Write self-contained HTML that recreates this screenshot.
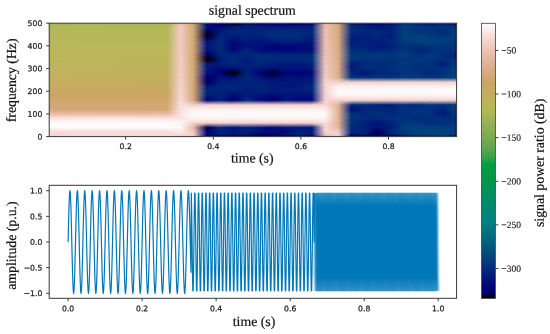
<!DOCTYPE html>
<html lang="en"><head><meta charset="utf-8"><title>signal spectrum</title>
<style>html,body{margin:0;padding:0;background:#fff}svg{display:block}.t{font-family:"DejaVu Sans","Liberation Sans",sans-serif;font-size:7.7px;fill:#1c1c1c;stroke:#1c1c1c;stroke-width:.25px}.s{font-family:"Liberation Serif","DejaVu Serif",serif;font-size:13.8px;fill:#111;stroke:#111;stroke-width:.2px}.c{font-family:"Liberation Serif","DejaVu Serif",serif;font-size:9.5px;fill:#1c1c1c;stroke:#1c1c1c;stroke-width:.15px}</style></head><body>
<svg width="550" height="334" viewBox="0 0 550 334">
<defs><linearGradient id="r23" gradientUnits="userSpaceOnUse" x1="49.5" x2="457.5" y1="0" y2="0"><stop offset="0" stop-color="#d3d7a4"/><stop offset="0.0025" stop-color="#bfc67c"/><stop offset="0.0049" stop-color="#c3ca84"/><stop offset="0.2868" stop-color="#c2c983"/><stop offset="0.2892" stop-color="#c4c984"/><stop offset="0.3211" stop-color="#f1d5ca"/><stop offset="0.3235" stop-color="#f2d3c8"/><stop offset="0.3529" stop-color="#dbbd91"/><stop offset="0.3627" stop-color="#ad9c94"/><stop offset="0.3799" stop-color="#66699a"/><stop offset="0.3848" stop-color="#4a569c"/><stop offset="0.3873" stop-color="#42509c"/><stop offset="0.4167" stop-color="#454298"/><stop offset="0.451" stop-color="#404369"/><stop offset="0.4828" stop-color="#44569d"/><stop offset="0.5417" stop-color="#45469c"/><stop offset="0.6422" stop-color="#434f9c"/><stop offset="0.6446" stop-color="#4b549d"/><stop offset="0.652" stop-color="#7875a6"/><stop offset="0.6691" stop-color="#c9b1b7"/><stop offset="0.6765" stop-color="#f0cdbe"/><stop offset="0.7059" stop-color="#e3c0a0"/><stop offset="0.7083" stop-color="#dfbd9d"/><stop offset="0.7157" stop-color="#b9a69d"/><stop offset="0.7353" stop-color="#62709d"/><stop offset="0.7402" stop-color="#455e9d"/><stop offset="0.7426" stop-color="#425d9d"/><stop offset="0.8064" stop-color="#44529d"/><stop offset="0.8382" stop-color="#445d9d"/><stop offset="0.8701" stop-color="#3f719e"/><stop offset="0.8995" stop-color="#41699e"/><stop offset="0.9314" stop-color="#445c9d"/><stop offset="0.9657" stop-color="#41649d"/><stop offset="0.9902" stop-color="#435e9d"/><stop offset="0.9926" stop-color="#47609e"/><stop offset="0.9951" stop-color="#374f95"/><stop offset="0.9975" stop-color="#a4b0ce"/><stop offset="1" stop-color="#ffffff"/></linearGradient>
<linearGradient id="r24" gradientUnits="userSpaceOnUse" x1="49.5" x2="457.5" y1="0" y2="0"><stop offset="0" stop-color="#c1c67c"/><stop offset="0.0025" stop-color="#a6af3f"/><stop offset="0.0049" stop-color="#abb34d"/><stop offset="0.2868" stop-color="#aab34a"/><stop offset="0.2892" stop-color="#abb34c"/><stop offset="0.2917" stop-color="#afb353"/><stop offset="0.3015" stop-color="#c4b977"/><stop offset="0.3211" stop-color="#eec4b6"/><stop offset="0.3235" stop-color="#edc2b3"/><stop offset="0.3529" stop-color="#cda062"/><stop offset="0.3603" stop-color="#a18164"/><stop offset="0.375" stop-color="#3f3c6d"/><stop offset="0.3824" stop-color="#071371"/><stop offset="0.3848" stop-color="#000671"/><stop offset="0.3873" stop-color="#000271"/><stop offset="0.4167" stop-color="#00006a"/><stop offset="0.4216" stop-color="#000066"/><stop offset="0.4436" stop-color="#00003c"/><stop offset="0.451" stop-color="#000036"/><stop offset="0.4608" stop-color="#000045"/><stop offset="0.4755" stop-color="#000667"/><stop offset="0.4828" stop-color="#000a72"/><stop offset="0.5441" stop-color="#000070"/><stop offset="0.6422" stop-color="#000371"/><stop offset="0.6446" stop-color="#000972"/><stop offset="0.6471" stop-color="#0b1877"/><stop offset="0.6569" stop-color="#5e5188"/><stop offset="0.6642" stop-color="#927992"/><stop offset="0.674" stop-color="#deb1a3"/><stop offset="0.6765" stop-color="#e9b9a4"/><stop offset="0.7059" stop-color="#d6a776"/><stop offset="0.7083" stop-color="#d1a273"/><stop offset="0.7279" stop-color="#4e4e74"/><stop offset="0.7328" stop-color="#273773"/><stop offset="0.7353" stop-color="#0e2c72"/><stop offset="0.7377" stop-color="#002073"/><stop offset="0.7402" stop-color="#001673"/><stop offset="0.7426" stop-color="#001473"/><stop offset="0.7819" stop-color="#000772"/><stop offset="0.8064" stop-color="#000572"/><stop offset="0.8358" stop-color="#001072"/><stop offset="0.8701" stop-color="#003274"/><stop offset="0.9314" stop-color="#001673"/><stop offset="0.9632" stop-color="#002073"/><stop offset="0.9877" stop-color="#001873"/><stop offset="0.9926" stop-color="#001b75"/><stop offset="0.9951" stop-color="#000467"/><stop offset="0.9975" stop-color="#7e8fba"/><stop offset="1" stop-color="#ffffff"/></linearGradient>
<linearGradient id="r25" gradientUnits="userSpaceOnUse" x1="49.5" x2="457.5" y1="0" y2="0"><stop offset="0" stop-color="#c5ca85"/><stop offset="0.0025" stop-color="#acb34e"/><stop offset="0.0049" stop-color="#b1b859"/><stop offset="0.2868" stop-color="#b0b757"/><stop offset="0.2892" stop-color="#b0b758"/><stop offset="0.2917" stop-color="#b4b85f"/><stop offset="0.3162" stop-color="#e6c6af"/><stop offset="0.3211" stop-color="#efc9bc"/><stop offset="0.3235" stop-color="#eec7b9"/><stop offset="0.3333" stop-color="#e5bda2"/><stop offset="0.3529" stop-color="#d0a86d"/><stop offset="0.3652" stop-color="#8d7772"/><stop offset="0.375" stop-color="#464477"/><stop offset="0.3848" stop-color="#05187a"/><stop offset="0.3873" stop-color="#00117a"/><stop offset="0.4167" stop-color="#030576"/><stop offset="0.451" stop-color="#000e56"/><stop offset="0.4828" stop-color="#001e7b"/><stop offset="0.5441" stop-color="#00117a"/><stop offset="0.6422" stop-color="#00177b"/><stop offset="0.6446" stop-color="#061f7c"/><stop offset="0.6495" stop-color="#2f3884"/><stop offset="0.6569" stop-color="#645d8f"/><stop offset="0.6642" stop-color="#a1889c"/><stop offset="0.674" stop-color="#e0b6ab"/><stop offset="0.6765" stop-color="#ecbeac"/><stop offset="0.7059" stop-color="#daad81"/><stop offset="0.7083" stop-color="#d5a97e"/><stop offset="0.7206" stop-color="#8c7b7e"/><stop offset="0.7279" stop-color="#53597d"/><stop offset="0.7353" stop-color="#203c7d"/><stop offset="0.7377" stop-color="#0a327c"/><stop offset="0.7402" stop-color="#00287c"/><stop offset="0.8064" stop-color="#00177b"/><stop offset="0.8358" stop-color="#00207b"/><stop offset="0.8701" stop-color="#00407e"/><stop offset="0.9314" stop-color="#002a7c"/><stop offset="0.9632" stop-color="#00327c"/><stop offset="0.9902" stop-color="#002c7c"/><stop offset="0.9926" stop-color="#00307e"/><stop offset="0.9951" stop-color="#001972"/><stop offset="0.9975" stop-color="#8698bf"/><stop offset="1" stop-color="#ffffff"/></linearGradient>
<linearGradient id="r26" gradientUnits="userSpaceOnUse" x1="49.5" x2="457.5" y1="0" y2="0"><stop offset="0" stop-color="#c5c984"/><stop offset="0.0025" stop-color="#adb34c"/><stop offset="0.0049" stop-color="#b2b758"/><stop offset="0.2868" stop-color="#b1b656"/><stop offset="0.2892" stop-color="#b0b757"/><stop offset="0.2917" stop-color="#b4b85e"/><stop offset="0.3186" stop-color="#ecc8b8"/><stop offset="0.3211" stop-color="#f0c9be"/><stop offset="0.3235" stop-color="#efc7bb"/><stop offset="0.3529" stop-color="#d0a76d"/><stop offset="0.3578" stop-color="#b7936f"/><stop offset="0.3725" stop-color="#595074"/><stop offset="0.3848" stop-color="#011478"/><stop offset="0.3873" stop-color="#000d78"/><stop offset="0.4167" stop-color="#000676"/><stop offset="0.4265" stop-color="#00096c"/><stop offset="0.4387" stop-color="#00106c"/><stop offset="0.451" stop-color="#001364"/><stop offset="0.4583" stop-color="#00176c"/><stop offset="0.473" stop-color="#00196f"/><stop offset="0.4828" stop-color="#001e79"/><stop offset="0.5417" stop-color="#001679"/><stop offset="0.6422" stop-color="#001879"/><stop offset="0.6446" stop-color="#00207a"/><stop offset="0.652" stop-color="#414787"/><stop offset="0.6569" stop-color="#686290"/><stop offset="0.674" stop-color="#e1b6ac"/><stop offset="0.6765" stop-color="#ecbead"/><stop offset="0.7059" stop-color="#daac81"/><stop offset="0.7083" stop-color="#d5a87e"/><stop offset="0.7279" stop-color="#565b7c"/><stop offset="0.7304" stop-color="#45517b"/><stop offset="0.7377" stop-color="#05317a"/><stop offset="0.7402" stop-color="#00277a"/><stop offset="0.8064" stop-color="#001679"/><stop offset="0.8358" stop-color="#001c79"/><stop offset="0.8701" stop-color="#003f7c"/><stop offset="0.9314" stop-color="#002a7b"/><stop offset="0.9632" stop-color="#00327b"/><stop offset="0.9902" stop-color="#002e7b"/><stop offset="0.9926" stop-color="#00327d"/><stop offset="0.9951" stop-color="#001b71"/><stop offset="0.9975" stop-color="#8499bf"/><stop offset="1" stop-color="#ffffff"/></linearGradient>
<linearGradient id="r27" gradientUnits="userSpaceOnUse" x1="49.5" x2="457.5" y1="0" y2="0"><stop offset="0" stop-color="#c6ca84"/><stop offset="0.0025" stop-color="#aeb34b"/><stop offset="0.0049" stop-color="#b3b858"/><stop offset="0.2868" stop-color="#b2b756"/><stop offset="0.2892" stop-color="#b2b757"/><stop offset="0.2941" stop-color="#bdba6b"/><stop offset="0.3211" stop-color="#f1cabf"/><stop offset="0.3235" stop-color="#f0c8bb"/><stop offset="0.3431" stop-color="#dcb38b"/><stop offset="0.3529" stop-color="#d1a770"/><stop offset="0.3603" stop-color="#a18371"/><stop offset="0.3799" stop-color="#2f3277"/><stop offset="0.3824" stop-color="#1c2678"/><stop offset="0.3848" stop-color="#031678"/><stop offset="0.3873" stop-color="#000e78"/><stop offset="0.4191" stop-color="#000c76"/><stop offset="0.451" stop-color="#001c75"/><stop offset="0.4583" stop-color="#001f78"/><stop offset="0.6422" stop-color="#001e7a"/><stop offset="0.6446" stop-color="#00267b"/><stop offset="0.6495" stop-color="#364486"/><stop offset="0.6544" stop-color="#595b8e"/><stop offset="0.6691" stop-color="#b89aa4"/><stop offset="0.674" stop-color="#deb4ac"/><stop offset="0.6765" stop-color="#edbeae"/><stop offset="0.7059" stop-color="#dbad83"/><stop offset="0.7083" stop-color="#d5a880"/><stop offset="0.7132" stop-color="#b0927f"/><stop offset="0.7304" stop-color="#4a547c"/><stop offset="0.7353" stop-color="#26417b"/><stop offset="0.7377" stop-color="#0a367a"/><stop offset="0.7402" stop-color="#002a7a"/><stop offset="0.7721" stop-color="#00237a"/><stop offset="0.8015" stop-color="#001879"/><stop offset="0.8358" stop-color="#001b7a"/><stop offset="0.8701" stop-color="#00407c"/><stop offset="0.9289" stop-color="#00307b"/><stop offset="0.9632" stop-color="#00347b"/><stop offset="0.9902" stop-color="#00337b"/><stop offset="0.9926" stop-color="#00367d"/><stop offset="0.9951" stop-color="#002270"/><stop offset="0.9975" stop-color="#849bbf"/><stop offset="1" stop-color="#ffffff"/></linearGradient>
<linearGradient id="r28" gradientUnits="userSpaceOnUse" x1="49.5" x2="457.5" y1="0" y2="0"><stop offset="0" stop-color="#c6ca84"/><stop offset="0.0025" stop-color="#aeb34b"/><stop offset="0.0049" stop-color="#b3b858"/><stop offset="0.2868" stop-color="#b2b756"/><stop offset="0.2892" stop-color="#b3b757"/><stop offset="0.3015" stop-color="#ccbf83"/><stop offset="0.3211" stop-color="#f1cbc0"/><stop offset="0.3235" stop-color="#f0c9bd"/><stop offset="0.3456" stop-color="#dab186"/><stop offset="0.3529" stop-color="#d1a770"/><stop offset="0.3603" stop-color="#a4846b"/><stop offset="0.375" stop-color="#4d4571"/><stop offset="0.3799" stop-color="#2c2d70"/><stop offset="0.3848" stop-color="#03116d"/><stop offset="0.3873" stop-color="#000b6f"/><stop offset="0.3971" stop-color="#000d73"/><stop offset="0.4118" stop-color="#000c73"/><stop offset="0.4191" stop-color="#001078"/><stop offset="0.451" stop-color="#00217b"/><stop offset="0.6422" stop-color="#00217a"/><stop offset="0.6446" stop-color="#00287b"/><stop offset="0.6495" stop-color="#304284"/><stop offset="0.6544" stop-color="#595c8d"/><stop offset="0.6765" stop-color="#edbfaf"/><stop offset="0.7059" stop-color="#dbad83"/><stop offset="0.7083" stop-color="#d6a980"/><stop offset="0.7181" stop-color="#95817f"/><stop offset="0.7304" stop-color="#49557c"/><stop offset="0.7353" stop-color="#22417b"/><stop offset="0.7377" stop-color="#06367a"/><stop offset="0.7402" stop-color="#002b7a"/><stop offset="0.7794" stop-color="#002379"/><stop offset="0.799" stop-color="#001b79"/><stop offset="0.8309" stop-color="#001c79"/><stop offset="0.8382" stop-color="#001f7a"/><stop offset="0.8701" stop-color="#00407c"/><stop offset="0.902" stop-color="#00357b"/><stop offset="0.9338" stop-color="#00317b"/><stop offset="0.9902" stop-color="#00347b"/><stop offset="0.9926" stop-color="#00377d"/><stop offset="0.9951" stop-color="#002470"/><stop offset="0.9975" stop-color="#839dbf"/><stop offset="1" stop-color="#ffffff"/></linearGradient>
<linearGradient id="r29" gradientUnits="userSpaceOnUse" x1="49.5" x2="457.5" y1="0" y2="0"><stop offset="0" stop-color="#c6ca84"/><stop offset="0.0025" stop-color="#afb34b"/><stop offset="0.0049" stop-color="#b4b858"/><stop offset="0.2868" stop-color="#b3b756"/><stop offset="0.2892" stop-color="#b3b757"/><stop offset="0.2917" stop-color="#b7b85e"/><stop offset="0.3186" stop-color="#edcaba"/><stop offset="0.3211" stop-color="#f1cbc0"/><stop offset="0.3235" stop-color="#f0c9bd"/><stop offset="0.3529" stop-color="#d1a770"/><stop offset="0.3627" stop-color="#9a7b68"/><stop offset="0.375" stop-color="#473e67"/><stop offset="0.3848" stop-color="#020b5f"/><stop offset="0.3873" stop-color="#000660"/><stop offset="0.4191" stop-color="#001378"/><stop offset="0.4485" stop-color="#002279"/><stop offset="0.5662" stop-color="#00267a"/><stop offset="0.6422" stop-color="#00237a"/><stop offset="0.6446" stop-color="#00297b"/><stop offset="0.652" stop-color="#3f4c88"/><stop offset="0.6642" stop-color="#9d8b9d"/><stop offset="0.6716" stop-color="#d2aea9"/><stop offset="0.6765" stop-color="#edbfaf"/><stop offset="0.7059" stop-color="#dbad83"/><stop offset="0.7083" stop-color="#d6a980"/><stop offset="0.7157" stop-color="#aa8e7f"/><stop offset="0.7255" stop-color="#68667e"/><stop offset="0.7328" stop-color="#30497b"/><stop offset="0.7353" stop-color="#1b3f7b"/><stop offset="0.7377" stop-color="#01357a"/><stop offset="0.7402" stop-color="#002b7a"/><stop offset="0.7451" stop-color="#00297a"/><stop offset="0.8162" stop-color="#001e79"/><stop offset="0.8382" stop-color="#00207a"/><stop offset="0.8701" stop-color="#003f7c"/><stop offset="0.902" stop-color="#00347b"/><stop offset="0.9412" stop-color="#00317b"/><stop offset="0.9877" stop-color="#00347b"/><stop offset="0.9926" stop-color="#00397d"/><stop offset="0.9951" stop-color="#002770"/><stop offset="0.9975" stop-color="#839ebf"/><stop offset="1" stop-color="#ffffff"/></linearGradient>
<linearGradient id="r30" gradientUnits="userSpaceOnUse" x1="49.5" x2="457.5" y1="0" y2="0"><stop offset="0" stop-color="#c6ca84"/><stop offset="0.0025" stop-color="#afb34b"/><stop offset="0.0049" stop-color="#b4b858"/><stop offset="0.2868" stop-color="#b3b756"/><stop offset="0.2892" stop-color="#b3b757"/><stop offset="0.2917" stop-color="#b7b85e"/><stop offset="0.3186" stop-color="#edcaba"/><stop offset="0.3211" stop-color="#f1cbc0"/><stop offset="0.3235" stop-color="#f0c9bd"/><stop offset="0.3529" stop-color="#d1a770"/><stop offset="0.3627" stop-color="#9a7c68"/><stop offset="0.3725" stop-color="#56445d"/><stop offset="0.3848" stop-color="#020653"/><stop offset="0.3873" stop-color="#000254"/><stop offset="0.3946" stop-color="#000459"/><stop offset="0.4044" stop-color="#000c69"/><stop offset="0.4191" stop-color="#001679"/><stop offset="0.451" stop-color="#00247a"/><stop offset="0.4951" stop-color="#00227a"/><stop offset="0.5956" stop-color="#00287a"/><stop offset="0.6422" stop-color="#00247a"/><stop offset="0.6446" stop-color="#002b7b"/><stop offset="0.6495" stop-color="#2b4284"/><stop offset="0.6642" stop-color="#a08c9e"/><stop offset="0.674" stop-color="#e1b7ae"/><stop offset="0.6765" stop-color="#edbfaf"/><stop offset="0.7059" stop-color="#dbad83"/><stop offset="0.7083" stop-color="#d6a980"/><stop offset="0.723" stop-color="#79727e"/><stop offset="0.7353" stop-color="#1e3f7c"/><stop offset="0.7377" stop-color="#05357b"/><stop offset="0.7402" stop-color="#002b7a"/><stop offset="0.7745" stop-color="#00237a"/><stop offset="0.8358" stop-color="#00207a"/><stop offset="0.8701" stop-color="#003f7c"/><stop offset="0.902" stop-color="#00347b"/><stop offset="0.9314" stop-color="#00347b"/><stop offset="0.9559" stop-color="#002d7a"/><stop offset="0.9755" stop-color="#00307a"/><stop offset="0.9902" stop-color="#00377b"/><stop offset="0.9926" stop-color="#003c7d"/><stop offset="0.9951" stop-color="#002970"/><stop offset="0.9975" stop-color="#849fbf"/><stop offset="1" stop-color="#ffffff"/></linearGradient>
<linearGradient id="r31" gradientUnits="userSpaceOnUse" x1="49.5" x2="457.5" y1="0" y2="0"><stop offset="0" stop-color="#c8ca84"/><stop offset="0.0025" stop-color="#b1b34b"/><stop offset="0.0049" stop-color="#b6b858"/><stop offset="0.2868" stop-color="#b5b756"/><stop offset="0.2892" stop-color="#b5b757"/><stop offset="0.299" stop-color="#c8bd7a"/><stop offset="0.3211" stop-color="#f1cbc0"/><stop offset="0.3235" stop-color="#f0c9bd"/><stop offset="0.3529" stop-color="#d1a770"/><stop offset="0.3603" stop-color="#a48368"/><stop offset="0.375" stop-color="#483851"/><stop offset="0.3848" stop-color="#020245"/><stop offset="0.3873" stop-color="#000046"/><stop offset="0.3971" stop-color="#000455"/><stop offset="0.4142" stop-color="#001474"/><stop offset="0.4191" stop-color="#001879"/><stop offset="0.451" stop-color="#00277a"/><stop offset="0.4902" stop-color="#00227a"/><stop offset="0.5637" stop-color="#002b7b"/><stop offset="0.6422" stop-color="#00277a"/><stop offset="0.6446" stop-color="#002c7b"/><stop offset="0.6495" stop-color="#304685"/><stop offset="0.6569" stop-color="#6a6a92"/><stop offset="0.6667" stop-color="#a993a0"/><stop offset="0.674" stop-color="#e1b7ae"/><stop offset="0.6765" stop-color="#edbfaf"/><stop offset="0.7059" stop-color="#dbad83"/><stop offset="0.7083" stop-color="#d6a980"/><stop offset="0.7181" stop-color="#95817f"/><stop offset="0.7304" stop-color="#49557c"/><stop offset="0.7353" stop-color="#21407c"/><stop offset="0.7377" stop-color="#03367b"/><stop offset="0.7402" stop-color="#002c7b"/><stop offset="0.7672" stop-color="#00247a"/><stop offset="0.8064" stop-color="#00277a"/><stop offset="0.8358" stop-color="#00217a"/><stop offset="0.8676" stop-color="#003d7c"/><stop offset="0.8725" stop-color="#003e7c"/><stop offset="0.8995" stop-color="#00347b"/><stop offset="0.9314" stop-color="#00357b"/><stop offset="0.9657" stop-color="#002a7a"/><stop offset="0.9902" stop-color="#00387b"/><stop offset="0.9926" stop-color="#003e7d"/><stop offset="0.9951" stop-color="#002b70"/><stop offset="0.9975" stop-color="#83a0bf"/><stop offset="1" stop-color="#ffffff"/></linearGradient>
<linearGradient id="r32" gradientUnits="userSpaceOnUse" x1="49.5" x2="457.5" y1="0" y2="0"><stop offset="0" stop-color="#c8ca84"/><stop offset="0.0025" stop-color="#b1b34b"/><stop offset="0.0049" stop-color="#b6b858"/><stop offset="0.2868" stop-color="#b5b756"/><stop offset="0.2892" stop-color="#b5b757"/><stop offset="0.2966" stop-color="#c5bc74"/><stop offset="0.3211" stop-color="#f1cbbf"/><stop offset="0.3235" stop-color="#f0c8bc"/><stop offset="0.348" stop-color="#d8ae81"/><stop offset="0.3529" stop-color="#d1a770"/><stop offset="0.3603" stop-color="#9f7e62"/><stop offset="0.3775" stop-color="#3a2b47"/><stop offset="0.3824" stop-color="#18103f"/><stop offset="0.3848" stop-color="#020138"/><stop offset="0.3873" stop-color="#00003a"/><stop offset="0.402" stop-color="#000758"/><stop offset="0.4191" stop-color="#001b79"/><stop offset="0.451" stop-color="#00277a"/><stop offset="0.4902" stop-color="#00227a"/><stop offset="0.5784" stop-color="#002e7b"/><stop offset="0.6422" stop-color="#00277a"/><stop offset="0.6446" stop-color="#002d7b"/><stop offset="0.6471" stop-color="#1d3d80"/><stop offset="0.652" stop-color="#48558a"/><stop offset="0.6716" stop-color="#c8a8a8"/><stop offset="0.6765" stop-color="#edbfaf"/><stop offset="0.701" stop-color="#dfb18d"/><stop offset="0.7059" stop-color="#dbad84"/><stop offset="0.7083" stop-color="#d5a880"/><stop offset="0.7132" stop-color="#b0927f"/><stop offset="0.7304" stop-color="#4a567c"/><stop offset="0.7353" stop-color="#28447c"/><stop offset="0.7377" stop-color="#0a387b"/><stop offset="0.7402" stop-color="#002c7b"/><stop offset="0.7696" stop-color="#00247a"/><stop offset="0.8064" stop-color="#00297a"/><stop offset="0.8358" stop-color="#00217a"/><stop offset="0.8676" stop-color="#003d7c"/><stop offset="0.8725" stop-color="#003e7b"/><stop offset="0.9069" stop-color="#00347b"/><stop offset="0.9338" stop-color="#00367b"/><stop offset="0.9657" stop-color="#00297a"/><stop offset="0.9902" stop-color="#00387b"/><stop offset="0.9926" stop-color="#003f7d"/><stop offset="0.9951" stop-color="#002c70"/><stop offset="0.9975" stop-color="#83a0bf"/><stop offset="1" stop-color="#ffffff"/></linearGradient>
<linearGradient id="r33" gradientUnits="userSpaceOnUse" x1="49.5" x2="457.5" y1="0" y2="0"><stop offset="0" stop-color="#c8ca84"/><stop offset="0.0025" stop-color="#b1b34b"/><stop offset="0.0049" stop-color="#b6b858"/><stop offset="0.2868" stop-color="#b5b756"/><stop offset="0.2892" stop-color="#b5b757"/><stop offset="0.3186" stop-color="#edcaba"/><stop offset="0.3211" stop-color="#f1cbc0"/><stop offset="0.3235" stop-color="#f0c9bd"/><stop offset="0.3529" stop-color="#d1a770"/><stop offset="0.3578" stop-color="#b69066"/><stop offset="0.375" stop-color="#483649"/><stop offset="0.3824" stop-color="#100a3b"/><stop offset="0.3848" stop-color="#010135"/><stop offset="0.3873" stop-color="#000036"/><stop offset="0.3971" stop-color="#00044c"/><stop offset="0.4191" stop-color="#001f79"/><stop offset="0.4314" stop-color="#001f79"/><stop offset="0.4461" stop-color="#00247a"/><stop offset="0.5" stop-color="#00237a"/><stop offset="0.5613" stop-color="#002d7b"/><stop offset="0.6103" stop-color="#002c7b"/><stop offset="0.6397" stop-color="#00267a"/><stop offset="0.6422" stop-color="#00267a"/><stop offset="0.6446" stop-color="#002b7b"/><stop offset="0.652" stop-color="#425088"/><stop offset="0.6569" stop-color="#686991"/><stop offset="0.674" stop-color="#e1b7ae"/><stop offset="0.6765" stop-color="#edbfaf"/><stop offset="0.7059" stop-color="#dbad83"/><stop offset="0.7083" stop-color="#d6a980"/><stop offset="0.7304" stop-color="#49537c"/><stop offset="0.7353" stop-color="#1e3e7c"/><stop offset="0.7377" stop-color="#05337b"/><stop offset="0.7402" stop-color="#00297a"/><stop offset="0.7672" stop-color="#00227a"/><stop offset="0.8064" stop-color="#00297a"/><stop offset="0.8358" stop-color="#00207a"/><stop offset="0.8701" stop-color="#003f7c"/><stop offset="0.8971" stop-color="#00377b"/><stop offset="0.9314" stop-color="#00387b"/><stop offset="0.9559" stop-color="#002e7b"/><stop offset="0.9681" stop-color="#002d7b"/><stop offset="0.9877" stop-color="#00397b"/><stop offset="0.9926" stop-color="#00407e"/><stop offset="0.9951" stop-color="#002e71"/><stop offset="0.9975" stop-color="#83a1bf"/><stop offset="1" stop-color="#ffffff"/></linearGradient>
<linearGradient id="r34" gradientUnits="userSpaceOnUse" x1="49.5" x2="457.5" y1="0" y2="0"><stop offset="0" stop-color="#c8ca84"/><stop offset="0.0025" stop-color="#b1b34b"/><stop offset="0.0049" stop-color="#b6b858"/><stop offset="0.2868" stop-color="#b5b756"/><stop offset="0.2892" stop-color="#b5b757"/><stop offset="0.3113" stop-color="#e0c6a4"/><stop offset="0.3186" stop-color="#edcaba"/><stop offset="0.3211" stop-color="#f1cbc0"/><stop offset="0.3235" stop-color="#f0c9bd"/><stop offset="0.3529" stop-color="#d1a770"/><stop offset="0.3652" stop-color="#8b6c5b"/><stop offset="0.375" stop-color="#413145"/><stop offset="0.3824" stop-color="#100a37"/><stop offset="0.3848" stop-color="#010132"/><stop offset="0.3873" stop-color="#000033"/><stop offset="0.3971" stop-color="#000448"/><stop offset="0.4044" stop-color="#000e5b"/><stop offset="0.4191" stop-color="#002179"/><stop offset="0.5172" stop-color="#00237a"/><stop offset="0.5466" stop-color="#002c7b"/><stop offset="0.5637" stop-color="#002d7b"/><stop offset="0.6103" stop-color="#002c7b"/><stop offset="0.6422" stop-color="#00237a"/><stop offset="0.6446" stop-color="#002a7b"/><stop offset="0.6495" stop-color="#2c4184"/><stop offset="0.6544" stop-color="#50578c"/><stop offset="0.6642" stop-color="#a18c9e"/><stop offset="0.674" stop-color="#e1b7ae"/><stop offset="0.6765" stop-color="#edbfaf"/><stop offset="0.7059" stop-color="#dbad83"/><stop offset="0.7083" stop-color="#d6a980"/><stop offset="0.7206" stop-color="#8c7a7f"/><stop offset="0.7279" stop-color="#53577d"/><stop offset="0.7353" stop-color="#1d3b7c"/><stop offset="0.7377" stop-color="#05317a"/><stop offset="0.7402" stop-color="#00277a"/><stop offset="0.7745" stop-color="#00207a"/><stop offset="0.8064" stop-color="#00297a"/><stop offset="0.8358" stop-color="#001c7a"/><stop offset="0.8701" stop-color="#00407c"/><stop offset="0.8971" stop-color="#00397c"/><stop offset="0.9314" stop-color="#00397c"/><stop offset="0.9559" stop-color="#00327b"/><stop offset="0.9681" stop-color="#00327b"/><stop offset="0.9902" stop-color="#003c7c"/><stop offset="0.9926" stop-color="#00407e"/><stop offset="0.9951" stop-color="#002e71"/><stop offset="0.9975" stop-color="#83a1bf"/><stop offset="1" stop-color="#ffffff"/></linearGradient>
<linearGradient id="r35" gradientUnits="userSpaceOnUse" x1="49.5" x2="457.5" y1="0" y2="0"><stop offset="0" stop-color="#c8ca84"/><stop offset="0.0025" stop-color="#b1b34b"/><stop offset="0.0049" stop-color="#b6b858"/><stop offset="0.2868" stop-color="#b5b756"/><stop offset="0.2892" stop-color="#b5b757"/><stop offset="0.3186" stop-color="#edcaba"/><stop offset="0.3211" stop-color="#f1cbc0"/><stop offset="0.3235" stop-color="#f0c9bd"/><stop offset="0.3529" stop-color="#d1a770"/><stop offset="0.3603" stop-color="#a78362"/><stop offset="0.3725" stop-color="#564249"/><stop offset="0.3799" stop-color="#221638"/><stop offset="0.3824" stop-color="#0f0934"/><stop offset="0.3848" stop-color="#01012e"/><stop offset="0.3873" stop-color="#00002f"/><stop offset="0.3971" stop-color="#000547"/><stop offset="0.4191" stop-color="#00237a"/><stop offset="0.4436" stop-color="#001e79"/><stop offset="0.4755" stop-color="#00237a"/><stop offset="0.5172" stop-color="#00227a"/><stop offset="0.5466" stop-color="#002c7b"/><stop offset="0.598" stop-color="#002d7b"/><stop offset="0.6422" stop-color="#00227a"/><stop offset="0.6446" stop-color="#00297b"/><stop offset="0.6495" stop-color="#2c4083"/><stop offset="0.6569" stop-color="#686691"/><stop offset="0.6691" stop-color="#c1a1a6"/><stop offset="0.674" stop-color="#e1b7ae"/><stop offset="0.6765" stop-color="#edbfaf"/><stop offset="0.7059" stop-color="#dbad83"/><stop offset="0.7083" stop-color="#d6a980"/><stop offset="0.7157" stop-color="#a98c7f"/><stop offset="0.7279" stop-color="#57597d"/><stop offset="0.7328" stop-color="#32427c"/><stop offset="0.7377" stop-color="#072d7a"/><stop offset="0.7402" stop-color="#00237a"/><stop offset="0.7745" stop-color="#001f7a"/><stop offset="0.8064" stop-color="#00297a"/><stop offset="0.8358" stop-color="#001b79"/><stop offset="0.8701" stop-color="#00417c"/><stop offset="0.9681" stop-color="#00357b"/><stop offset="0.9902" stop-color="#003c7c"/><stop offset="0.9926" stop-color="#00417e"/><stop offset="0.9951" stop-color="#002e71"/><stop offset="0.9975" stop-color="#83a1bf"/><stop offset="1" stop-color="#ffffff"/></linearGradient>
<linearGradient id="r36" gradientUnits="userSpaceOnUse" x1="49.5" x2="457.5" y1="0" y2="0"><stop offset="0" stop-color="#c8ca84"/><stop offset="0.0025" stop-color="#b1b34b"/><stop offset="0.0049" stop-color="#b6b858"/><stop offset="0.2868" stop-color="#b5b756"/><stop offset="0.2892" stop-color="#b5b757"/><stop offset="0.2941" stop-color="#c0ba6b"/><stop offset="0.3211" stop-color="#f1cbbf"/><stop offset="0.3235" stop-color="#f0c9bc"/><stop offset="0.3529" stop-color="#d1a770"/><stop offset="0.3603" stop-color="#a07e5e"/><stop offset="0.375" stop-color="#493643"/><stop offset="0.3799" stop-color="#291c37"/><stop offset="0.3848" stop-color="#02012b"/><stop offset="0.3873" stop-color="#00002c"/><stop offset="0.3971" stop-color="#000647"/><stop offset="0.4191" stop-color="#00267a"/><stop offset="0.4534" stop-color="#001b79"/><stop offset="0.4828" stop-color="#00247a"/><stop offset="0.5123" stop-color="#00207a"/><stop offset="0.5466" stop-color="#002c7b"/><stop offset="0.6103" stop-color="#002c7b"/><stop offset="0.6422" stop-color="#00207a"/><stop offset="0.6446" stop-color="#00287b"/><stop offset="0.6471" stop-color="#1d3781"/><stop offset="0.652" stop-color="#48508a"/><stop offset="0.6691" stop-color="#b99ca4"/><stop offset="0.674" stop-color="#deb5ad"/><stop offset="0.6765" stop-color="#edbfae"/><stop offset="0.7059" stop-color="#dcae84"/><stop offset="0.7083" stop-color="#d5a880"/><stop offset="0.7157" stop-color="#a18780"/><stop offset="0.7328" stop-color="#39457c"/><stop offset="0.7377" stop-color="#0d2d7b"/><stop offset="0.7402" stop-color="#00217a"/><stop offset="0.7745" stop-color="#001e7a"/><stop offset="0.8064" stop-color="#00297a"/><stop offset="0.8358" stop-color="#001979"/><stop offset="0.8701" stop-color="#00427c"/><stop offset="0.9657" stop-color="#00387c"/><stop offset="0.9902" stop-color="#003e7c"/><stop offset="0.9926" stop-color="#00427e"/><stop offset="0.9951" stop-color="#003071"/><stop offset="0.9975" stop-color="#84a2be"/><stop offset="1" stop-color="#ffffff"/></linearGradient>
<linearGradient id="r37" gradientUnits="userSpaceOnUse" x1="49.5" x2="457.5" y1="0" y2="0"><stop offset="0" stop-color="#c8ca84"/><stop offset="0.0025" stop-color="#b1b34b"/><stop offset="0.0049" stop-color="#b6b858"/><stop offset="0.2868" stop-color="#b5b756"/><stop offset="0.2892" stop-color="#b5b757"/><stop offset="0.3015" stop-color="#cdbf83"/><stop offset="0.3211" stop-color="#f1cbc0"/><stop offset="0.3235" stop-color="#f0c9bc"/><stop offset="0.3529" stop-color="#d1a770"/><stop offset="0.3652" stop-color="#83685b"/><stop offset="0.375" stop-color="#4a3847"/><stop offset="0.3848" stop-color="#030236"/><stop offset="0.3873" stop-color="#000137"/><stop offset="0.3922" stop-color="#000340"/><stop offset="0.4118" stop-color="#001f6e"/><stop offset="0.4191" stop-color="#00287a"/><stop offset="0.451" stop-color="#001779"/><stop offset="0.4804" stop-color="#002279"/><stop offset="0.5172" stop-color="#001e7a"/><stop offset="0.5588" stop-color="#002b7b"/><stop offset="0.6103" stop-color="#002a7b"/><stop offset="0.6422" stop-color="#001e7a"/><stop offset="0.6446" stop-color="#00267b"/><stop offset="0.6471" stop-color="#1b3380"/><stop offset="0.652" stop-color="#464e8a"/><stop offset="0.6691" stop-color="#b99ca5"/><stop offset="0.674" stop-color="#dfb5ad"/><stop offset="0.6765" stop-color="#edbfaf"/><stop offset="0.7034" stop-color="#ddaf88"/><stop offset="0.7083" stop-color="#d5a980"/><stop offset="0.7181" stop-color="#937d7f"/><stop offset="0.7304" stop-color="#494e7c"/><stop offset="0.7353" stop-color="#24387b"/><stop offset="0.7377" stop-color="#0d2b7a"/><stop offset="0.7402" stop-color="#00207a"/><stop offset="0.777" stop-color="#001e7a"/><stop offset="0.8039" stop-color="#00287a"/><stop offset="0.8358" stop-color="#001a79"/><stop offset="0.8701" stop-color="#00427c"/><stop offset="0.973" stop-color="#003b7c"/><stop offset="0.9902" stop-color="#003e7c"/><stop offset="0.9926" stop-color="#00427e"/><stop offset="0.9951" stop-color="#003071"/><stop offset="0.9975" stop-color="#84a1bf"/><stop offset="1" stop-color="#ffffff"/></linearGradient>
<linearGradient id="r38" gradientUnits="userSpaceOnUse" x1="49.5" x2="457.5" y1="0" y2="0"><stop offset="0" stop-color="#c8ca84"/><stop offset="0.0025" stop-color="#b1b34b"/><stop offset="0.0049" stop-color="#b6b858"/><stop offset="0.2868" stop-color="#b5b756"/><stop offset="0.2892" stop-color="#b5b757"/><stop offset="0.3186" stop-color="#edcaba"/><stop offset="0.3211" stop-color="#f1cbc0"/><stop offset="0.3235" stop-color="#f0c9bd"/><stop offset="0.3529" stop-color="#d1a770"/><stop offset="0.3627" stop-color="#9a7b67"/><stop offset="0.375" stop-color="#463852"/><stop offset="0.3848" stop-color="#020649"/><stop offset="0.3873" stop-color="#000349"/><stop offset="0.3971" stop-color="#000c55"/><stop offset="0.4069" stop-color="#001b6b"/><stop offset="0.4191" stop-color="#00297a"/><stop offset="0.4485" stop-color="#001479"/><stop offset="0.4804" stop-color="#002079"/><stop offset="0.5172" stop-color="#001a7a"/><stop offset="0.5466" stop-color="#00277a"/><stop offset="0.5588" stop-color="#00287a"/><stop offset="0.6103" stop-color="#00287a"/><stop offset="0.6422" stop-color="#001b7a"/><stop offset="0.6446" stop-color="#00227b"/><stop offset="0.6544" stop-color="#53548d"/><stop offset="0.6642" stop-color="#9d879e"/><stop offset="0.6716" stop-color="#d1adaa"/><stop offset="0.6765" stop-color="#ecc0b0"/><stop offset="0.7059" stop-color="#dbad83"/><stop offset="0.7083" stop-color="#d6a980"/><stop offset="0.7157" stop-color="#ab8b7f"/><stop offset="0.723" stop-color="#796a7e"/><stop offset="0.7377" stop-color="#0a297a"/><stop offset="0.7402" stop-color="#001f7a"/><stop offset="0.7598" stop-color="#001e7a"/><stop offset="0.8039" stop-color="#00247a"/><stop offset="0.8358" stop-color="#001e79"/><stop offset="0.8701" stop-color="#00407c"/><stop offset="0.9828" stop-color="#003c7c"/><stop offset="0.9926" stop-color="#00407e"/><stop offset="0.9951" stop-color="#002d71"/><stop offset="0.9975" stop-color="#83a0bf"/><stop offset="1" stop-color="#ffffff"/></linearGradient>
<linearGradient id="r39" gradientUnits="userSpaceOnUse" x1="49.5" x2="457.5" y1="0" y2="0"><stop offset="0" stop-color="#c9ca84"/><stop offset="0.0025" stop-color="#b2b34d"/><stop offset="0.0049" stop-color="#b7b859"/><stop offset="0.2868" stop-color="#b6b757"/><stop offset="0.2892" stop-color="#b6b758"/><stop offset="0.2917" stop-color="#bab85f"/><stop offset="0.3113" stop-color="#e0c5a4"/><stop offset="0.3186" stop-color="#edcaba"/><stop offset="0.3211" stop-color="#f1cbc0"/><stop offset="0.3235" stop-color="#f0c9bd"/><stop offset="0.3529" stop-color="#d1a770"/><stop offset="0.3652" stop-color="#8b7066"/><stop offset="0.3725" stop-color="#564964"/><stop offset="0.3848" stop-color="#030a59"/><stop offset="0.3873" stop-color="#000659"/><stop offset="0.4191" stop-color="#00297a"/><stop offset="0.451" stop-color="#001178"/><stop offset="0.4804" stop-color="#001f79"/><stop offset="0.5172" stop-color="#001879"/><stop offset="0.5466" stop-color="#00237a"/><stop offset="0.5662" stop-color="#00267a"/><stop offset="0.6103" stop-color="#00267a"/><stop offset="0.6422" stop-color="#001979"/><stop offset="0.6446" stop-color="#01217b"/><stop offset="0.6495" stop-color="#2d3983"/><stop offset="0.6544" stop-color="#51528d"/><stop offset="0.6642" stop-color="#a08a9f"/><stop offset="0.674" stop-color="#e2b8af"/><stop offset="0.6765" stop-color="#edc0b1"/><stop offset="0.7059" stop-color="#dbad83"/><stop offset="0.7083" stop-color="#d6a980"/><stop offset="0.7206" stop-color="#8a777e"/><stop offset="0.7279" stop-color="#53517c"/><stop offset="0.7353" stop-color="#1f327a"/><stop offset="0.7377" stop-color="#082879"/><stop offset="0.7402" stop-color="#001e79"/><stop offset="0.8358" stop-color="#00217a"/><stop offset="0.8701" stop-color="#003e7c"/><stop offset="0.902" stop-color="#00407c"/><stop offset="0.9265" stop-color="#00417c"/><stop offset="0.9828" stop-color="#003b7c"/><stop offset="0.9926" stop-color="#003e7d"/><stop offset="0.9951" stop-color="#002a70"/><stop offset="0.9975" stop-color="#849fbf"/><stop offset="1" stop-color="#ffffff"/></linearGradient>
<linearGradient id="r40" gradientUnits="userSpaceOnUse" x1="49.5" x2="457.5" y1="0" y2="0"><stop offset="0" stop-color="#c9ca84"/><stop offset="0.0025" stop-color="#b2b34d"/><stop offset="0.0049" stop-color="#b7b859"/><stop offset="0.2868" stop-color="#b6b757"/><stop offset="0.2892" stop-color="#b6b758"/><stop offset="0.3186" stop-color="#edcaba"/><stop offset="0.3211" stop-color="#f1cbc0"/><stop offset="0.3235" stop-color="#f0c9bd"/><stop offset="0.3529" stop-color="#d1a770"/><stop offset="0.3603" stop-color="#a5846a"/><stop offset="0.3652" stop-color="#856d6b"/><stop offset="0.3725" stop-color="#5c4f6f"/><stop offset="0.3799" stop-color="#282a6e"/><stop offset="0.3848" stop-color="#021069"/><stop offset="0.3873" stop-color="#000b6a"/><stop offset="0.3946" stop-color="#001472"/><stop offset="0.4118" stop-color="#002373"/><stop offset="0.4191" stop-color="#002a7b"/><stop offset="0.451" stop-color="#000d78"/><stop offset="0.4828" stop-color="#001e7a"/><stop offset="0.5123" stop-color="#001479"/><stop offset="0.5466" stop-color="#00207a"/><stop offset="0.5735" stop-color="#00247a"/><stop offset="0.6103" stop-color="#00227a"/><stop offset="0.6422" stop-color="#001879"/><stop offset="0.6446" stop-color="#011f7a"/><stop offset="0.6471" stop-color="#1b2c80"/><stop offset="0.652" stop-color="#464988"/><stop offset="0.6569" stop-color="#6a6393"/><stop offset="0.6642" stop-color="#9a859d"/><stop offset="0.674" stop-color="#e1b9b0"/><stop offset="0.6765" stop-color="#edc1b1"/><stop offset="0.7059" stop-color="#dbad83"/><stop offset="0.7083" stop-color="#d6a980"/><stop offset="0.7206" stop-color="#85737e"/><stop offset="0.7279" stop-color="#5a557c"/><stop offset="0.7328" stop-color="#353f7b"/><stop offset="0.7377" stop-color="#0a2779"/><stop offset="0.7402" stop-color="#001c79"/><stop offset="0.7475" stop-color="#001b79"/><stop offset="0.7745" stop-color="#00237a"/><stop offset="0.8137" stop-color="#001f7a"/><stop offset="0.8382" stop-color="#00267a"/><stop offset="0.8701" stop-color="#003d7c"/><stop offset="0.902" stop-color="#00417c"/><stop offset="0.9314" stop-color="#00427c"/><stop offset="0.9902" stop-color="#00387b"/><stop offset="0.9926" stop-color="#003c7d"/><stop offset="0.9951" stop-color="#002870"/><stop offset="0.9975" stop-color="#849ebf"/><stop offset="1" stop-color="#ffffff"/></linearGradient>
<linearGradient id="r41" gradientUnits="userSpaceOnUse" x1="49.5" x2="457.5" y1="0" y2="0"><stop offset="0" stop-color="#c9ca84"/><stop offset="0.0025" stop-color="#b2b34d"/><stop offset="0.0049" stop-color="#b7b859"/><stop offset="0.2868" stop-color="#b6b757"/><stop offset="0.2892" stop-color="#b6b758"/><stop offset="0.2966" stop-color="#c6bc75"/><stop offset="0.3211" stop-color="#f1cbbf"/><stop offset="0.3235" stop-color="#efc8bc"/><stop offset="0.3456" stop-color="#dab186"/><stop offset="0.3529" stop-color="#d1a770"/><stop offset="0.3603" stop-color="#a18371"/><stop offset="0.3799" stop-color="#2e3377"/><stop offset="0.3824" stop-color="#1d2777"/><stop offset="0.3848" stop-color="#031677"/><stop offset="0.3873" stop-color="#001078"/><stop offset="0.4167" stop-color="#002a7a"/><stop offset="0.451" stop-color="#000a78"/><stop offset="0.4828" stop-color="#001b7a"/><stop offset="0.5172" stop-color="#001279"/><stop offset="0.5662" stop-color="#001f7a"/><stop offset="0.5931" stop-color="#00207a"/><stop offset="0.6152" stop-color="#001e79"/><stop offset="0.6422" stop-color="#001479"/><stop offset="0.6446" stop-color="#041e7b"/><stop offset="0.6471" stop-color="#212e81"/><stop offset="0.652" stop-color="#4a4a8a"/><stop offset="0.6716" stop-color="#c8a7aa"/><stop offset="0.674" stop-color="#deb5af"/><stop offset="0.6765" stop-color="#edc1b2"/><stop offset="0.7059" stop-color="#dcae85"/><stop offset="0.7083" stop-color="#d5a880"/><stop offset="0.7132" stop-color="#b08f7f"/><stop offset="0.7328" stop-color="#3b417c"/><stop offset="0.7402" stop-color="#001c79"/><stop offset="0.7426" stop-color="#001a79"/><stop offset="0.7721" stop-color="#00237a"/><stop offset="0.8064" stop-color="#001c7a"/><stop offset="0.8407" stop-color="#00297a"/><stop offset="0.8701" stop-color="#003b7c"/><stop offset="0.9338" stop-color="#00427c"/><stop offset="0.9902" stop-color="#00377b"/><stop offset="0.9926" stop-color="#003b7d"/><stop offset="0.9951" stop-color="#002670"/><stop offset="0.9975" stop-color="#839dbf"/><stop offset="1" stop-color="#ffffff"/></linearGradient>
<linearGradient id="r42" gradientUnits="userSpaceOnUse" x1="49.5" x2="457.5" y1="0" y2="0"><stop offset="0" stop-color="#caca84"/><stop offset="0.0025" stop-color="#b3b34d"/><stop offset="0.0049" stop-color="#b8b859"/><stop offset="0.2868" stop-color="#b7b757"/><stop offset="0.2892" stop-color="#b6b758"/><stop offset="0.2917" stop-color="#bab85f"/><stop offset="0.3186" stop-color="#edcaba"/><stop offset="0.3211" stop-color="#f1cbc0"/><stop offset="0.3235" stop-color="#f0c9bd"/><stop offset="0.3529" stop-color="#d1a770"/><stop offset="0.3554" stop-color="#c69d6f"/><stop offset="0.375" stop-color="#4c4776"/><stop offset="0.3848" stop-color="#031778"/><stop offset="0.3873" stop-color="#001279"/><stop offset="0.4167" stop-color="#002b7a"/><stop offset="0.451" stop-color="#000778"/><stop offset="0.4853" stop-color="#001979"/><stop offset="0.5123" stop-color="#001179"/><stop offset="0.5784" stop-color="#001a79"/><stop offset="0.6103" stop-color="#001a79"/><stop offset="0.6422" stop-color="#001379"/><stop offset="0.6446" stop-color="#021b7b"/><stop offset="0.6544" stop-color="#56538d"/><stop offset="0.6667" stop-color="#aa90a2"/><stop offset="0.674" stop-color="#e2b8b0"/><stop offset="0.6765" stop-color="#edc1b2"/><stop offset="0.7059" stop-color="#dbad84"/><stop offset="0.7083" stop-color="#d5a981"/><stop offset="0.7304" stop-color="#484b7c"/><stop offset="0.7377" stop-color="#0a277a"/><stop offset="0.7402" stop-color="#001c79"/><stop offset="0.7745" stop-color="#00227a"/><stop offset="0.8064" stop-color="#001b7a"/><stop offset="0.8382" stop-color="#00247a"/><stop offset="0.8676" stop-color="#00387b"/><stop offset="0.9338" stop-color="#00407c"/><stop offset="0.9902" stop-color="#00367b"/><stop offset="0.9926" stop-color="#00397d"/><stop offset="0.9951" stop-color="#002470"/><stop offset="0.9975" stop-color="#849cbf"/><stop offset="1" stop-color="#ffffff"/></linearGradient>
<linearGradient id="r43" gradientUnits="userSpaceOnUse" x1="49.5" x2="457.5" y1="0" y2="0"><stop offset="0" stop-color="#caca84"/><stop offset="0.0025" stop-color="#b3b44d"/><stop offset="0.0049" stop-color="#b8b959"/><stop offset="0.2868" stop-color="#b7b857"/><stop offset="0.2892" stop-color="#b7b858"/><stop offset="0.2917" stop-color="#bbb95f"/><stop offset="0.3088" stop-color="#dbc49c"/><stop offset="0.3186" stop-color="#edcaba"/><stop offset="0.3211" stop-color="#f1cbc0"/><stop offset="0.3235" stop-color="#f0c9bd"/><stop offset="0.3529" stop-color="#d1a770"/><stop offset="0.3652" stop-color="#8d7674"/><stop offset="0.375" stop-color="#464476"/><stop offset="0.3848" stop-color="#021878"/><stop offset="0.3873" stop-color="#001379"/><stop offset="0.4167" stop-color="#002b7a"/><stop offset="0.451" stop-color="#000678"/><stop offset="0.4804" stop-color="#001779"/><stop offset="0.5343" stop-color="#000e79"/><stop offset="0.5809" stop-color="#001679"/><stop offset="0.6422" stop-color="#001179"/><stop offset="0.6446" stop-color="#031a7b"/><stop offset="0.6495" stop-color="#2d3583"/><stop offset="0.6569" stop-color="#625b90"/><stop offset="0.6667" stop-color="#b295a4"/><stop offset="0.674" stop-color="#e2b8b0"/><stop offset="0.6765" stop-color="#edc1b2"/><stop offset="0.7059" stop-color="#dcad85"/><stop offset="0.7083" stop-color="#d6a982"/><stop offset="0.7181" stop-color="#9c8380"/><stop offset="0.7304" stop-color="#41477d"/><stop offset="0.7377" stop-color="#0a297a"/><stop offset="0.7402" stop-color="#001e7a"/><stop offset="0.777" stop-color="#00217a"/><stop offset="0.8088" stop-color="#001b7a"/><stop offset="0.8358" stop-color="#00217a"/><stop offset="0.8701" stop-color="#00377b"/><stop offset="0.9044" stop-color="#00377c"/><stop offset="0.9265" stop-color="#003d7c"/><stop offset="0.973" stop-color="#00397b"/><stop offset="0.9902" stop-color="#00347b"/><stop offset="0.9926" stop-color="#00387d"/><stop offset="0.9951" stop-color="#002370"/><stop offset="0.9975" stop-color="#849cbf"/><stop offset="1" stop-color="#ffffff"/></linearGradient>
<linearGradient id="r44" gradientUnits="userSpaceOnUse" x1="49.5" x2="457.5" y1="0" y2="0"><stop offset="0" stop-color="#caca84"/><stop offset="0.0025" stop-color="#b3b44d"/><stop offset="0.0049" stop-color="#b8b959"/><stop offset="0.2868" stop-color="#b7b857"/><stop offset="0.2892" stop-color="#b7b858"/><stop offset="0.2917" stop-color="#bbb95f"/><stop offset="0.3186" stop-color="#edcaba"/><stop offset="0.3211" stop-color="#f1cbc0"/><stop offset="0.3235" stop-color="#f0c9bd"/><stop offset="0.3529" stop-color="#d1a770"/><stop offset="0.3578" stop-color="#b89370"/><stop offset="0.3701" stop-color="#695e74"/><stop offset="0.3848" stop-color="#001a78"/><stop offset="0.3873" stop-color="#001679"/><stop offset="0.4167" stop-color="#002b7a"/><stop offset="0.424" stop-color="#00267a"/><stop offset="0.451" stop-color="#010578"/><stop offset="0.4804" stop-color="#001479"/><stop offset="0.5221" stop-color="#001079"/><stop offset="0.5392" stop-color="#000979"/><stop offset="0.576" stop-color="#001079"/><stop offset="0.6422" stop-color="#001179"/><stop offset="0.6446" stop-color="#05187b"/><stop offset="0.6569" stop-color="#685e91"/><stop offset="0.674" stop-color="#e3b8b0"/><stop offset="0.6765" stop-color="#edc1b2"/><stop offset="0.7059" stop-color="#dcae85"/><stop offset="0.7083" stop-color="#d7aa82"/><stop offset="0.7132" stop-color="#ba9681"/><stop offset="0.7279" stop-color="#56567d"/><stop offset="0.7377" stop-color="#0a297a"/><stop offset="0.7402" stop-color="#00207a"/><stop offset="0.8211" stop-color="#001c7a"/><stop offset="0.8382" stop-color="#00207a"/><stop offset="0.8701" stop-color="#00367b"/><stop offset="0.9044" stop-color="#00337b"/><stop offset="0.9289" stop-color="#003b7c"/><stop offset="0.9632" stop-color="#00397b"/><stop offset="0.9853" stop-color="#00347b"/><stop offset="0.9926" stop-color="#00377d"/><stop offset="0.9951" stop-color="#002270"/><stop offset="0.9975" stop-color="#849cbf"/><stop offset="1" stop-color="#ffffff"/></linearGradient>
<linearGradient id="r45" gradientUnits="userSpaceOnUse" x1="49.5" x2="457.5" y1="0" y2="0"><stop offset="0" stop-color="#caca84"/><stop offset="0.0025" stop-color="#b4b44d"/><stop offset="0.0049" stop-color="#b9b959"/><stop offset="0.2868" stop-color="#b8b857"/><stop offset="0.2892" stop-color="#b8b858"/><stop offset="0.2941" stop-color="#c2bb6c"/><stop offset="0.3211" stop-color="#f1cbc0"/><stop offset="0.3235" stop-color="#f0c8bc"/><stop offset="0.3431" stop-color="#ddb38c"/><stop offset="0.3529" stop-color="#d1a771"/><stop offset="0.3603" stop-color="#a28572"/><stop offset="0.3775" stop-color="#3e4276"/><stop offset="0.3824" stop-color="#192a78"/><stop offset="0.3848" stop-color="#011c78"/><stop offset="0.3873" stop-color="#001779"/><stop offset="0.4191" stop-color="#002a7a"/><stop offset="0.451" stop-color="#010478"/><stop offset="0.4828" stop-color="#001279"/><stop offset="0.5098" stop-color="#001179"/><stop offset="0.5466" stop-color="#010378"/><stop offset="0.5784" stop-color="#000a78"/><stop offset="0.6176" stop-color="#000a78"/><stop offset="0.6422" stop-color="#001078"/><stop offset="0.6446" stop-color="#05187b"/><stop offset="0.6471" stop-color="#1f2981"/><stop offset="0.652" stop-color="#48468a"/><stop offset="0.6667" stop-color="#a88ea2"/><stop offset="0.674" stop-color="#dfb6af"/><stop offset="0.6765" stop-color="#edc1b2"/><stop offset="0.7059" stop-color="#dcae87"/><stop offset="0.7083" stop-color="#d6a983"/><stop offset="0.7132" stop-color="#b29181"/><stop offset="0.7304" stop-color="#494e7d"/><stop offset="0.7353" stop-color="#26397c"/><stop offset="0.7377" stop-color="#0b2c7a"/><stop offset="0.7402" stop-color="#00207a"/><stop offset="0.7721" stop-color="#00207a"/><stop offset="0.8015" stop-color="#001a79"/><stop offset="0.8309" stop-color="#001b79"/><stop offset="0.8701" stop-color="#00347b"/><stop offset="0.902" stop-color="#002e7b"/><stop offset="0.9338" stop-color="#00397c"/><stop offset="0.9902" stop-color="#00327b"/><stop offset="0.9926" stop-color="#00357d"/><stop offset="0.9951" stop-color="#002070"/><stop offset="0.9975" stop-color="#849bbf"/><stop offset="1" stop-color="#ffffff"/></linearGradient>
<linearGradient id="r46" gradientUnits="userSpaceOnUse" x1="49.5" x2="457.5" y1="0" y2="0"><stop offset="0" stop-color="#caca84"/><stop offset="0.0025" stop-color="#b4b44d"/><stop offset="0.0049" stop-color="#b9b959"/><stop offset="0.2868" stop-color="#b8b857"/><stop offset="0.2892" stop-color="#b8b858"/><stop offset="0.2966" stop-color="#c6bd74"/><stop offset="0.3211" stop-color="#f1cbbf"/><stop offset="0.3235" stop-color="#f0c9bc"/><stop offset="0.3456" stop-color="#dab186"/><stop offset="0.3529" stop-color="#d1a770"/><stop offset="0.3627" stop-color="#937c72"/><stop offset="0.3775" stop-color="#3e4276"/><stop offset="0.3824" stop-color="#192a78"/><stop offset="0.3848" stop-color="#011c78"/><stop offset="0.3873" stop-color="#001779"/><stop offset="0.4191" stop-color="#002a7a"/><stop offset="0.451" stop-color="#010478"/><stop offset="0.4828" stop-color="#001479"/><stop offset="0.5098" stop-color="#001179"/><stop offset="0.5441" stop-color="#010378"/><stop offset="0.6127" stop-color="#000778"/><stop offset="0.6422" stop-color="#000e79"/><stop offset="0.6446" stop-color="#06177b"/><stop offset="0.6495" stop-color="#333685"/><stop offset="0.6544" stop-color="#59528e"/><stop offset="0.6765" stop-color="#edc1b2"/><stop offset="0.701" stop-color="#dfb290"/><stop offset="0.7083" stop-color="#d7a983"/><stop offset="0.7206" stop-color="#857680"/><stop offset="0.7304" stop-color="#4a507d"/><stop offset="0.7353" stop-color="#253b7c"/><stop offset="0.7377" stop-color="#0b2e7b"/><stop offset="0.7402" stop-color="#00237a"/><stop offset="0.8015" stop-color="#001b79"/><stop offset="0.8333" stop-color="#001c79"/><stop offset="0.8701" stop-color="#00347b"/><stop offset="0.902" stop-color="#002a7b"/><stop offset="0.9363" stop-color="#00367c"/><stop offset="0.9902" stop-color="#00317b"/><stop offset="0.9926" stop-color="#00347d"/><stop offset="0.9951" stop-color="#002070"/><stop offset="0.9975" stop-color="#859abf"/><stop offset="1" stop-color="#ffffff"/></linearGradient>
<linearGradient id="r47" gradientUnits="userSpaceOnUse" x1="49.5" x2="457.5" y1="0" y2="0"><stop offset="0" stop-color="#caca84"/><stop offset="0.0025" stop-color="#b5b34d"/><stop offset="0.0049" stop-color="#bab859"/><stop offset="0.2868" stop-color="#b9b757"/><stop offset="0.2892" stop-color="#b8b858"/><stop offset="0.2917" stop-color="#bcb95f"/><stop offset="0.3186" stop-color="#edcaba"/><stop offset="0.3211" stop-color="#f1cbc0"/><stop offset="0.3235" stop-color="#f0c9bd"/><stop offset="0.3529" stop-color="#d1a770"/><stop offset="0.3578" stop-color="#b89370"/><stop offset="0.3725" stop-color="#5b5376"/><stop offset="0.3848" stop-color="#011978"/><stop offset="0.3897" stop-color="#001779"/><stop offset="0.4167" stop-color="#002b7a"/><stop offset="0.451" stop-color="#000578"/><stop offset="0.4828" stop-color="#001979"/><stop offset="0.5441" stop-color="#010478"/><stop offset="0.6422" stop-color="#000d78"/><stop offset="0.6446" stop-color="#05167b"/><stop offset="0.6593" stop-color="#796996"/><stop offset="0.6691" stop-color="#c19fa8"/><stop offset="0.674" stop-color="#e3b8b0"/><stop offset="0.6765" stop-color="#edc1b2"/><stop offset="0.7059" stop-color="#dcae86"/><stop offset="0.7083" stop-color="#d7aa83"/><stop offset="0.7157" stop-color="#ab8d82"/><stop offset="0.7255" stop-color="#68647f"/><stop offset="0.7353" stop-color="#1e397c"/><stop offset="0.7377" stop-color="#052e7a"/><stop offset="0.7402" stop-color="#00277a"/><stop offset="0.777" stop-color="#00237a"/><stop offset="0.8015" stop-color="#001c79"/><stop offset="0.8358" stop-color="#00217a"/><stop offset="0.8676" stop-color="#00357b"/><stop offset="0.8995" stop-color="#00297b"/><stop offset="0.9338" stop-color="#00337b"/><stop offset="0.9902" stop-color="#00317b"/><stop offset="0.9926" stop-color="#00347d"/><stop offset="0.9951" stop-color="#002070"/><stop offset="0.9975" stop-color="#849bbf"/><stop offset="1" stop-color="#ffffff"/></linearGradient>
<linearGradient id="r48" gradientUnits="userSpaceOnUse" x1="49.5" x2="457.5" y1="0" y2="0"><stop offset="0" stop-color="#caca84"/><stop offset="0.0025" stop-color="#b5b34d"/><stop offset="0.0049" stop-color="#bab859"/><stop offset="0.2868" stop-color="#b9b757"/><stop offset="0.2892" stop-color="#b9b758"/><stop offset="0.2917" stop-color="#bdb85f"/><stop offset="0.3186" stop-color="#edcaba"/><stop offset="0.3211" stop-color="#f1cbc0"/><stop offset="0.3235" stop-color="#f0c9bd"/><stop offset="0.3529" stop-color="#d1a770"/><stop offset="0.3652" stop-color="#8c7674"/><stop offset="0.3775" stop-color="#353876"/><stop offset="0.3848" stop-color="#021878"/><stop offset="0.3873" stop-color="#001379"/><stop offset="0.4167" stop-color="#002b7a"/><stop offset="0.451" stop-color="#010678"/><stop offset="0.4828" stop-color="#001c79"/><stop offset="0.5147" stop-color="#000d78"/><stop offset="0.5441" stop-color="#010678"/><stop offset="0.6152" stop-color="#000978"/><stop offset="0.6422" stop-color="#000d78"/><stop offset="0.6446" stop-color="#05167a"/><stop offset="0.6667" stop-color="#b294a4"/><stop offset="0.674" stop-color="#e2b8b0"/><stop offset="0.6765" stop-color="#edc1b2"/><stop offset="0.7059" stop-color="#dcae86"/><stop offset="0.7083" stop-color="#d7aa83"/><stop offset="0.723" stop-color="#7b7080"/><stop offset="0.7353" stop-color="#1d3d7c"/><stop offset="0.7377" stop-color="#03327b"/><stop offset="0.7402" stop-color="#00297a"/><stop offset="0.8113" stop-color="#001f7a"/><stop offset="0.8358" stop-color="#00247a"/><stop offset="0.8676" stop-color="#00357b"/><stop offset="0.8995" stop-color="#00277a"/><stop offset="0.9338" stop-color="#00317b"/><stop offset="0.9902" stop-color="#00317b"/><stop offset="0.9926" stop-color="#00347d"/><stop offset="0.9951" stop-color="#002070"/><stop offset="0.9975" stop-color="#849bbf"/><stop offset="1" stop-color="#ffffff"/></linearGradient>
<linearGradient id="r49" gradientUnits="userSpaceOnUse" x1="49.5" x2="457.5" y1="0" y2="0"><stop offset="0" stop-color="#caca84"/><stop offset="0.0025" stop-color="#b5b34d"/><stop offset="0.0049" stop-color="#bab859"/><stop offset="0.2868" stop-color="#b9b757"/><stop offset="0.2892" stop-color="#b9b758"/><stop offset="0.2917" stop-color="#bdb85f"/><stop offset="0.3015" stop-color="#d0bf83"/><stop offset="0.3186" stop-color="#edcaba"/><stop offset="0.3211" stop-color="#f1cbc0"/><stop offset="0.3235" stop-color="#f0c9bd"/><stop offset="0.3529" stop-color="#d1a770"/><stop offset="0.3725" stop-color="#5b5275"/><stop offset="0.3775" stop-color="#3a3c76"/><stop offset="0.3848" stop-color="#011778"/><stop offset="0.3873" stop-color="#001279"/><stop offset="0.4167" stop-color="#002b7b"/><stop offset="0.451" stop-color="#000678"/><stop offset="0.4828" stop-color="#002279"/><stop offset="0.5147" stop-color="#000c78"/><stop offset="0.5441" stop-color="#000778"/><stop offset="0.5784" stop-color="#000678"/><stop offset="0.6422" stop-color="#000c78"/><stop offset="0.6446" stop-color="#06147a"/><stop offset="0.6544" stop-color="#58518d"/><stop offset="0.6667" stop-color="#ab8fa2"/><stop offset="0.674" stop-color="#e2b8b0"/><stop offset="0.6765" stop-color="#edc1b2"/><stop offset="0.7059" stop-color="#dcae86"/><stop offset="0.7083" stop-color="#d7aa83"/><stop offset="0.7304" stop-color="#48557d"/><stop offset="0.7353" stop-color="#1f407c"/><stop offset="0.7377" stop-color="#01357b"/><stop offset="0.7402" stop-color="#002c7b"/><stop offset="0.7451" stop-color="#002a7b"/><stop offset="0.7696" stop-color="#002a7b"/><stop offset="0.8015" stop-color="#00207a"/><stop offset="0.8358" stop-color="#00287a"/><stop offset="0.8676" stop-color="#00367c"/><stop offset="0.8995" stop-color="#00247a"/><stop offset="0.9338" stop-color="#002d7a"/><stop offset="0.9657" stop-color="#00327b"/><stop offset="0.9902" stop-color="#00317b"/><stop offset="0.9926" stop-color="#00347d"/><stop offset="0.9951" stop-color="#002070"/><stop offset="0.9975" stop-color="#849bbf"/><stop offset="1" stop-color="#ffffff"/></linearGradient>
<linearGradient id="r50" gradientUnits="userSpaceOnUse" x1="49.5" x2="457.5" y1="0" y2="0"><stop offset="0" stop-color="#caca84"/><stop offset="0.0025" stop-color="#b5b34d"/><stop offset="0.0049" stop-color="#bab859"/><stop offset="0.2868" stop-color="#b9b757"/><stop offset="0.2892" stop-color="#b9b758"/><stop offset="0.2941" stop-color="#c3ba6c"/><stop offset="0.3211" stop-color="#f1cac0"/><stop offset="0.3456" stop-color="#dab186"/><stop offset="0.3529" stop-color="#d1a770"/><stop offset="0.3603" stop-color="#a08371"/><stop offset="0.3799" stop-color="#2f3277"/><stop offset="0.3824" stop-color="#1d2677"/><stop offset="0.3848" stop-color="#031677"/><stop offset="0.3873" stop-color="#000e78"/><stop offset="0.3946" stop-color="#001878"/><stop offset="0.4191" stop-color="#002a7b"/><stop offset="0.451" stop-color="#000978"/><stop offset="0.4828" stop-color="#00267a"/><stop offset="0.5196" stop-color="#000c78"/><stop offset="0.5931" stop-color="#000978"/><stop offset="0.6422" stop-color="#000d78"/><stop offset="0.6446" stop-color="#06177a"/><stop offset="0.6471" stop-color="#212880"/><stop offset="0.6495" stop-color="#373885"/><stop offset="0.6642" stop-color="#9a819f"/><stop offset="0.6691" stop-color="#b799a5"/><stop offset="0.674" stop-color="#deb5b0"/><stop offset="0.6765" stop-color="#ecc0b2"/><stop offset="0.701" stop-color="#e0b290"/><stop offset="0.7059" stop-color="#dcae87"/><stop offset="0.7083" stop-color="#d6a983"/><stop offset="0.7132" stop-color="#b19382"/><stop offset="0.7328" stop-color="#3a507d"/><stop offset="0.7353" stop-color="#26467d"/><stop offset="0.7377" stop-color="#0a3b7c"/><stop offset="0.7402" stop-color="#00307b"/><stop offset="0.8088" stop-color="#00237a"/><stop offset="0.8701" stop-color="#00377c"/><stop offset="0.8995" stop-color="#00237a"/><stop offset="0.9069" stop-color="#00237a"/><stop offset="0.9608" stop-color="#00307a"/><stop offset="0.9853" stop-color="#00307b"/><stop offset="0.9926" stop-color="#00347d"/><stop offset="0.9951" stop-color="#001f70"/><stop offset="0.9975" stop-color="#859abf"/><stop offset="1" stop-color="#ffffff"/></linearGradient>
<linearGradient id="r51" gradientUnits="userSpaceOnUse" x1="49.5" x2="457.5" y1="0" y2="0"><stop offset="0" stop-color="#caca84"/><stop offset="0.0025" stop-color="#b5b34d"/><stop offset="0.0049" stop-color="#bab859"/><stop offset="0.2868" stop-color="#b9b757"/><stop offset="0.2892" stop-color="#b9b758"/><stop offset="0.3211" stop-color="#f1cbc1"/><stop offset="0.3235" stop-color="#f0cabe"/><stop offset="0.3431" stop-color="#ddb38c"/><stop offset="0.3529" stop-color="#d1a770"/><stop offset="0.375" stop-color="#4c4372"/><stop offset="0.3848" stop-color="#030e72"/><stop offset="0.3873" stop-color="#000a71"/><stop offset="0.4191" stop-color="#002a7b"/><stop offset="0.4485" stop-color="#001079"/><stop offset="0.4583" stop-color="#001379"/><stop offset="0.4804" stop-color="#00267a"/><stop offset="0.4902" stop-color="#00237a"/><stop offset="0.5098" stop-color="#001679"/><stop offset="0.527" stop-color="#001279"/><stop offset="0.5931" stop-color="#000e79"/><stop offset="0.6422" stop-color="#001379"/><stop offset="0.6446" stop-color="#041b7b"/><stop offset="0.6569" stop-color="#6a6092"/><stop offset="0.6642" stop-color="#9a859d"/><stop offset="0.674" stop-color="#e1b9b1"/><stop offset="0.6765" stop-color="#edc1b3"/><stop offset="0.6961" stop-color="#e3b496"/><stop offset="0.7059" stop-color="#dcae87"/><stop offset="0.7083" stop-color="#d7aa84"/><stop offset="0.7304" stop-color="#495a7e"/><stop offset="0.7353" stop-color="#1f447d"/><stop offset="0.7377" stop-color="#003c7b"/><stop offset="0.7402" stop-color="#00327b"/><stop offset="0.7426" stop-color="#00317b"/><stop offset="0.777" stop-color="#002e7b"/><stop offset="0.799" stop-color="#00287b"/><stop offset="0.8162" stop-color="#00297b"/><stop offset="0.8652" stop-color="#00387b"/><stop offset="0.8725" stop-color="#00377b"/><stop offset="0.8995" stop-color="#00267a"/><stop offset="0.9608" stop-color="#00317b"/><stop offset="0.9902" stop-color="#002d7b"/><stop offset="0.9926" stop-color="#00317d"/><stop offset="0.9951" stop-color="#001a71"/><stop offset="0.9975" stop-color="#8498bf"/><stop offset="1" stop-color="#ffffff"/></linearGradient>
<linearGradient id="r52" gradientUnits="userSpaceOnUse" x1="49.5" x2="457.5" y1="0" y2="0"><stop offset="0" stop-color="#caca84"/><stop offset="0.0025" stop-color="#b5b34d"/><stop offset="0.0049" stop-color="#bab859"/><stop offset="0.2868" stop-color="#b9b757"/><stop offset="0.2892" stop-color="#b9b758"/><stop offset="0.3015" stop-color="#cebf80"/><stop offset="0.3113" stop-color="#e1c6a5"/><stop offset="0.3186" stop-color="#edcbbb"/><stop offset="0.3211" stop-color="#f0ccc1"/><stop offset="0.3235" stop-color="#f0cabe"/><stop offset="0.3333" stop-color="#e8bea6"/><stop offset="0.3529" stop-color="#d1a770"/><stop offset="0.3627" stop-color="#9b7c6e"/><stop offset="0.3848" stop-color="#03096a"/><stop offset="0.3873" stop-color="#00056a"/><stop offset="0.4191" stop-color="#00297a"/><stop offset="0.4485" stop-color="#001779"/><stop offset="0.4804" stop-color="#00267a"/><stop offset="0.5147" stop-color="#001979"/><stop offset="0.576" stop-color="#001479"/><stop offset="0.6422" stop-color="#001979"/><stop offset="0.6446" stop-color="#00227b"/><stop offset="0.6495" stop-color="#2e3b84"/><stop offset="0.6544" stop-color="#50538c"/><stop offset="0.6642" stop-color="#a08ba0"/><stop offset="0.674" stop-color="#e1bab1"/><stop offset="0.6765" stop-color="#edc2b3"/><stop offset="0.7059" stop-color="#dcae87"/><stop offset="0.7083" stop-color="#d7aa84"/><stop offset="0.7206" stop-color="#8c8181"/><stop offset="0.7255" stop-color="#676a80"/><stop offset="0.7353" stop-color="#1b467d"/><stop offset="0.7377" stop-color="#003e7b"/><stop offset="0.7402" stop-color="#00347b"/><stop offset="0.7426" stop-color="#00337b"/><stop offset="0.799" stop-color="#002c7b"/><stop offset="0.8358" stop-color="#00307b"/><stop offset="0.8676" stop-color="#00397b"/><stop offset="0.8995" stop-color="#00297a"/><stop offset="0.9387" stop-color="#00317b"/><stop offset="0.9632" stop-color="#00317b"/><stop offset="0.9902" stop-color="#00297b"/><stop offset="0.9926" stop-color="#002c7d"/><stop offset="0.9951" stop-color="#001471"/><stop offset="0.9975" stop-color="#8596bf"/><stop offset="1" stop-color="#ffffff"/></linearGradient>
<linearGradient id="r53" gradientUnits="userSpaceOnUse" x1="49.5" x2="457.5" y1="0" y2="0"><stop offset="0" stop-color="#ccc986"/><stop offset="0.0025" stop-color="#b7b34e"/><stop offset="0.0049" stop-color="#bcb75b"/><stop offset="0.2868" stop-color="#bbb658"/><stop offset="0.2892" stop-color="#bbb65a"/><stop offset="0.2917" stop-color="#beb761"/><stop offset="0.3186" stop-color="#eecbbc"/><stop offset="0.3211" stop-color="#f2ccc2"/><stop offset="0.3235" stop-color="#f1cabf"/><stop offset="0.3529" stop-color="#d1a770"/><stop offset="0.3603" stop-color="#a8866d"/><stop offset="0.3848" stop-color="#030564"/><stop offset="0.3873" stop-color="#000264"/><stop offset="0.3922" stop-color="#000567"/><stop offset="0.4118" stop-color="#002277"/><stop offset="0.4191" stop-color="#00287a"/><stop offset="0.4485" stop-color="#001e79"/><stop offset="0.4853" stop-color="#00247a"/><stop offset="0.5907" stop-color="#001b79"/><stop offset="0.6422" stop-color="#002079"/><stop offset="0.6446" stop-color="#00287b"/><stop offset="0.6544" stop-color="#555b8e"/><stop offset="0.6642" stop-color="#9f8aa0"/><stop offset="0.674" stop-color="#e2bab2"/><stop offset="0.6765" stop-color="#eec2b4"/><stop offset="0.7059" stop-color="#ddaf87"/><stop offset="0.7083" stop-color="#d8ab84"/><stop offset="0.7181" stop-color="#9a8882"/><stop offset="0.7279" stop-color="#57647f"/><stop offset="0.7328" stop-color="#30517d"/><stop offset="0.7377" stop-color="#00407c"/><stop offset="0.7402" stop-color="#00367b"/><stop offset="0.7426" stop-color="#00357b"/><stop offset="0.7745" stop-color="#00327b"/><stop offset="0.8358" stop-color="#00327b"/><stop offset="0.8701" stop-color="#003b7b"/><stop offset="0.8995" stop-color="#002c7b"/><stop offset="0.9289" stop-color="#00337b"/><stop offset="0.9632" stop-color="#00317b"/><stop offset="0.9902" stop-color="#00267a"/><stop offset="0.9926" stop-color="#00297c"/><stop offset="0.9951" stop-color="#001170"/><stop offset="0.9975" stop-color="#8494be"/><stop offset="1" stop-color="#ffffff"/></linearGradient>
<linearGradient id="r54" gradientUnits="userSpaceOnUse" x1="49.5" x2="457.5" y1="0" y2="0"><stop offset="0" stop-color="#ccc986"/><stop offset="0.0025" stop-color="#b7b34e"/><stop offset="0.0049" stop-color="#bcb75b"/><stop offset="0.2868" stop-color="#bbb658"/><stop offset="0.2892" stop-color="#bbb65a"/><stop offset="0.299" stop-color="#ccbd7e"/><stop offset="0.3137" stop-color="#e4c7a9"/><stop offset="0.3211" stop-color="#f2ccc3"/><stop offset="0.3235" stop-color="#f1cabf"/><stop offset="0.3284" stop-color="#ebc3b0"/><stop offset="0.348" stop-color="#d7ae80"/><stop offset="0.3529" stop-color="#d1a770"/><stop offset="0.3603" stop-color="#a1806d"/><stop offset="0.375" stop-color="#4b3863"/><stop offset="0.3848" stop-color="#04025f"/><stop offset="0.3873" stop-color="#00005f"/><stop offset="0.3971" stop-color="#000967"/><stop offset="0.4191" stop-color="#00287a"/><stop offset="0.451" stop-color="#00237a"/><stop offset="0.5123" stop-color="#00277a"/><stop offset="0.5858" stop-color="#00217a"/><stop offset="0.6422" stop-color="#00267a"/><stop offset="0.6446" stop-color="#002d7c"/><stop offset="0.6495" stop-color="#334a86"/><stop offset="0.6544" stop-color="#596190"/><stop offset="0.6667" stop-color="#aa95a4"/><stop offset="0.674" stop-color="#e0b9b2"/><stop offset="0.6765" stop-color="#eec2b4"/><stop offset="0.7034" stop-color="#dfb18e"/><stop offset="0.7083" stop-color="#d7ab85"/><stop offset="0.7157" stop-color="#a48e84"/><stop offset="0.7279" stop-color="#596880"/><stop offset="0.7328" stop-color="#38567e"/><stop offset="0.7353" stop-color="#224e7d"/><stop offset="0.7377" stop-color="#00437c"/><stop offset="0.7402" stop-color="#00397c"/><stop offset="0.7426" stop-color="#00387c"/><stop offset="0.7745" stop-color="#00347b"/><stop offset="0.8358" stop-color="#00347b"/><stop offset="0.8701" stop-color="#003b7c"/><stop offset="0.902" stop-color="#002e7b"/><stop offset="0.9387" stop-color="#00367b"/><stop offset="0.9632" stop-color="#00317b"/><stop offset="0.9902" stop-color="#00227a"/><stop offset="0.9926" stop-color="#00247c"/><stop offset="0.9951" stop-color="#000d70"/><stop offset="0.9975" stop-color="#8592be"/><stop offset="1" stop-color="#ffffff"/></linearGradient>
<linearGradient id="r55" gradientUnits="userSpaceOnUse" x1="49.5" x2="457.5" y1="0" y2="0"><stop offset="0" stop-color="#ccc986"/><stop offset="0.0025" stop-color="#b7b34e"/><stop offset="0.0049" stop-color="#bcb75b"/><stop offset="0.2868" stop-color="#bbb658"/><stop offset="0.2892" stop-color="#bbb65a"/><stop offset="0.299" stop-color="#ccbd7e"/><stop offset="0.3211" stop-color="#f2ccc3"/><stop offset="0.3235" stop-color="#f1cabf"/><stop offset="0.348" stop-color="#d8ae80"/><stop offset="0.3529" stop-color="#d1a770"/><stop offset="0.3603" stop-color="#a17f64"/><stop offset="0.375" stop-color="#4a375d"/><stop offset="0.3799" stop-color="#2a1c59"/><stop offset="0.3848" stop-color="#030150"/><stop offset="0.3873" stop-color="#000050"/><stop offset="0.3922" stop-color="#00025a"/><stop offset="0.3971" stop-color="#000660"/><stop offset="0.4118" stop-color="#001b6c"/><stop offset="0.4191" stop-color="#00267a"/><stop offset="0.451" stop-color="#00287a"/><stop offset="0.4853" stop-color="#00237a"/><stop offset="0.5147" stop-color="#002a7a"/><stop offset="0.5931" stop-color="#00267a"/><stop offset="0.6397" stop-color="#00297a"/><stop offset="0.6422" stop-color="#002a7a"/><stop offset="0.6446" stop-color="#00317c"/><stop offset="0.6495" stop-color="#324c87"/><stop offset="0.652" stop-color="#46578c"/><stop offset="0.6569" stop-color="#6b6d95"/><stop offset="0.6691" stop-color="#baa1a9"/><stop offset="0.6765" stop-color="#eec3b5"/><stop offset="0.7034" stop-color="#dfb18f"/><stop offset="0.7083" stop-color="#d7ab85"/><stop offset="0.7328" stop-color="#39577e"/><stop offset="0.7353" stop-color="#234f7d"/><stop offset="0.7377" stop-color="#00457d"/><stop offset="0.7402" stop-color="#003b7c"/><stop offset="0.7696" stop-color="#00357b"/><stop offset="0.8407" stop-color="#00357b"/><stop offset="0.8627" stop-color="#003b7b"/><stop offset="0.8725" stop-color="#003b7b"/><stop offset="0.8971" stop-color="#00327b"/><stop offset="0.9412" stop-color="#00367b"/><stop offset="0.9632" stop-color="#00317b"/><stop offset="0.9902" stop-color="#00227a"/><stop offset="0.9926" stop-color="#00267c"/><stop offset="0.9951" stop-color="#000c70"/><stop offset="0.9975" stop-color="#8492be"/><stop offset="1" stop-color="#ffffff"/></linearGradient>
<linearGradient id="r56" gradientUnits="userSpaceOnUse" x1="49.5" x2="457.5" y1="0" y2="0"><stop offset="0" stop-color="#ccc886"/><stop offset="0.0025" stop-color="#b7b24e"/><stop offset="0.0049" stop-color="#bcb65b"/><stop offset="0.2868" stop-color="#bbb559"/><stop offset="0.2892" stop-color="#bbb55a"/><stop offset="0.3186" stop-color="#eecbbd"/><stop offset="0.3211" stop-color="#f1cdc3"/><stop offset="0.3235" stop-color="#f1cbc0"/><stop offset="0.3529" stop-color="#d1a770"/><stop offset="0.3578" stop-color="#b89065"/><stop offset="0.3652" stop-color="#886959"/><stop offset="0.375" stop-color="#453450"/><stop offset="0.3824" stop-color="#10093f"/><stop offset="0.3848" stop-color="#02013a"/><stop offset="0.3873" stop-color="#00003b"/><stop offset="0.3971" stop-color="#000553"/><stop offset="0.4093" stop-color="#001764"/><stop offset="0.4191" stop-color="#00237a"/><stop offset="0.451" stop-color="#00297a"/><stop offset="0.4828" stop-color="#00207a"/><stop offset="0.5123" stop-color="#002b7a"/><stop offset="0.5931" stop-color="#00277a"/><stop offset="0.6422" stop-color="#002b7a"/><stop offset="0.6446" stop-color="#00317c"/><stop offset="0.6471" stop-color="#103d81"/><stop offset="0.652" stop-color="#40548a"/><stop offset="0.6593" stop-color="#797898"/><stop offset="0.6691" stop-color="#c2a7ab"/><stop offset="0.674" stop-color="#e2bcb4"/><stop offset="0.6765" stop-color="#eec4b6"/><stop offset="0.7059" stop-color="#ddaf88"/><stop offset="0.7083" stop-color="#d8ab85"/><stop offset="0.7181" stop-color="#9b8983"/><stop offset="0.7279" stop-color="#586780"/><stop offset="0.7328" stop-color="#32547e"/><stop offset="0.7377" stop-color="#00427c"/><stop offset="0.7402" stop-color="#00397b"/><stop offset="0.7672" stop-color="#00347b"/><stop offset="0.799" stop-color="#00377b"/><stop offset="0.8407" stop-color="#00347b"/><stop offset="0.8652" stop-color="#00397b"/><stop offset="0.8971" stop-color="#00337b"/><stop offset="0.9289" stop-color="#00377b"/><stop offset="0.9461" stop-color="#00357b"/><stop offset="0.9902" stop-color="#00247a"/><stop offset="0.9926" stop-color="#00297c"/><stop offset="0.9951" stop-color="#001270"/><stop offset="0.9975" stop-color="#8495be"/><stop offset="1" stop-color="#ffffff"/></linearGradient>
<linearGradient id="r57" gradientUnits="userSpaceOnUse" x1="49.5" x2="457.5" y1="0" y2="0"><stop offset="0" stop-color="#ccc886"/><stop offset="0.0025" stop-color="#b7b24e"/><stop offset="0.0049" stop-color="#bcb65b"/><stop offset="0.2868" stop-color="#bbb559"/><stop offset="0.2892" stop-color="#bcb55a"/><stop offset="0.3186" stop-color="#eecbbd"/><stop offset="0.3211" stop-color="#f1cdc3"/><stop offset="0.3235" stop-color="#f1cbc0"/><stop offset="0.3529" stop-color="#d1a770"/><stop offset="0.3627" stop-color="#9a795e"/><stop offset="0.3725" stop-color="#533f41"/><stop offset="0.3799" stop-color="#201630"/><stop offset="0.3848" stop-color="#010126"/><stop offset="0.3873" stop-color="#000028"/><stop offset="0.3971" stop-color="#00043f"/><stop offset="0.4069" stop-color="#001160"/><stop offset="0.4191" stop-color="#002079"/><stop offset="0.4485" stop-color="#002a7a"/><stop offset="0.4828" stop-color="#001e79"/><stop offset="0.5123" stop-color="#002b7a"/><stop offset="0.5931" stop-color="#00287a"/><stop offset="0.6422" stop-color="#002b7b"/><stop offset="0.6446" stop-color="#00327d"/><stop offset="0.6544" stop-color="#515f8e"/><stop offset="0.6642" stop-color="#a292a3"/><stop offset="0.674" stop-color="#e3bcb5"/><stop offset="0.6765" stop-color="#efc4b7"/><stop offset="0.7059" stop-color="#ddaf88"/><stop offset="0.7083" stop-color="#d8ab85"/><stop offset="0.7206" stop-color="#8d8282"/><stop offset="0.7304" stop-color="#415b7f"/><stop offset="0.7353" stop-color="#184b7d"/><stop offset="0.7377" stop-color="#00427d"/><stop offset="0.7402" stop-color="#00397b"/><stop offset="0.7672" stop-color="#00337b"/><stop offset="0.7966" stop-color="#00377b"/><stop offset="0.8407" stop-color="#00337b"/><stop offset="0.875" stop-color="#00387b"/><stop offset="0.8946" stop-color="#00357b"/><stop offset="0.9363" stop-color="#00367b"/><stop offset="0.9902" stop-color="#00297b"/><stop offset="0.9926" stop-color="#002d7d"/><stop offset="0.9951" stop-color="#001671"/><stop offset="0.9975" stop-color="#8497bf"/><stop offset="1" stop-color="#ffffff"/></linearGradient>
<linearGradient id="r58" gradientUnits="userSpaceOnUse" x1="49.5" x2="457.5" y1="0" y2="0"><stop offset="0" stop-color="#cec886"/><stop offset="0.0025" stop-color="#b8b24e"/><stop offset="0.0049" stop-color="#bdb65b"/><stop offset="0.2868" stop-color="#bcb559"/><stop offset="0.2892" stop-color="#bcb55a"/><stop offset="0.3186" stop-color="#eecbbd"/><stop offset="0.3211" stop-color="#f1cdc3"/><stop offset="0.3235" stop-color="#f1cbc0"/><stop offset="0.3529" stop-color="#d1a770"/><stop offset="0.3554" stop-color="#c59c6a"/><stop offset="0.3627" stop-color="#937557"/><stop offset="0.3725" stop-color="#574334"/><stop offset="0.3824" stop-color="#100a15"/><stop offset="0.3848" stop-color="#01010f"/><stop offset="0.3873" stop-color="#000010"/><stop offset="0.3971" stop-color="#000432"/><stop offset="0.4118" stop-color="#001468"/><stop offset="0.4191" stop-color="#001e79"/><stop offset="0.4485" stop-color="#002c7b"/><stop offset="0.4828" stop-color="#001a79"/><stop offset="0.5123" stop-color="#002c7b"/><stop offset="0.5882" stop-color="#00297a"/><stop offset="0.6373" stop-color="#002c7b"/><stop offset="0.6422" stop-color="#002d7b"/><stop offset="0.6446" stop-color="#00337d"/><stop offset="0.6544" stop-color="#586490"/><stop offset="0.6642" stop-color="#9b8ea2"/><stop offset="0.674" stop-color="#e3bdb5"/><stop offset="0.6765" stop-color="#efc4b7"/><stop offset="0.7059" stop-color="#ddaf88"/><stop offset="0.7083" stop-color="#d8ab85"/><stop offset="0.7304" stop-color="#485e7f"/><stop offset="0.7377" stop-color="#00417c"/><stop offset="0.7402" stop-color="#00397c"/><stop offset="0.7696" stop-color="#00327b"/><stop offset="0.799" stop-color="#00377b"/><stop offset="0.8358" stop-color="#00327b"/><stop offset="0.8946" stop-color="#00377b"/><stop offset="0.9363" stop-color="#00367b"/><stop offset="0.973" stop-color="#002c7b"/><stop offset="0.9902" stop-color="#002d7b"/><stop offset="0.9926" stop-color="#00317d"/><stop offset="0.9951" stop-color="#001a71"/><stop offset="0.9975" stop-color="#8498bf"/><stop offset="1" stop-color="#ffffff"/></linearGradient>
<linearGradient id="r59" gradientUnits="userSpaceOnUse" x1="49.5" x2="457.5" y1="0" y2="0"><stop offset="0" stop-color="#cec786"/><stop offset="0.0025" stop-color="#b9b14e"/><stop offset="0.0049" stop-color="#beb55b"/><stop offset="0.2868" stop-color="#bdb459"/><stop offset="0.2892" stop-color="#bdb45a"/><stop offset="0.2966" stop-color="#cabb76"/><stop offset="0.3211" stop-color="#f2ccc2"/><stop offset="0.3235" stop-color="#f1cabf"/><stop offset="0.348" stop-color="#d8af81"/><stop offset="0.3529" stop-color="#d1a770"/><stop offset="0.3603" stop-color="#9f7e55"/><stop offset="0.3799" stop-color="#2a1e13"/><stop offset="0.3848" stop-color="#020103"/><stop offset="0.3873" stop-color="#000003"/><stop offset="0.402" stop-color="#00073d"/><stop offset="0.4167" stop-color="#001874"/><stop offset="0.4191" stop-color="#001a79"/><stop offset="0.4485" stop-color="#002c7a"/><stop offset="0.4828" stop-color="#001979"/><stop offset="0.5147" stop-color="#002d7b"/><stop offset="0.5466" stop-color="#00297a"/><stop offset="0.5931" stop-color="#00297a"/><stop offset="0.6422" stop-color="#002c7b"/><stop offset="0.6446" stop-color="#00347d"/><stop offset="0.6495" stop-color="#345189"/><stop offset="0.652" stop-color="#485c8d"/><stop offset="0.6765" stop-color="#eec4b7"/><stop offset="0.7034" stop-color="#dfb18f"/><stop offset="0.7083" stop-color="#d7aa85"/><stop offset="0.7132" stop-color="#b29684"/><stop offset="0.7206" stop-color="#877f82"/><stop offset="0.7328" stop-color="#39567e"/><stop offset="0.7353" stop-color="#244e7d"/><stop offset="0.7377" stop-color="#04437d"/><stop offset="0.7402" stop-color="#00387c"/><stop offset="0.7672" stop-color="#00317b"/><stop offset="0.8015" stop-color="#00377b"/><stop offset="0.8358" stop-color="#00317b"/><stop offset="0.8701" stop-color="#00367b"/><stop offset="0.9167" stop-color="#00377b"/><stop offset="0.9657" stop-color="#002d7b"/><stop offset="0.9902" stop-color="#00307b"/><stop offset="0.9926" stop-color="#00337d"/><stop offset="0.9951" stop-color="#001e71"/><stop offset="0.9975" stop-color="#839abf"/><stop offset="1" stop-color="#ffffff"/></linearGradient>
<linearGradient id="r60" gradientUnits="userSpaceOnUse" x1="49.5" x2="457.5" y1="0" y2="0"><stop offset="0" stop-color="#cec786"/><stop offset="0.0025" stop-color="#b9b14e"/><stop offset="0.0049" stop-color="#beb55b"/><stop offset="0.2868" stop-color="#bdb459"/><stop offset="0.2892" stop-color="#bdb45a"/><stop offset="0.3015" stop-color="#d1be85"/><stop offset="0.3211" stop-color="#f1cdc3"/><stop offset="0.3235" stop-color="#f1cbc0"/><stop offset="0.3529" stop-color="#d1a771"/><stop offset="0.3603" stop-color="#a68562"/><stop offset="0.3676" stop-color="#745e4a"/><stop offset="0.375" stop-color="#483930"/><stop offset="0.3848" stop-color="#010417"/><stop offset="0.3873" stop-color="#000118"/><stop offset="0.3946" stop-color="#00042c"/><stop offset="0.4093" stop-color="#001363"/><stop offset="0.4191" stop-color="#001a79"/><stop offset="0.4485" stop-color="#002c7a"/><stop offset="0.4755" stop-color="#001c79"/><stop offset="0.4853" stop-color="#001a79"/><stop offset="0.5123" stop-color="#002b7a"/><stop offset="0.5441" stop-color="#00277a"/><stop offset="0.6152" stop-color="#00277a"/><stop offset="0.6422" stop-color="#002b7b"/><stop offset="0.6446" stop-color="#00337d"/><stop offset="0.6544" stop-color="#586491"/><stop offset="0.6667" stop-color="#ab99a7"/><stop offset="0.674" stop-color="#e3bdb6"/><stop offset="0.6765" stop-color="#efc5b8"/><stop offset="0.7059" stop-color="#ddaf8b"/><stop offset="0.7083" stop-color="#d8ab86"/><stop offset="0.7181" stop-color="#988483"/><stop offset="0.7279" stop-color="#5a6480"/><stop offset="0.7328" stop-color="#36517e"/><stop offset="0.7353" stop-color="#20467d"/><stop offset="0.7377" stop-color="#003c7c"/><stop offset="0.7402" stop-color="#00337b"/><stop offset="0.7647" stop-color="#002e7b"/><stop offset="0.8015" stop-color="#00357b"/><stop offset="0.8382" stop-color="#002e7b"/><stop offset="0.8676" stop-color="#00367b"/><stop offset="0.9093" stop-color="#00367b"/><stop offset="0.9314" stop-color="#00357b"/><stop offset="0.9657" stop-color="#002a7a"/><stop offset="0.9902" stop-color="#002e7b"/><stop offset="0.9926" stop-color="#00337d"/><stop offset="0.9951" stop-color="#002170"/><stop offset="0.9975" stop-color="#839bbf"/><stop offset="1" stop-color="#ffffff"/></linearGradient>
<linearGradient id="r61" gradientUnits="userSpaceOnUse" x1="49.5" x2="457.5" y1="0" y2="0"><stop offset="0" stop-color="#cec786"/><stop offset="0.0025" stop-color="#b9b14e"/><stop offset="0.0049" stop-color="#beb55b"/><stop offset="0.2868" stop-color="#bdb459"/><stop offset="0.2892" stop-color="#bdb45a"/><stop offset="0.3186" stop-color="#eecbbd"/><stop offset="0.3211" stop-color="#f1cdc3"/><stop offset="0.3235" stop-color="#f1cbc0"/><stop offset="0.3333" stop-color="#e7bfa8"/><stop offset="0.3529" stop-color="#d1a771"/><stop offset="0.3627" stop-color="#9b7d63"/><stop offset="0.3676" stop-color="#7b6358"/><stop offset="0.3725" stop-color="#55464a"/><stop offset="0.3848" stop-color="#020934"/><stop offset="0.3873" stop-color="#000535"/><stop offset="0.3995" stop-color="#000d4d"/><stop offset="0.4093" stop-color="#001669"/><stop offset="0.4191" stop-color="#001b79"/><stop offset="0.4485" stop-color="#002a7a"/><stop offset="0.4828" stop-color="#001b79"/><stop offset="0.5123" stop-color="#00297a"/><stop offset="0.549" stop-color="#00237a"/><stop offset="0.6103" stop-color="#00227a"/><stop offset="0.6422" stop-color="#00297a"/><stop offset="0.6446" stop-color="#00317d"/><stop offset="0.6495" stop-color="#2b4787"/><stop offset="0.6569" stop-color="#626b95"/><stop offset="0.6667" stop-color="#b39eaa"/><stop offset="0.674" stop-color="#e4beb7"/><stop offset="0.6765" stop-color="#f0c6b9"/><stop offset="0.7059" stop-color="#ddaf8b"/><stop offset="0.7083" stop-color="#d8ab86"/><stop offset="0.7181" stop-color="#9d8784"/><stop offset="0.723" stop-color="#7b7382"/><stop offset="0.7353" stop-color="#1e3f7d"/><stop offset="0.7377" stop-color="#01357c"/><stop offset="0.7402" stop-color="#002c7b"/><stop offset="0.7426" stop-color="#002b7b"/><stop offset="0.7966" stop-color="#00327b"/><stop offset="0.8382" stop-color="#002d7b"/><stop offset="0.8676" stop-color="#00377b"/><stop offset="0.9314" stop-color="#00347b"/><stop offset="0.9657" stop-color="#00247a"/><stop offset="0.9877" stop-color="#00307b"/><stop offset="0.9926" stop-color="#00377d"/><stop offset="0.9951" stop-color="#002470"/><stop offset="0.9975" stop-color="#839dbf"/><stop offset="1" stop-color="#ffffff"/></linearGradient>
<linearGradient id="r62" gradientUnits="userSpaceOnUse" x1="49.5" x2="457.5" y1="0" y2="0"><stop offset="0" stop-color="#cec786"/><stop offset="0.0025" stop-color="#b9b14e"/><stop offset="0.0049" stop-color="#beb55b"/><stop offset="0.2868" stop-color="#bdb459"/><stop offset="0.2892" stop-color="#bdb45a"/><stop offset="0.3186" stop-color="#eecbbd"/><stop offset="0.3211" stop-color="#f1cdc3"/><stop offset="0.3235" stop-color="#f1cbc0"/><stop offset="0.3529" stop-color="#d3a772"/><stop offset="0.3627" stop-color="#997b62"/><stop offset="0.3676" stop-color="#796461"/><stop offset="0.375" stop-color="#46415f"/><stop offset="0.3848" stop-color="#01104e"/><stop offset="0.3873" stop-color="#000a4f"/><stop offset="0.3995" stop-color="#001264"/><stop offset="0.4093" stop-color="#001668"/><stop offset="0.4191" stop-color="#001b7a"/><stop offset="0.4485" stop-color="#00297a"/><stop offset="0.4804" stop-color="#001c7a"/><stop offset="0.5123" stop-color="#00277a"/><stop offset="0.5613" stop-color="#001f7a"/><stop offset="0.6029" stop-color="#001e7a"/><stop offset="0.6422" stop-color="#00277a"/><stop offset="0.6446" stop-color="#002e7c"/><stop offset="0.6495" stop-color="#2d4586"/><stop offset="0.6667" stop-color="#b29daa"/><stop offset="0.674" stop-color="#e4beb8"/><stop offset="0.6765" stop-color="#f0c6ba"/><stop offset="0.7059" stop-color="#deb08a"/><stop offset="0.7083" stop-color="#d9ac87"/><stop offset="0.7157" stop-color="#ac9085"/><stop offset="0.7255" stop-color="#696381"/><stop offset="0.7353" stop-color="#1f387c"/><stop offset="0.7377" stop-color="#052e7b"/><stop offset="0.7402" stop-color="#00267a"/><stop offset="0.7868" stop-color="#00307b"/><stop offset="0.8382" stop-color="#002c7a"/><stop offset="0.8725" stop-color="#00387b"/><stop offset="0.8971" stop-color="#00327b"/><stop offset="0.9314" stop-color="#00337b"/><stop offset="0.9657" stop-color="#00207a"/><stop offset="0.9779" stop-color="#00287a"/><stop offset="0.9902" stop-color="#00347b"/><stop offset="0.9926" stop-color="#00397d"/><stop offset="0.9951" stop-color="#002770"/><stop offset="0.9975" stop-color="#839ebf"/><stop offset="1" stop-color="#ffffff"/></linearGradient>
<linearGradient id="r63" gradientUnits="userSpaceOnUse" x1="49.5" x2="457.5" y1="0" y2="0"><stop offset="0" stop-color="#cec787"/><stop offset="0.0025" stop-color="#b9b150"/><stop offset="0.0049" stop-color="#beb55c"/><stop offset="0.2868" stop-color="#bdb45a"/><stop offset="0.2892" stop-color="#bdb45b"/><stop offset="0.2966" stop-color="#cbba76"/><stop offset="0.3211" stop-color="#f1cdc3"/><stop offset="0.3235" stop-color="#f1cbbf"/><stop offset="0.3529" stop-color="#d3a773"/><stop offset="0.3603" stop-color="#a4846b"/><stop offset="0.3775" stop-color="#3e3e70"/><stop offset="0.3848" stop-color="#031769"/><stop offset="0.3873" stop-color="#00116a"/><stop offset="0.3946" stop-color="#001672"/><stop offset="0.4118" stop-color="#001971"/><stop offset="0.4191" stop-color="#001c7a"/><stop offset="0.4485" stop-color="#00287a"/><stop offset="0.4804" stop-color="#001f7a"/><stop offset="0.5196" stop-color="#00247a"/><stop offset="0.5735" stop-color="#001a79"/><stop offset="0.6127" stop-color="#001a79"/><stop offset="0.6422" stop-color="#00247a"/><stop offset="0.6446" stop-color="#002c7c"/><stop offset="0.6471" stop-color="#1d3b82"/><stop offset="0.652" stop-color="#48558d"/><stop offset="0.6667" stop-color="#ac98a9"/><stop offset="0.674" stop-color="#e3beb8"/><stop offset="0.6765" stop-color="#f1c6ba"/><stop offset="0.701" stop-color="#e2b395"/><stop offset="0.7059" stop-color="#deb08c"/><stop offset="0.7083" stop-color="#d8ac87"/><stop offset="0.7132" stop-color="#b59587"/><stop offset="0.7304" stop-color="#4b4d7f"/><stop offset="0.7353" stop-color="#26367c"/><stop offset="0.7377" stop-color="#0d2b7a"/><stop offset="0.7402" stop-color="#00207a"/><stop offset="0.7475" stop-color="#00207a"/><stop offset="0.777" stop-color="#002d7b"/><stop offset="0.8382" stop-color="#002b7a"/><stop offset="0.8701" stop-color="#00397c"/><stop offset="0.8995" stop-color="#00307b"/><stop offset="0.9338" stop-color="#00317b"/><stop offset="0.9657" stop-color="#001a79"/><stop offset="0.9877" stop-color="#00327b"/><stop offset="0.9926" stop-color="#003b7d"/><stop offset="0.9951" stop-color="#002a70"/><stop offset="0.9975" stop-color="#82a0bf"/><stop offset="1" stop-color="#ffffff"/></linearGradient>
<linearGradient id="r64" gradientUnits="userSpaceOnUse" x1="49.5" x2="457.5" y1="0" y2="0"><stop offset="0" stop-color="#cec787"/><stop offset="0.0025" stop-color="#b9b150"/><stop offset="0.0049" stop-color="#beb55c"/><stop offset="0.2868" stop-color="#bdb45a"/><stop offset="0.2892" stop-color="#bdb45b"/><stop offset="0.3015" stop-color="#d1be86"/><stop offset="0.3211" stop-color="#f1cdc3"/><stop offset="0.3235" stop-color="#f1cbbf"/><stop offset="0.3529" stop-color="#d3a774"/><stop offset="0.3627" stop-color="#957c74"/><stop offset="0.3799" stop-color="#303678"/><stop offset="0.3824" stop-color="#1d2a79"/><stop offset="0.3848" stop-color="#021b79"/><stop offset="0.3873" stop-color="#001679"/><stop offset="0.4191" stop-color="#001a7a"/><stop offset="0.4485" stop-color="#00247a"/><stop offset="0.4755" stop-color="#00207a"/><stop offset="0.5147" stop-color="#00227a"/><stop offset="0.5735" stop-color="#001779"/><stop offset="0.6127" stop-color="#001779"/><stop offset="0.6422" stop-color="#002179"/><stop offset="0.6446" stop-color="#002b7c"/><stop offset="0.6471" stop-color="#1e3982"/><stop offset="0.652" stop-color="#48558d"/><stop offset="0.6569" stop-color="#6b6b97"/><stop offset="0.6691" stop-color="#bba2ad"/><stop offset="0.674" stop-color="#e2bcb8"/><stop offset="0.6765" stop-color="#f0c7bb"/><stop offset="0.701" stop-color="#e2b496"/><stop offset="0.7059" stop-color="#deb18d"/><stop offset="0.7083" stop-color="#d8ab89"/><stop offset="0.7157" stop-color="#a58785"/><stop offset="0.7328" stop-color="#3b417e"/><stop offset="0.7402" stop-color="#001b79"/><stop offset="0.7745" stop-color="#002c7b"/><stop offset="0.8358" stop-color="#002a7a"/><stop offset="0.8676" stop-color="#00397c"/><stop offset="0.8995" stop-color="#002e7b"/><stop offset="0.9338" stop-color="#00307b"/><stop offset="0.9657" stop-color="#001a79"/><stop offset="0.9877" stop-color="#00337b"/><stop offset="0.9926" stop-color="#003c7d"/><stop offset="0.9951" stop-color="#002b70"/><stop offset="0.9975" stop-color="#83a0bf"/><stop offset="1" stop-color="#ffffff"/></linearGradient>
<linearGradient id="r65" gradientUnits="userSpaceOnUse" x1="49.5" x2="457.5" y1="0" y2="0"><stop offset="0" stop-color="#cec787"/><stop offset="0.0025" stop-color="#b9b050"/><stop offset="0.0049" stop-color="#beb45c"/><stop offset="0.2868" stop-color="#bdb35a"/><stop offset="0.2892" stop-color="#bdb35b"/><stop offset="0.3186" stop-color="#eeccbe"/><stop offset="0.3211" stop-color="#f1cec4"/><stop offset="0.3235" stop-color="#f0ccc1"/><stop offset="0.3529" stop-color="#d3a773"/><stop offset="0.3578" stop-color="#b99473"/><stop offset="0.375" stop-color="#4b4a77"/><stop offset="0.3848" stop-color="#011b78"/><stop offset="0.3873" stop-color="#001779"/><stop offset="0.402" stop-color="#001779"/><stop offset="0.424" stop-color="#001879"/><stop offset="0.451" stop-color="#00217a"/><stop offset="0.5123" stop-color="#00207a"/><stop offset="0.5441" stop-color="#001879"/><stop offset="0.6127" stop-color="#001679"/><stop offset="0.6422" stop-color="#001f79"/><stop offset="0.6446" stop-color="#00277c"/><stop offset="0.6544" stop-color="#565c91"/><stop offset="0.6593" stop-color="#7b769c"/><stop offset="0.6716" stop-color="#d4b3b5"/><stop offset="0.674" stop-color="#e4c0ba"/><stop offset="0.6765" stop-color="#f0c7bc"/><stop offset="0.7059" stop-color="#deb18e"/><stop offset="0.7083" stop-color="#d8ac8a"/><stop offset="0.7132" stop-color="#bb9688"/><stop offset="0.7279" stop-color="#595480"/><stop offset="0.7377" stop-color="#0c247a"/><stop offset="0.7402" stop-color="#001a79"/><stop offset="0.7721" stop-color="#002c7b"/><stop offset="0.8358" stop-color="#002b7a"/><stop offset="0.8676" stop-color="#00387b"/><stop offset="0.8995" stop-color="#002e7b"/><stop offset="0.9363" stop-color="#002e7a"/><stop offset="0.9632" stop-color="#00207a"/><stop offset="0.9779" stop-color="#002b7a"/><stop offset="0.9926" stop-color="#003f7d"/><stop offset="0.9951" stop-color="#002d70"/><stop offset="0.9975" stop-color="#83a1bf"/><stop offset="1" stop-color="#ffffff"/></linearGradient>
<linearGradient id="r66" gradientUnits="userSpaceOnUse" x1="49.5" x2="457.5" y1="0" y2="0"><stop offset="0" stop-color="#cec787"/><stop offset="0.0025" stop-color="#b9b050"/><stop offset="0.0049" stop-color="#beb45c"/><stop offset="0.2868" stop-color="#bdb35a"/><stop offset="0.2892" stop-color="#bfb35b"/><stop offset="0.3137" stop-color="#e7c8af"/><stop offset="0.3211" stop-color="#f2cec5"/><stop offset="0.3235" stop-color="#f2ccc2"/><stop offset="0.3529" stop-color="#d3a774"/><stop offset="0.3627" stop-color="#9d8174"/><stop offset="0.3676" stop-color="#7d6c75"/><stop offset="0.375" stop-color="#464777"/><stop offset="0.3824" stop-color="#162978"/><stop offset="0.3848" stop-color="#011c78"/><stop offset="0.3873" stop-color="#001779"/><stop offset="0.4069" stop-color="#001479"/><stop offset="0.4706" stop-color="#001f7a"/><stop offset="0.4951" stop-color="#001f7a"/><stop offset="0.5196" stop-color="#001c79"/><stop offset="0.5441" stop-color="#001479"/><stop offset="0.6127" stop-color="#001479"/><stop offset="0.6422" stop-color="#001c79"/><stop offset="0.6446" stop-color="#00247b"/><stop offset="0.6495" stop-color="#2d3f86"/><stop offset="0.6569" stop-color="#666495"/><stop offset="0.6642" stop-color="#a391a7"/><stop offset="0.674" stop-color="#e6c0bb"/><stop offset="0.6765" stop-color="#f2c7bd"/><stop offset="0.7059" stop-color="#dfb18e"/><stop offset="0.7083" stop-color="#d9ad8a"/><stop offset="0.7181" stop-color="#9f8386"/><stop offset="0.7279" stop-color="#54517f"/><stop offset="0.7353" stop-color="#20317c"/><stop offset="0.7377" stop-color="#09247a"/><stop offset="0.7402" stop-color="#001a79"/><stop offset="0.7721" stop-color="#002c7b"/><stop offset="0.8358" stop-color="#002c7b"/><stop offset="0.8676" stop-color="#00387b"/><stop offset="0.8995" stop-color="#002e7b"/><stop offset="0.9314" stop-color="#00307b"/><stop offset="0.9657" stop-color="#00267a"/><stop offset="0.9902" stop-color="#00397b"/><stop offset="0.9926" stop-color="#003f7d"/><stop offset="0.9951" stop-color="#002d70"/><stop offset="0.9975" stop-color="#84a1bf"/><stop offset="1" stop-color="#ffffff"/></linearGradient>
<linearGradient id="r67" gradientUnits="userSpaceOnUse" x1="49.5" x2="457.5" y1="0" y2="0"><stop offset="0" stop-color="#d0c687"/><stop offset="0.0025" stop-color="#bbaf50"/><stop offset="0.0049" stop-color="#c0b35c"/><stop offset="0.0147" stop-color="#bdb35a"/><stop offset="0.2868" stop-color="#bfb35a"/><stop offset="0.2892" stop-color="#bfb35b"/><stop offset="0.3186" stop-color="#efcdbf"/><stop offset="0.3211" stop-color="#f2cfc5"/><stop offset="0.3235" stop-color="#f1cdc2"/><stop offset="0.3529" stop-color="#d3a773"/><stop offset="0.3554" stop-color="#c79e72"/><stop offset="0.3652" stop-color="#877475"/><stop offset="0.3725" stop-color="#5c5677"/><stop offset="0.3848" stop-color="#001e79"/><stop offset="0.3873" stop-color="#001979"/><stop offset="0.4118" stop-color="#001179"/><stop offset="0.4534" stop-color="#001779"/><stop offset="0.4804" stop-color="#00207a"/><stop offset="0.5539" stop-color="#001179"/><stop offset="0.5711" stop-color="#001679"/><stop offset="0.6127" stop-color="#001379"/><stop offset="0.6422" stop-color="#001a79"/><stop offset="0.6446" stop-color="#00227b"/><stop offset="0.652" stop-color="#444c8c"/><stop offset="0.6569" stop-color="#6c6797"/><stop offset="0.6618" stop-color="#8b80a1"/><stop offset="0.674" stop-color="#e6c0bb"/><stop offset="0.6765" stop-color="#f1c8bd"/><stop offset="0.7059" stop-color="#dfb18e"/><stop offset="0.7083" stop-color="#daad8a"/><stop offset="0.7206" stop-color="#877484"/><stop offset="0.7279" stop-color="#5a5480"/><stop offset="0.7377" stop-color="#0b237a"/><stop offset="0.7402" stop-color="#001979"/><stop offset="0.7721" stop-color="#002c7b"/><stop offset="0.8162" stop-color="#002b7a"/><stop offset="0.8676" stop-color="#00387c"/><stop offset="0.8995" stop-color="#002e7b"/><stop offset="0.9314" stop-color="#00307b"/><stop offset="0.9657" stop-color="#002b7a"/><stop offset="0.9877" stop-color="#00387b"/><stop offset="0.9926" stop-color="#003f7d"/><stop offset="0.9951" stop-color="#002d71"/><stop offset="0.9975" stop-color="#84a1bf"/><stop offset="1" stop-color="#ffffff"/></linearGradient>
<linearGradient id="r68" gradientUnits="userSpaceOnUse" x1="49.5" x2="457.5" y1="0" y2="0"><stop offset="0" stop-color="#d0c687"/><stop offset="0.0025" stop-color="#bbaf50"/><stop offset="0.0049" stop-color="#c0b35c"/><stop offset="0.2868" stop-color="#bfb35a"/><stop offset="0.2892" stop-color="#bfb35b"/><stop offset="0.2966" stop-color="#cdb978"/><stop offset="0.3211" stop-color="#f2cfc5"/><stop offset="0.3235" stop-color="#f0ccc2"/><stop offset="0.326" stop-color="#eec8b9"/><stop offset="0.3456" stop-color="#dcb28a"/><stop offset="0.3529" stop-color="#d3a774"/><stop offset="0.3603" stop-color="#a28574"/><stop offset="0.3725" stop-color="#5c5677"/><stop offset="0.3799" stop-color="#2e3978"/><stop offset="0.3824" stop-color="#1c2e78"/><stop offset="0.3848" stop-color="#002079"/><stop offset="0.3873" stop-color="#001879"/><stop offset="0.4167" stop-color="#000d78"/><stop offset="0.4485" stop-color="#001177"/><stop offset="0.4779" stop-color="#001e77"/><stop offset="0.4828" stop-color="#00207a"/><stop offset="0.5441" stop-color="#000d77"/><stop offset="0.5784" stop-color="#001478"/><stop offset="0.6127" stop-color="#001179"/><stop offset="0.6422" stop-color="#001779"/><stop offset="0.6446" stop-color="#02207b"/><stop offset="0.6471" stop-color="#213282"/><stop offset="0.6495" stop-color="#384188"/><stop offset="0.6691" stop-color="#bba1af"/><stop offset="0.6765" stop-color="#f1c8bd"/><stop offset="0.7059" stop-color="#e0b290"/><stop offset="0.7083" stop-color="#d9ac8b"/><stop offset="0.7157" stop-color="#a48887"/><stop offset="0.7328" stop-color="#3b407e"/><stop offset="0.7402" stop-color="#001979"/><stop offset="0.7721" stop-color="#002b7b"/><stop offset="0.8088" stop-color="#002a7a"/><stop offset="0.8701" stop-color="#00377c"/><stop offset="0.8995" stop-color="#002e7b"/><stop offset="0.9632" stop-color="#002e7b"/><stop offset="0.9902" stop-color="#003c7b"/><stop offset="0.9926" stop-color="#00407d"/><stop offset="0.9951" stop-color="#002e70"/><stop offset="0.9975" stop-color="#83a1bf"/><stop offset="1" stop-color="#ffffff"/></linearGradient>
<linearGradient id="r69" gradientUnits="userSpaceOnUse" x1="49.5" x2="457.5" y1="0" y2="0"><stop offset="0" stop-color="#d0c687"/><stop offset="0.0025" stop-color="#bbaf50"/><stop offset="0.0049" stop-color="#c0b35c"/><stop offset="0.2868" stop-color="#bfb35a"/><stop offset="0.2892" stop-color="#bfb35b"/><stop offset="0.3015" stop-color="#d4bd87"/><stop offset="0.3211" stop-color="#f2cfc6"/><stop offset="0.3235" stop-color="#f1cdc3"/><stop offset="0.3529" stop-color="#d3a774"/><stop offset="0.375" stop-color="#4d4d77"/><stop offset="0.3824" stop-color="#172a78"/><stop offset="0.3848" stop-color="#001e78"/><stop offset="0.3873" stop-color="#001779"/><stop offset="0.4167" stop-color="#000a78"/><stop offset="0.424" stop-color="#000a6c"/><stop offset="0.4412" stop-color="#000b6b"/><stop offset="0.451" stop-color="#000b5d"/><stop offset="0.4534" stop-color="#000e64"/><stop offset="0.4608" stop-color="#00136c"/><stop offset="0.4755" stop-color="#001a6d"/><stop offset="0.4828" stop-color="#002079"/><stop offset="0.5123" stop-color="#001479"/><stop offset="0.5245" stop-color="#000e70"/><stop offset="0.5392" stop-color="#000b70"/><stop offset="0.5466" stop-color="#000766"/><stop offset="0.5539" stop-color="#000a6f"/><stop offset="0.5686" stop-color="#000d70"/><stop offset="0.5809" stop-color="#001179"/><stop offset="0.6152" stop-color="#000d78"/><stop offset="0.6422" stop-color="#001279"/><stop offset="0.6446" stop-color="#021b7b"/><stop offset="0.652" stop-color="#454a8c"/><stop offset="0.6569" stop-color="#6b6598"/><stop offset="0.6667" stop-color="#ad95ab"/><stop offset="0.674" stop-color="#e5bfbc"/><stop offset="0.6765" stop-color="#f1c9be"/><stop offset="0.7034" stop-color="#e1b393"/><stop offset="0.7083" stop-color="#d9ad8b"/><stop offset="0.7304" stop-color="#4a4c80"/><stop offset="0.7353" stop-color="#23347c"/><stop offset="0.7377" stop-color="#0b287a"/><stop offset="0.7402" stop-color="#001c79"/><stop offset="0.75" stop-color="#001c79"/><stop offset="0.7647" stop-color="#00267a"/><stop offset="0.8015" stop-color="#00287a"/><stop offset="0.8676" stop-color="#00367b"/><stop offset="0.902" stop-color="#002e7b"/><stop offset="0.9608" stop-color="#002e7b"/><stop offset="0.9902" stop-color="#003d7b"/><stop offset="0.9926" stop-color="#00417e"/><stop offset="0.9951" stop-color="#003071"/><stop offset="0.9975" stop-color="#82a2be"/><stop offset="1" stop-color="#ffffff"/></linearGradient>
<linearGradient id="r70" gradientUnits="userSpaceOnUse" x1="49.5" x2="457.5" y1="0" y2="0"><stop offset="0" stop-color="#d0c587"/><stop offset="0.0025" stop-color="#bbae50"/><stop offset="0.0049" stop-color="#c0b35c"/><stop offset="0.2868" stop-color="#bfb25a"/><stop offset="0.2892" stop-color="#bfb25b"/><stop offset="0.3015" stop-color="#d2bc83"/><stop offset="0.3137" stop-color="#e8c8b0"/><stop offset="0.3211" stop-color="#f2cfc6"/><stop offset="0.3235" stop-color="#f1cdc3"/><stop offset="0.3529" stop-color="#d3a774"/><stop offset="0.3652" stop-color="#8d7775"/><stop offset="0.3824" stop-color="#152778"/><stop offset="0.3848" stop-color="#011b78"/><stop offset="0.3873" stop-color="#001479"/><stop offset="0.4167" stop-color="#000978"/><stop offset="0.4289" stop-color="#000663"/><stop offset="0.4363" stop-color="#00065c"/><stop offset="0.4485" stop-color="#000645"/><stop offset="0.451" stop-color="#000643"/><stop offset="0.4828" stop-color="#002179"/><stop offset="0.5147" stop-color="#000e78"/><stop offset="0.5466" stop-color="#000456"/><stop offset="0.5809" stop-color="#000d78"/><stop offset="0.6054" stop-color="#000978"/><stop offset="0.6422" stop-color="#000e78"/><stop offset="0.6446" stop-color="#03187b"/><stop offset="0.6495" stop-color="#2e3486"/><stop offset="0.6569" stop-color="#655f96"/><stop offset="0.6642" stop-color="#a18ca9"/><stop offset="0.674" stop-color="#e5c1bd"/><stop offset="0.6765" stop-color="#f1c9bf"/><stop offset="0.7059" stop-color="#dfb28f"/><stop offset="0.7083" stop-color="#d9ad8b"/><stop offset="0.7157" stop-color="#af8f88"/><stop offset="0.7206" stop-color="#8e7b86"/><stop offset="0.7328" stop-color="#32407e"/><stop offset="0.7377" stop-color="#072b7a"/><stop offset="0.7402" stop-color="#002079"/><stop offset="0.7745" stop-color="#00207a"/><stop offset="0.8064" stop-color="#002a7a"/><stop offset="0.8358" stop-color="#002c7b"/><stop offset="0.8676" stop-color="#00357b"/><stop offset="0.9363" stop-color="#002a7b"/><stop offset="0.9657" stop-color="#00307b"/><stop offset="0.9902" stop-color="#003d7c"/><stop offset="0.9926" stop-color="#00417e"/><stop offset="0.9951" stop-color="#003071"/><stop offset="0.9975" stop-color="#82a2be"/><stop offset="1" stop-color="#ffffff"/></linearGradient>
<linearGradient id="r71" gradientUnits="userSpaceOnUse" x1="49.5" x2="457.5" y1="0" y2="0"><stop offset="0" stop-color="#d0c588"/><stop offset="0.0025" stop-color="#bbae51"/><stop offset="0.0049" stop-color="#c0b35e"/><stop offset="0.2868" stop-color="#bfb25b"/><stop offset="0.2892" stop-color="#c1b25d"/><stop offset="0.3137" stop-color="#e7c8b0"/><stop offset="0.3211" stop-color="#f2cfc6"/><stop offset="0.3235" stop-color="#f1cdc3"/><stop offset="0.3529" stop-color="#d3a774"/><stop offset="0.3578" stop-color="#b99473"/><stop offset="0.3676" stop-color="#7c6976"/><stop offset="0.3848" stop-color="#031978"/><stop offset="0.3873" stop-color="#001279"/><stop offset="0.4191" stop-color="#000676"/><stop offset="0.4289" stop-color="#000562"/><stop offset="0.4412" stop-color="#000238"/><stop offset="0.4485" stop-color="#00022a"/><stop offset="0.451" stop-color="#000229"/><stop offset="0.4608" stop-color="#00093d"/><stop offset="0.4755" stop-color="#001c6d"/><stop offset="0.4828" stop-color="#002279"/><stop offset="0.5147" stop-color="#000b77"/><stop offset="0.5245" stop-color="#00076c"/><stop offset="0.5368" stop-color="#000352"/><stop offset="0.5466" stop-color="#000246"/><stop offset="0.5564" stop-color="#000351"/><stop offset="0.5686" stop-color="#00076b"/><stop offset="0.5784" stop-color="#000a77"/><stop offset="0.6152" stop-color="#010678"/><stop offset="0.6422" stop-color="#000b78"/><stop offset="0.6446" stop-color="#04147a"/><stop offset="0.6642" stop-color="#a18ba9"/><stop offset="0.674" stop-color="#e7c1bd"/><stop offset="0.6765" stop-color="#f2c9c0"/><stop offset="0.7059" stop-color="#dfb28f"/><stop offset="0.7083" stop-color="#d9ad8b"/><stop offset="0.7132" stop-color="#bd9988"/><stop offset="0.723" stop-color="#7b6e84"/><stop offset="0.7353" stop-color="#1f387d"/><stop offset="0.7377" stop-color="#052e7b"/><stop offset="0.7402" stop-color="#00237a"/><stop offset="0.7475" stop-color="#00237a"/><stop offset="0.7598" stop-color="#001b7a"/><stop offset="0.7745" stop-color="#001a7a"/><stop offset="0.8015" stop-color="#00297a"/><stop offset="0.8358" stop-color="#002a7a"/><stop offset="0.8676" stop-color="#00357b"/><stop offset="0.8995" stop-color="#00347b"/><stop offset="0.9363" stop-color="#00287a"/><stop offset="0.9657" stop-color="#00307b"/><stop offset="0.9902" stop-color="#003d7c"/><stop offset="0.9926" stop-color="#00417e"/><stop offset="0.9951" stop-color="#003071"/><stop offset="0.9975" stop-color="#82a2be"/><stop offset="1" stop-color="#ffffff"/></linearGradient>
<linearGradient id="r72" gradientUnits="userSpaceOnUse" x1="49.5" x2="457.5" y1="0" y2="0"><stop offset="0" stop-color="#d0c588"/><stop offset="0.0025" stop-color="#bdad51"/><stop offset="0.0049" stop-color="#c2b25e"/><stop offset="0.2868" stop-color="#c1b15b"/><stop offset="0.2892" stop-color="#c1b15d"/><stop offset="0.299" stop-color="#d1ba80"/><stop offset="0.3211" stop-color="#f2cfc6"/><stop offset="0.3235" stop-color="#f2ccc2"/><stop offset="0.3431" stop-color="#deb491"/><stop offset="0.3529" stop-color="#d3a774"/><stop offset="0.375" stop-color="#4d4977"/><stop offset="0.3799" stop-color="#2b3278"/><stop offset="0.3848" stop-color="#031979"/><stop offset="0.3873" stop-color="#001179"/><stop offset="0.4167" stop-color="#010478"/><stop offset="0.4191" stop-color="#010475"/><stop offset="0.4485" stop-color="#00000d"/><stop offset="0.451" stop-color="#00000a"/><stop offset="0.4608" stop-color="#00062d"/><stop offset="0.4755" stop-color="#001a64"/><stop offset="0.4828" stop-color="#00227a"/><stop offset="0.5147" stop-color="#000677"/><stop offset="0.5417" stop-color="#00003c"/><stop offset="0.5466" stop-color="#000034"/><stop offset="0.5539" stop-color="#000140"/><stop offset="0.5784" stop-color="#000677"/><stop offset="0.6054" stop-color="#010277"/><stop offset="0.6373" stop-color="#000677"/><stop offset="0.6422" stop-color="#000678"/><stop offset="0.6446" stop-color="#07107a"/><stop offset="0.652" stop-color="#48428d"/><stop offset="0.6667" stop-color="#ac93ac"/><stop offset="0.674" stop-color="#e5c1bd"/><stop offset="0.6765" stop-color="#f2cac0"/><stop offset="0.7034" stop-color="#e1b393"/><stop offset="0.7083" stop-color="#d9ad8b"/><stop offset="0.7132" stop-color="#b79589"/><stop offset="0.7304" stop-color="#49557f"/><stop offset="0.7353" stop-color="#243f7c"/><stop offset="0.7377" stop-color="#08337b"/><stop offset="0.7402" stop-color="#00287a"/><stop offset="0.7721" stop-color="#001379"/><stop offset="0.8064" stop-color="#002a7a"/><stop offset="0.8382" stop-color="#00297a"/><stop offset="0.8676" stop-color="#00347b"/><stop offset="0.8995" stop-color="#00357b"/><stop offset="0.9363" stop-color="#00267a"/><stop offset="0.9657" stop-color="#00307b"/><stop offset="0.9877" stop-color="#003b7b"/><stop offset="0.9926" stop-color="#00417d"/><stop offset="0.9951" stop-color="#003071"/><stop offset="0.9975" stop-color="#82a2be"/><stop offset="1" stop-color="#ffffff"/></linearGradient>
<linearGradient id="r73" gradientUnits="userSpaceOnUse" x1="49.5" x2="457.5" y1="0" y2="0"><stop offset="0" stop-color="#d0c588"/><stop offset="0.0025" stop-color="#bdad51"/><stop offset="0.0049" stop-color="#c2b25e"/><stop offset="0.2868" stop-color="#c1b15b"/><stop offset="0.2892" stop-color="#c1b15d"/><stop offset="0.2966" stop-color="#ceb878"/><stop offset="0.3211" stop-color="#f2cfc5"/><stop offset="0.3235" stop-color="#f0ccc2"/><stop offset="0.3456" stop-color="#dcb28a"/><stop offset="0.3529" stop-color="#d3a774"/><stop offset="0.3554" stop-color="#c59b73"/><stop offset="0.3603" stop-color="#a28474"/><stop offset="0.3799" stop-color="#303378"/><stop offset="0.3824" stop-color="#1d2678"/><stop offset="0.3848" stop-color="#051678"/><stop offset="0.3873" stop-color="#000e78"/><stop offset="0.4167" stop-color="#010478"/><stop offset="0.4191" stop-color="#010474"/><stop offset="0.4387" stop-color="#00012e"/><stop offset="0.4485" stop-color="#000008"/><stop offset="0.451" stop-color="#000006"/><stop offset="0.4608" stop-color="#00062b"/><stop offset="0.4828" stop-color="#002379"/><stop offset="0.5147" stop-color="#010677"/><stop offset="0.5466" stop-color="#000031"/><stop offset="0.5784" stop-color="#010676"/><stop offset="0.5809" stop-color="#000678"/><stop offset="0.6103" stop-color="#010277"/><stop offset="0.6422" stop-color="#000677"/><stop offset="0.6446" stop-color="#07107b"/><stop offset="0.6471" stop-color="#212282"/><stop offset="0.652" stop-color="#49438e"/><stop offset="0.6691" stop-color="#bca0b1"/><stop offset="0.6765" stop-color="#f2cbc1"/><stop offset="0.7059" stop-color="#e0b290"/><stop offset="0.7083" stop-color="#d9ac8b"/><stop offset="0.7132" stop-color="#b69689"/><stop offset="0.7328" stop-color="#3b4e7e"/><stop offset="0.7353" stop-color="#29437e"/><stop offset="0.7377" stop-color="#0c377b"/><stop offset="0.7402" stop-color="#002b7a"/><stop offset="0.7721" stop-color="#001379"/><stop offset="0.8064" stop-color="#002b7a"/><stop offset="0.8382" stop-color="#00297a"/><stop offset="0.8701" stop-color="#00357b"/><stop offset="0.902" stop-color="#00367b"/><stop offset="0.9338" stop-color="#00267a"/><stop offset="0.9681" stop-color="#00327b"/><stop offset="0.9902" stop-color="#003d7b"/><stop offset="0.9926" stop-color="#00417d"/><stop offset="0.9951" stop-color="#003070"/><stop offset="0.9975" stop-color="#84a1bf"/><stop offset="1" stop-color="#ffffff"/></linearGradient>
<linearGradient id="r74" gradientUnits="userSpaceOnUse" x1="49.5" x2="457.5" y1="0" y2="0"><stop offset="0" stop-color="#d1c488"/><stop offset="0.0025" stop-color="#bdac51"/><stop offset="0.0049" stop-color="#c2b15e"/><stop offset="0.2868" stop-color="#c1b05c"/><stop offset="0.2892" stop-color="#c1b05d"/><stop offset="0.3186" stop-color="#f0cdc0"/><stop offset="0.3211" stop-color="#f2cfc6"/><stop offset="0.3235" stop-color="#f1cdc3"/><stop offset="0.3529" stop-color="#d3a773"/><stop offset="0.3578" stop-color="#b89272"/><stop offset="0.3701" stop-color="#6b5975"/><stop offset="0.375" stop-color="#4b4375"/><stop offset="0.3848" stop-color="#040e76"/><stop offset="0.3873" stop-color="#000976"/><stop offset="0.4191" stop-color="#000776"/><stop offset="0.4265" stop-color="#000667"/><stop offset="0.4412" stop-color="#000235"/><stop offset="0.4485" stop-color="#000124"/><stop offset="0.451" stop-color="#000123"/><stop offset="0.4608" stop-color="#000939"/><stop offset="0.4755" stop-color="#001c6c"/><stop offset="0.4828" stop-color="#002479"/><stop offset="0.5147" stop-color="#000a77"/><stop offset="0.5221" stop-color="#000670"/><stop offset="0.5368" stop-color="#000250"/><stop offset="0.5466" stop-color="#000142"/><stop offset="0.5564" stop-color="#00024e"/><stop offset="0.5686" stop-color="#000569"/><stop offset="0.5784" stop-color="#000977"/><stop offset="0.6152" stop-color="#010478"/><stop offset="0.6422" stop-color="#000a78"/><stop offset="0.6446" stop-color="#06127b"/><stop offset="0.6569" stop-color="#6a5f98"/><stop offset="0.674" stop-color="#e7c4c0"/><stop offset="0.6765" stop-color="#f3ccc2"/><stop offset="0.7059" stop-color="#e0b290"/><stop offset="0.7083" stop-color="#dbad8c"/><stop offset="0.7132" stop-color="#bd9b89"/><stop offset="0.7304" stop-color="#495580"/><stop offset="0.7353" stop-color="#1e417d"/><stop offset="0.7377" stop-color="#00377b"/><stop offset="0.7402" stop-color="#002d7a"/><stop offset="0.7426" stop-color="#002b7a"/><stop offset="0.7696" stop-color="#001b7a"/><stop offset="0.7843" stop-color="#00207a"/><stop offset="0.8064" stop-color="#002d7a"/><stop offset="0.8407" stop-color="#002c7a"/><stop offset="0.8701" stop-color="#00367b"/><stop offset="0.8995" stop-color="#00377b"/><stop offset="0.9363" stop-color="#00297a"/><stop offset="0.9902" stop-color="#003e7c"/><stop offset="0.9926" stop-color="#00427e"/><stop offset="0.9951" stop-color="#003171"/><stop offset="0.9975" stop-color="#84a2be"/><stop offset="1" stop-color="#ffffff"/></linearGradient>
<linearGradient id="r75" gradientUnits="userSpaceOnUse" x1="49.5" x2="457.5" y1="0" y2="0"><stop offset="0" stop-color="#d1c488"/><stop offset="0.0025" stop-color="#bdac51"/><stop offset="0.0049" stop-color="#c2b15e"/><stop offset="0.2868" stop-color="#c1b05c"/><stop offset="0.2892" stop-color="#c3b05d"/><stop offset="0.299" stop-color="#d1b87c"/><stop offset="0.3113" stop-color="#e5c6a9"/><stop offset="0.3211" stop-color="#f2cfc6"/><stop offset="0.3235" stop-color="#f1cdc3"/><stop offset="0.3529" stop-color="#d3a773"/><stop offset="0.3627" stop-color="#9d7d73"/><stop offset="0.375" stop-color="#453974"/><stop offset="0.3848" stop-color="#040975"/><stop offset="0.3873" stop-color="#000375"/><stop offset="0.4191" stop-color="#000b76"/><stop offset="0.4485" stop-color="#00033f"/><stop offset="0.451" stop-color="#00043e"/><stop offset="0.4828" stop-color="#002679"/><stop offset="0.5147" stop-color="#000c78"/><stop offset="0.5466" stop-color="#000353"/><stop offset="0.5809" stop-color="#000b78"/><stop offset="0.6152" stop-color="#000678"/><stop offset="0.6422" stop-color="#000c78"/><stop offset="0.6446" stop-color="#05167b"/><stop offset="0.6495" stop-color="#2e3387"/><stop offset="0.6544" stop-color="#504f91"/><stop offset="0.6642" stop-color="#a48fac"/><stop offset="0.674" stop-color="#e7c4c1"/><stop offset="0.6765" stop-color="#f3ccc3"/><stop offset="0.7059" stop-color="#e0b391"/><stop offset="0.7083" stop-color="#daae8d"/><stop offset="0.7206" stop-color="#8f8086"/><stop offset="0.7304" stop-color="#425480"/><stop offset="0.7353" stop-color="#1e437e"/><stop offset="0.7377" stop-color="#00397c"/><stop offset="0.7402" stop-color="#00307a"/><stop offset="0.7426" stop-color="#002d7a"/><stop offset="0.7696" stop-color="#00237a"/><stop offset="0.8039" stop-color="#002e7a"/><stop offset="0.8407" stop-color="#002e7b"/><stop offset="0.8701" stop-color="#00377b"/><stop offset="0.902" stop-color="#00377b"/><stop offset="0.9387" stop-color="#002d7b"/><stop offset="0.9902" stop-color="#003e7c"/><stop offset="0.9926" stop-color="#00427e"/><stop offset="0.9951" stop-color="#003171"/><stop offset="0.9975" stop-color="#84a2be"/><stop offset="1" stop-color="#ffffff"/></linearGradient>
<linearGradient id="r76" gradientUnits="userSpaceOnUse" x1="49.5" x2="457.5" y1="0" y2="0"><stop offset="0" stop-color="#d2c388"/><stop offset="0.0025" stop-color="#bfab53"/><stop offset="0.0049" stop-color="#c4b05f"/><stop offset="0.0466" stop-color="#c1b05c"/><stop offset="0.2868" stop-color="#c3af5d"/><stop offset="0.2892" stop-color="#c3b05e"/><stop offset="0.2917" stop-color="#c6b265"/><stop offset="0.3211" stop-color="#f2cfc6"/><stop offset="0.3235" stop-color="#f1cdc3"/><stop offset="0.3529" stop-color="#d3a773"/><stop offset="0.3578" stop-color="#b99172"/><stop offset="0.375" stop-color="#4b3973"/><stop offset="0.3848" stop-color="#050373"/><stop offset="0.3873" stop-color="#010173"/><stop offset="0.3995" stop-color="#010475"/><stop offset="0.4167" stop-color="#001078"/><stop offset="0.4265" stop-color="#000d69"/><stop offset="0.4387" stop-color="#000a68"/><stop offset="0.451" stop-color="#000758"/><stop offset="0.4608" stop-color="#001168"/><stop offset="0.473" stop-color="#001b69"/><stop offset="0.4828" stop-color="#00267a"/><stop offset="0.5123" stop-color="#001279"/><stop offset="0.5221" stop-color="#000d70"/><stop offset="0.5368" stop-color="#00096d"/><stop offset="0.5441" stop-color="#000566"/><stop offset="0.5466" stop-color="#000563"/><stop offset="0.5564" stop-color="#00076d"/><stop offset="0.5711" stop-color="#000b70"/><stop offset="0.5809" stop-color="#000d79"/><stop offset="0.6176" stop-color="#000b78"/><stop offset="0.6422" stop-color="#001079"/><stop offset="0.6446" stop-color="#04197b"/><stop offset="0.6569" stop-color="#6c659a"/><stop offset="0.6642" stop-color="#9e8cab"/><stop offset="0.674" stop-color="#e8c5c3"/><stop offset="0.6765" stop-color="#f2cdc5"/><stop offset="0.7034" stop-color="#e2b396"/><stop offset="0.7083" stop-color="#dbae8d"/><stop offset="0.7279" stop-color="#5a6382"/><stop offset="0.7353" stop-color="#1d447d"/><stop offset="0.7377" stop-color="#003b7c"/><stop offset="0.7402" stop-color="#00317a"/><stop offset="0.7426" stop-color="#002e7a"/><stop offset="0.7745" stop-color="#002a7a"/><stop offset="0.8064" stop-color="#00317b"/><stop offset="0.8407" stop-color="#00317b"/><stop offset="0.8701" stop-color="#00387b"/><stop offset="0.8995" stop-color="#00387b"/><stop offset="0.9363" stop-color="#00307b"/><stop offset="0.9877" stop-color="#003d7c"/><stop offset="0.9926" stop-color="#00427e"/><stop offset="0.9951" stop-color="#003171"/><stop offset="0.9975" stop-color="#82a2be"/><stop offset="1" stop-color="#ffffff"/></linearGradient>
<linearGradient id="r77" gradientUnits="userSpaceOnUse" x1="49.5" x2="457.5" y1="0" y2="0"><stop offset="0" stop-color="#d2c388"/><stop offset="0.0025" stop-color="#bfab54"/><stop offset="0.0049" stop-color="#c4b05f"/><stop offset="0.2868" stop-color="#c3af5d"/><stop offset="0.2892" stop-color="#c3af5e"/><stop offset="0.2966" stop-color="#cfb77a"/><stop offset="0.3211" stop-color="#f2cec5"/><stop offset="0.3431" stop-color="#deb491"/><stop offset="0.3529" stop-color="#d3a774"/><stop offset="0.3603" stop-color="#a17e73"/><stop offset="0.3775" stop-color="#3e2c72"/><stop offset="0.3824" stop-color="#1c1072"/><stop offset="0.3848" stop-color="#060271"/><stop offset="0.3873" stop-color="#010071"/><stop offset="0.4044" stop-color="#000676"/><stop offset="0.4191" stop-color="#001377"/><stop offset="0.4436" stop-color="#000d76"/><stop offset="0.451" stop-color="#000c72"/><stop offset="0.4559" stop-color="#001176"/><stop offset="0.4779" stop-color="#002276"/><stop offset="0.4828" stop-color="#00267a"/><stop offset="0.5123" stop-color="#001679"/><stop offset="0.5172" stop-color="#001276"/><stop offset="0.5417" stop-color="#000b76"/><stop offset="0.5466" stop-color="#000973"/><stop offset="0.5809" stop-color="#001179"/><stop offset="0.6152" stop-color="#000e79"/><stop offset="0.6422" stop-color="#001379"/><stop offset="0.6446" stop-color="#041e7c"/><stop offset="0.6471" stop-color="#223083"/><stop offset="0.652" stop-color="#4b4e90"/><stop offset="0.6691" stop-color="#bda6b6"/><stop offset="0.674" stop-color="#e4c2c2"/><stop offset="0.6765" stop-color="#f2cec6"/><stop offset="0.701" stop-color="#e5b79d"/><stop offset="0.7083" stop-color="#dcae8f"/><stop offset="0.7157" stop-color="#a88f8a"/><stop offset="0.7304" stop-color="#4f5e82"/><stop offset="0.7353" stop-color="#294b7f"/><stop offset="0.7377" stop-color="#0b407d"/><stop offset="0.7402" stop-color="#00367c"/><stop offset="0.8358" stop-color="#00357c"/><stop offset="0.8701" stop-color="#003d7d"/><stop offset="0.8922" stop-color="#003d7d"/><stop offset="0.9338" stop-color="#00357c"/><stop offset="0.9902" stop-color="#00407d"/><stop offset="0.9926" stop-color="#00447f"/><stop offset="0.9951" stop-color="#003372"/><stop offset="0.9975" stop-color="#85a3bf"/><stop offset="1" stop-color="#ffffff"/></linearGradient>
<linearGradient id="r78" gradientUnits="userSpaceOnUse" x1="49.5" x2="457.5" y1="0" y2="0"><stop offset="0" stop-color="#d2c388"/><stop offset="0.0025" stop-color="#bfab54"/><stop offset="0.0049" stop-color="#c4b05f"/><stop offset="0.2868" stop-color="#c3af5d"/><stop offset="0.2892" stop-color="#c3af5e"/><stop offset="0.3015" stop-color="#d6bb8a"/><stop offset="0.3211" stop-color="#f2cfc6"/><stop offset="0.3235" stop-color="#f1cdc3"/><stop offset="0.3529" stop-color="#d3a773"/><stop offset="0.3725" stop-color="#5b4471"/><stop offset="0.3824" stop-color="#190b70"/><stop offset="0.3848" stop-color="#05016f"/><stop offset="0.3873" stop-color="#00006f"/><stop offset="0.3995" stop-color="#010473"/><stop offset="0.4191" stop-color="#001779"/><stop offset="0.4485" stop-color="#001179"/><stop offset="0.4804" stop-color="#00267a"/><stop offset="0.5466" stop-color="#000c78"/><stop offset="0.5809" stop-color="#001379"/><stop offset="0.6152" stop-color="#001179"/><stop offset="0.6422" stop-color="#001779"/><stop offset="0.6446" stop-color="#011f7c"/><stop offset="0.6495" stop-color="#323d89"/><stop offset="0.6544" stop-color="#5a5c96"/><stop offset="0.6642" stop-color="#9c8eac"/><stop offset="0.674" stop-color="#e6c6c5"/><stop offset="0.6765" stop-color="#f3d0c8"/><stop offset="0.6789" stop-color="#f3cec6"/><stop offset="0.7083" stop-color="#e2b69a"/><stop offset="0.7132" stop-color="#d0ac99"/><stop offset="0.7157" stop-color="#c3a397"/><stop offset="0.7304" stop-color="#646e8e"/><stop offset="0.7353" stop-color="#48618e"/><stop offset="0.7402" stop-color="#35578c"/><stop offset="0.7426" stop-color="#32568c"/><stop offset="0.7525" stop-color="#2c538a"/><stop offset="0.7623" stop-color="#2c538a"/><stop offset="0.7745" stop-color="#34568c"/><stop offset="0.7843" stop-color="#2c538a"/><stop offset="0.7941" stop-color="#2c538a"/><stop offset="0.8064" stop-color="#34568c"/><stop offset="0.8162" stop-color="#2c538b"/><stop offset="0.826" stop-color="#2c538a"/><stop offset="0.8382" stop-color="#34568c"/><stop offset="0.8505" stop-color="#2b548a"/><stop offset="0.8725" stop-color="#335b8d"/><stop offset="0.8824" stop-color="#2b578b"/><stop offset="0.8897" stop-color="#2b578b"/><stop offset="0.902" stop-color="#345c8d"/><stop offset="0.9093" stop-color="#2e598c"/><stop offset="0.9191" stop-color="#2d558b"/><stop offset="0.9338" stop-color="#34568c"/><stop offset="0.9485" stop-color="#2b548a"/><stop offset="0.9559" stop-color="#2c568b"/><stop offset="0.9632" stop-color="#335b8d"/><stop offset="0.9853" stop-color="#295c8b"/><stop offset="0.9902" stop-color="#2d5d8c"/><stop offset="0.9926" stop-color="#33628e"/><stop offset="0.9951" stop-color="#1c5384"/><stop offset="0.9975" stop-color="#9db2c7"/><stop offset="1" stop-color="#ffffff"/></linearGradient>
<linearGradient id="r79" gradientUnits="userSpaceOnUse" x1="49.5" x2="457.5" y1="0" y2="0"><stop offset="0" stop-color="#d3c288"/><stop offset="0.0025" stop-color="#bfaa54"/><stop offset="0.0049" stop-color="#c4af5f"/><stop offset="0.2868" stop-color="#c3ae5d"/><stop offset="0.2892" stop-color="#c3af5e"/><stop offset="0.3186" stop-color="#efcdc1"/><stop offset="0.3211" stop-color="#f2d0c7"/><stop offset="0.3235" stop-color="#f1cec4"/><stop offset="0.3529" stop-color="#d3a773"/><stop offset="0.3627" stop-color="#9b7970"/><stop offset="0.3824" stop-color="#150a6d"/><stop offset="0.3848" stop-color="#04016c"/><stop offset="0.3873" stop-color="#00006c"/><stop offset="0.402" stop-color="#000673"/><stop offset="0.4191" stop-color="#001979"/><stop offset="0.451" stop-color="#001679"/><stop offset="0.4804" stop-color="#00247a"/><stop offset="0.5441" stop-color="#001078"/><stop offset="0.5809" stop-color="#001479"/><stop offset="0.6152" stop-color="#001379"/><stop offset="0.6422" stop-color="#001979"/><stop offset="0.6446" stop-color="#01217c"/><stop offset="0.6495" stop-color="#2e3d88"/><stop offset="0.6618" stop-color="#9085a9"/><stop offset="0.674" stop-color="#e8c8c7"/><stop offset="0.6765" stop-color="#f4d1c9"/><stop offset="0.6863" stop-color="#f2ccc2"/><stop offset="0.6961" stop-color="#edc3b3"/><stop offset="0.7083" stop-color="#e7bda8"/><stop offset="0.7181" stop-color="#c9ada5"/><stop offset="0.7255" stop-color="#a094a0"/><stop offset="0.7304" stop-color="#8b899f"/><stop offset="0.7402" stop-color="#6e789e"/><stop offset="0.7426" stop-color="#6c789e"/><stop offset="0.7574" stop-color="#66759c"/><stop offset="0.7647" stop-color="#6c789e"/><stop offset="0.7819" stop-color="#6c789e"/><stop offset="0.7892" stop-color="#66759b"/><stop offset="0.7966" stop-color="#6c789e"/><stop offset="0.8137" stop-color="#6c789e"/><stop offset="0.8211" stop-color="#66759b"/><stop offset="0.8382" stop-color="#6c789e"/><stop offset="0.848" stop-color="#6a789d"/><stop offset="0.8529" stop-color="#65769c"/><stop offset="0.8627" stop-color="#6c7b9e"/><stop offset="0.8775" stop-color="#6c7c9e"/><stop offset="0.8848" stop-color="#65799d"/><stop offset="0.8946" stop-color="#6c7c9e"/><stop offset="0.9093" stop-color="#6c7b9e"/><stop offset="0.9191" stop-color="#65769c"/><stop offset="0.9265" stop-color="#6c799e"/><stop offset="0.9412" stop-color="#6c799e"/><stop offset="0.951" stop-color="#65769c"/><stop offset="0.9559" stop-color="#6b7a9e"/><stop offset="0.9632" stop-color="#6c7b9e"/><stop offset="0.973" stop-color="#6b7d9e"/><stop offset="0.9828" stop-color="#657a9d"/><stop offset="0.9926" stop-color="#6f81a0"/><stop offset="0.9951" stop-color="#617597"/><stop offset="0.9975" stop-color="#b7c0cf"/><stop offset="1" stop-color="#ffffff"/></linearGradient>
<linearGradient id="r80" gradientUnits="userSpaceOnUse" x1="49.5" x2="457.5" y1="0" y2="0"><stop offset="0" stop-color="#d3c288"/><stop offset="0.0025" stop-color="#bfaa54"/><stop offset="0.0049" stop-color="#c4af5f"/><stop offset="0.2868" stop-color="#c3ae5d"/><stop offset="0.2892" stop-color="#c3ae5e"/><stop offset="0.3137" stop-color="#e8c8b3"/><stop offset="0.3211" stop-color="#f3d0c8"/><stop offset="0.3235" stop-color="#f2cec5"/><stop offset="0.3529" stop-color="#d3a773"/><stop offset="0.3578" stop-color="#b99071"/><stop offset="0.3652" stop-color="#8a6a70"/><stop offset="0.3824" stop-color="#130a6a"/><stop offset="0.3848" stop-color="#03016a"/><stop offset="0.3873" stop-color="#00006a"/><stop offset="0.3971" stop-color="#01036f"/><stop offset="0.4191" stop-color="#001a79"/><stop offset="0.4534" stop-color="#001b79"/><stop offset="0.4804" stop-color="#00237a"/><stop offset="0.5098" stop-color="#001f7a"/><stop offset="0.5515" stop-color="#001279"/><stop offset="0.6176" stop-color="#001479"/><stop offset="0.6422" stop-color="#001a79"/><stop offset="0.6446" stop-color="#00237d"/><stop offset="0.6495" stop-color="#2d3f89"/><stop offset="0.6618" stop-color="#9187aa"/><stop offset="0.674" stop-color="#e8c9c8"/><stop offset="0.6765" stop-color="#f3d2cb"/><stop offset="0.6887" stop-color="#f2ccc1"/><stop offset="0.6961" stop-color="#f1cbc0"/><stop offset="0.7083" stop-color="#ebc4b5"/><stop offset="0.7181" stop-color="#ccb3b1"/><stop offset="0.7279" stop-color="#c1aeb2"/><stop offset="0.7402" stop-color="#9d97ad"/><stop offset="0.7426" stop-color="#9c97ad"/><stop offset="0.7549" stop-color="#a09aaf"/><stop offset="0.7647" stop-color="#9c97ad"/><stop offset="0.7794" stop-color="#9c97ad"/><stop offset="0.7892" stop-color="#a19aae"/><stop offset="0.7966" stop-color="#9c97ad"/><stop offset="0.8113" stop-color="#9c97ad"/><stop offset="0.8211" stop-color="#a19aae"/><stop offset="0.8284" stop-color="#9c97ad"/><stop offset="0.8456" stop-color="#9b98ae"/><stop offset="0.8529" stop-color="#a19baf"/><stop offset="0.8652" stop-color="#9b99ae"/><stop offset="0.875" stop-color="#9b99ae"/><stop offset="0.8848" stop-color="#a19caf"/><stop offset="0.8946" stop-color="#9b99ae"/><stop offset="0.9093" stop-color="#9b98ae"/><stop offset="0.9167" stop-color="#a19baf"/><stop offset="0.9265" stop-color="#9b98ae"/><stop offset="0.9412" stop-color="#9b98ae"/><stop offset="0.9485" stop-color="#a19baf"/><stop offset="0.9583" stop-color="#9b98ae"/><stop offset="0.973" stop-color="#9a9aae"/><stop offset="0.9828" stop-color="#a09daf"/><stop offset="0.9902" stop-color="#9c9aae"/><stop offset="0.9926" stop-color="#9e9caf"/><stop offset="0.9951" stop-color="#9494a8"/><stop offset="0.9975" stop-color="#ceced7"/><stop offset="1" stop-color="#ffffff"/></linearGradient>
<linearGradient id="r81" gradientUnits="userSpaceOnUse" x1="49.5" x2="457.5" y1="0" y2="0"><stop offset="0" stop-color="#d3c288"/><stop offset="0.0025" stop-color="#bfaa54"/><stop offset="0.0049" stop-color="#c4af5f"/><stop offset="0.2868" stop-color="#c3ae5d"/><stop offset="0.2892" stop-color="#c3ae5e"/><stop offset="0.3015" stop-color="#d6bb8a"/><stop offset="0.3211" stop-color="#f3d0c8"/><stop offset="0.3235" stop-color="#f2cec5"/><stop offset="0.3529" stop-color="#d3a773"/><stop offset="0.3725" stop-color="#5b436d"/><stop offset="0.3824" stop-color="#170b68"/><stop offset="0.3848" stop-color="#030167"/><stop offset="0.3873" stop-color="#000067"/><stop offset="0.3971" stop-color="#00046d"/><stop offset="0.4191" stop-color="#001e7a"/><stop offset="0.4853" stop-color="#00227a"/><stop offset="0.5098" stop-color="#00217a"/><stop offset="0.5441" stop-color="#001679"/><stop offset="0.6152" stop-color="#001779"/><stop offset="0.6422" stop-color="#001c7a"/><stop offset="0.6446" stop-color="#00267d"/><stop offset="0.6471" stop-color="#1c3684"/><stop offset="0.652" stop-color="#495391"/><stop offset="0.6667" stop-color="#af9eb5"/><stop offset="0.674" stop-color="#e8c8c9"/><stop offset="0.6765" stop-color="#f5d2cc"/><stop offset="0.701" stop-color="#f3cfc7"/><stop offset="0.7059" stop-color="#f1cdc3"/><stop offset="0.7157" stop-color="#e1c3c0"/><stop offset="0.7328" stop-color="#e0c2c0"/><stop offset="0.7353" stop-color="#ddc0bf"/><stop offset="0.7402" stop-color="#cfb7be"/><stop offset="0.7426" stop-color="#cdb7be"/><stop offset="0.75" stop-color="#d3bac0"/><stop offset="0.7721" stop-color="#cdb7be"/><stop offset="0.7843" stop-color="#d2bbc0"/><stop offset="0.7941" stop-color="#d3bac0"/><stop offset="0.8064" stop-color="#cdb7be"/><stop offset="0.826" stop-color="#d3bac0"/><stop offset="0.8382" stop-color="#cdb8bf"/><stop offset="0.848" stop-color="#d2bbc0"/><stop offset="0.8578" stop-color="#d2bbc0"/><stop offset="0.8676" stop-color="#cdb8bf"/><stop offset="0.8799" stop-color="#d2bbc0"/><stop offset="0.9044" stop-color="#cdb8bf"/><stop offset="0.9118" stop-color="#d2bbc0"/><stop offset="0.9216" stop-color="#d2bbc0"/><stop offset="0.9314" stop-color="#cdb8bf"/><stop offset="0.9534" stop-color="#d2bbc0"/><stop offset="0.9632" stop-color="#cdb8bf"/><stop offset="0.9877" stop-color="#d2bbc0"/><stop offset="0.9926" stop-color="#d0bbc0"/><stop offset="0.9951" stop-color="#cab4ba"/><stop offset="0.9975" stop-color="#e6dddf"/><stop offset="1" stop-color="#ffffff"/></linearGradient>
<linearGradient id="r82" gradientUnits="userSpaceOnUse" x1="49.5" x2="457.5" y1="0" y2="0"><stop offset="0" stop-color="#d3c288"/><stop offset="0.0025" stop-color="#c0a954"/><stop offset="0.0049" stop-color="#c4af5f"/><stop offset="0.2868" stop-color="#c3ae5d"/><stop offset="0.2892" stop-color="#c3ae5e"/><stop offset="0.299" stop-color="#d3b982"/><stop offset="0.3137" stop-color="#e7c8ae"/><stop offset="0.3211" stop-color="#f3d0c9"/><stop offset="0.3431" stop-color="#deb592"/><stop offset="0.3529" stop-color="#d3a774"/><stop offset="0.3603" stop-color="#a28070"/><stop offset="0.3775" stop-color="#3e2c6b"/><stop offset="0.3824" stop-color="#1c1168"/><stop offset="0.3848" stop-color="#060267"/><stop offset="0.3873" stop-color="#000068"/><stop offset="0.3971" stop-color="#00066d"/><stop offset="0.4191" stop-color="#00207a"/><stop offset="0.4265" stop-color="#00217a"/><stop offset="0.5123" stop-color="#00227a"/><stop offset="0.5466" stop-color="#001879"/><stop offset="0.6127" stop-color="#001879"/><stop offset="0.6422" stop-color="#001f79"/><stop offset="0.6446" stop-color="#00287d"/><stop offset="0.6471" stop-color="#1e3985"/><stop offset="0.652" stop-color="#495693"/><stop offset="0.6691" stop-color="#beabbb"/><stop offset="0.674" stop-color="#e5c7c8"/><stop offset="0.6765" stop-color="#f4d3ce"/><stop offset="0.9926" stop-color="#f5d5cf"/><stop offset="0.9951" stop-color="#f3d1cb"/><stop offset="1" stop-color="#ffffff"/></linearGradient>
<linearGradient id="r83" gradientUnits="userSpaceOnUse" x1="49.5" x2="457.5" y1="0" y2="0"><stop offset="0" stop-color="#d4c288"/><stop offset="0.0025" stop-color="#c1a854"/><stop offset="0.0049" stop-color="#c6ae5f"/><stop offset="0.2868" stop-color="#c5ad5d"/><stop offset="0.2892" stop-color="#c5ad5e"/><stop offset="0.3211" stop-color="#f3d1ca"/><stop offset="0.3235" stop-color="#f2d0c7"/><stop offset="0.3529" stop-color="#d3a773"/><stop offset="0.3578" stop-color="#b89372"/><stop offset="0.3725" stop-color="#5c476f"/><stop offset="0.3848" stop-color="#04066c"/><stop offset="0.3873" stop-color="#00036b"/><stop offset="0.3971" stop-color="#000a70"/><stop offset="0.4069" stop-color="#001775"/><stop offset="0.4191" stop-color="#00217a"/><stop offset="0.5172" stop-color="#00227a"/><stop offset="0.5441" stop-color="#001979"/><stop offset="0.5907" stop-color="#001879"/><stop offset="0.6422" stop-color="#00207a"/><stop offset="0.6446" stop-color="#00287d"/><stop offset="0.652" stop-color="#435290"/><stop offset="0.6569" stop-color="#6a709e"/><stop offset="0.674" stop-color="#e9cbcb"/><stop offset="0.6765" stop-color="#f5d5d0"/><stop offset="0.6985" stop-color="#f7d8d3"/><stop offset="0.7083" stop-color="#f8dcd8"/><stop offset="0.9926" stop-color="#f6ddd9"/><stop offset="0.9951" stop-color="#f7dad5"/><stop offset="1" stop-color="#ffffff"/></linearGradient>
<linearGradient id="r84" gradientUnits="userSpaceOnUse" x1="49.5" x2="457.5" y1="0" y2="0"><stop offset="0" stop-color="#d4c189"/><stop offset="0.0025" stop-color="#c2a755"/><stop offset="0.0049" stop-color="#c6ad60"/><stop offset="0.0098" stop-color="#c5ac5d"/><stop offset="0.2868" stop-color="#c5ac5e"/><stop offset="0.2892" stop-color="#c5ad5f"/><stop offset="0.299" stop-color="#d3b77e"/><stop offset="0.3113" stop-color="#e6c6ac"/><stop offset="0.3211" stop-color="#f3d1ca"/><stop offset="0.3235" stop-color="#f2d0c7"/><stop offset="0.3333" stop-color="#e9c3ae"/><stop offset="0.3407" stop-color="#e0b795"/><stop offset="0.3529" stop-color="#d3a773"/><stop offset="0.3652" stop-color="#8d7372"/><stop offset="0.375" stop-color="#453e71"/><stop offset="0.3848" stop-color="#050d70"/><stop offset="0.3873" stop-color="#000971"/><stop offset="0.4167" stop-color="#002079"/><stop offset="0.4436" stop-color="#00247a"/><stop offset="0.5172" stop-color="#00227a"/><stop offset="0.549" stop-color="#001979"/><stop offset="0.5931" stop-color="#001879"/><stop offset="0.6422" stop-color="#00217a"/><stop offset="0.6446" stop-color="#00297d"/><stop offset="0.6495" stop-color="#2d458a"/><stop offset="0.6544" stop-color="#525e96"/><stop offset="0.6642" stop-color="#a69ab3"/><stop offset="0.674" stop-color="#e9cbcb"/><stop offset="0.6765" stop-color="#f5d5d0"/><stop offset="0.7059" stop-color="#f9e2df"/><stop offset="0.723" stop-color="#f8e3e0"/><stop offset="0.9926" stop-color="#f8e3e0"/><stop offset="0.9951" stop-color="#f8e1dd"/><stop offset="1" stop-color="#ffffff"/></linearGradient>
<linearGradient id="r85" gradientUnits="userSpaceOnUse" x1="49.5" x2="457.5" y1="0" y2="0"><stop offset="0" stop-color="#d4c189"/><stop offset="0.0025" stop-color="#c2a755"/><stop offset="0.0049" stop-color="#c6ad60"/><stop offset="0.2868" stop-color="#c5ac5e"/><stop offset="0.2892" stop-color="#c5ac5f"/><stop offset="0.2941" stop-color="#cdb16f"/><stop offset="0.3211" stop-color="#f4d1cb"/><stop offset="0.3235" stop-color="#f3d0c8"/><stop offset="0.3529" stop-color="#d3a773"/><stop offset="0.3578" stop-color="#b89271"/><stop offset="0.3701" stop-color="#6b5d73"/><stop offset="0.375" stop-color="#4a4974"/><stop offset="0.3848" stop-color="#031675"/><stop offset="0.3873" stop-color="#001274"/><stop offset="0.4191" stop-color="#00217a"/><stop offset="0.4436" stop-color="#00267a"/><stop offset="0.473" stop-color="#00217a"/><stop offset="0.5123" stop-color="#00237a"/><stop offset="0.549" stop-color="#001a79"/><stop offset="0.5907" stop-color="#001879"/><stop offset="0.6422" stop-color="#00227a"/><stop offset="0.6446" stop-color="#002a7d"/><stop offset="0.6495" stop-color="#2e468a"/><stop offset="0.6569" stop-color="#6c729f"/><stop offset="0.6618" stop-color="#8d8aac"/><stop offset="0.674" stop-color="#ebcccc"/><stop offset="0.6765" stop-color="#f6d5d1"/><stop offset="0.7059" stop-color="#fae9e7"/><stop offset="0.7206" stop-color="#fbeae8"/><stop offset="0.9853" stop-color="#fbeae8"/><stop offset="0.9951" stop-color="#f9e8e5"/><stop offset="1" stop-color="#ffffff"/></linearGradient>
<linearGradient id="r86" gradientUnits="userSpaceOnUse" x1="49.5" x2="457.5" y1="0" y2="0"><stop offset="0" stop-color="#d6c089"/><stop offset="0.0025" stop-color="#c3a655"/><stop offset="0.0049" stop-color="#c8ac61"/><stop offset="0.2868" stop-color="#c7ab5e"/><stop offset="0.2892" stop-color="#c7ab60"/><stop offset="0.2966" stop-color="#d2b47c"/><stop offset="0.3162" stop-color="#ebcbb9"/><stop offset="0.3211" stop-color="#f3d2cb"/><stop offset="0.348" stop-color="#d9b085"/><stop offset="0.3529" stop-color="#d3a774"/><stop offset="0.3603" stop-color="#a28573"/><stop offset="0.3775" stop-color="#404477"/><stop offset="0.3824" stop-color="#1c2e78"/><stop offset="0.3848" stop-color="#002078"/><stop offset="0.3873" stop-color="#001979"/><stop offset="0.4191" stop-color="#00227a"/><stop offset="0.4534" stop-color="#00277a"/><stop offset="0.4779" stop-color="#00207a"/><stop offset="0.5172" stop-color="#00237a"/><stop offset="0.5466" stop-color="#001b7a"/><stop offset="0.5882" stop-color="#001879"/><stop offset="0.6397" stop-color="#00227a"/><stop offset="0.6422" stop-color="#00237a"/><stop offset="0.6446" stop-color="#002c7d"/><stop offset="0.6471" stop-color="#213e86"/><stop offset="0.652" stop-color="#4c5a94"/><stop offset="0.6667" stop-color="#aea1b7"/><stop offset="0.6765" stop-color="#f6d6d2"/><stop offset="0.7083" stop-color="#fcefef"/><stop offset="0.9951" stop-color="#fcefee"/><stop offset="1" stop-color="#ffffff"/></linearGradient>
<linearGradient id="r87" gradientUnits="userSpaceOnUse" x1="49.5" x2="457.5" y1="0" y2="0"><stop offset="0" stop-color="#d6bf89"/><stop offset="0.0025" stop-color="#c4a556"/><stop offset="0.0049" stop-color="#c8ac61"/><stop offset="0.2868" stop-color="#c7aa5e"/><stop offset="0.2892" stop-color="#c7aa60"/><stop offset="0.2917" stop-color="#caad67"/><stop offset="0.3015" stop-color="#d9ba8c"/><stop offset="0.3211" stop-color="#f3d2cc"/><stop offset="0.3235" stop-color="#f3d1c9"/><stop offset="0.3333" stop-color="#e8c2ab"/><stop offset="0.3456" stop-color="#dcb38c"/><stop offset="0.3529" stop-color="#d3a774"/><stop offset="0.3775" stop-color="#3e4577"/><stop offset="0.3799" stop-color="#2c3b79"/><stop offset="0.3848" stop-color="#002379"/><stop offset="0.3873" stop-color="#001f7a"/><stop offset="0.4436" stop-color="#00267a"/><stop offset="0.4804" stop-color="#001f7a"/><stop offset="0.5196" stop-color="#00237a"/><stop offset="0.5441" stop-color="#001c7a"/><stop offset="0.5858" stop-color="#001979"/><stop offset="0.6422" stop-color="#00237a"/><stop offset="0.6446" stop-color="#002b7d"/><stop offset="0.6495" stop-color="#32498b"/><stop offset="0.6544" stop-color="#5c659a"/><stop offset="0.6667" stop-color="#afa2b7"/><stop offset="0.674" stop-color="#e7cbcc"/><stop offset="0.6765" stop-color="#f6d6d2"/><stop offset="0.7083" stop-color="#fcf4f4"/><stop offset="0.9951" stop-color="#fdf3f3"/><stop offset="1" stop-color="#ffffff"/></linearGradient>
<linearGradient id="r88" gradientUnits="userSpaceOnUse" x1="49.5" x2="457.5" y1="0" y2="0"><stop offset="0" stop-color="#d6bf89"/><stop offset="0.0025" stop-color="#c4a556"/><stop offset="0.0049" stop-color="#c8ab61"/><stop offset="0.2868" stop-color="#c7aa5e"/><stop offset="0.2892" stop-color="#c7aa60"/><stop offset="0.2917" stop-color="#caad67"/><stop offset="0.3186" stop-color="#f1d1c6"/><stop offset="0.3211" stop-color="#f3d3cd"/><stop offset="0.3235" stop-color="#f3d1ca"/><stop offset="0.3529" stop-color="#d3a774"/><stop offset="0.3652" stop-color="#8c7975"/><stop offset="0.3799" stop-color="#263879"/><stop offset="0.3848" stop-color="#002479"/><stop offset="0.3873" stop-color="#00207a"/><stop offset="0.4534" stop-color="#00247a"/><stop offset="0.4804" stop-color="#001e7a"/><stop offset="0.5196" stop-color="#00237a"/><stop offset="0.5441" stop-color="#001c7a"/><stop offset="0.598" stop-color="#001b79"/><stop offset="0.6422" stop-color="#00237a"/><stop offset="0.6446" stop-color="#002b7d"/><stop offset="0.6495" stop-color="#2e468a"/><stop offset="0.6618" stop-color="#918bad"/><stop offset="0.674" stop-color="#eacccd"/><stop offset="0.6765" stop-color="#f6d6d2"/><stop offset="0.7083" stop-color="#fdf5f5"/><stop offset="0.9951" stop-color="#fef4f4"/><stop offset="1" stop-color="#ffffff"/></linearGradient>
<linearGradient id="r89" gradientUnits="userSpaceOnUse" x1="49.5" x2="457.5" y1="0" y2="0"><stop offset="0" stop-color="#d6bf8b"/><stop offset="0.0025" stop-color="#c4a357"/><stop offset="0.0049" stop-color="#c9aa62"/><stop offset="0.2868" stop-color="#c8a960"/><stop offset="0.2892" stop-color="#c9a961"/><stop offset="0.2941" stop-color="#cfaf70"/><stop offset="0.3113" stop-color="#e9c7af"/><stop offset="0.3211" stop-color="#f4d3ce"/><stop offset="0.3284" stop-color="#eecbbd"/><stop offset="0.3529" stop-color="#d3a774"/><stop offset="0.3627" stop-color="#9c8374"/><stop offset="0.3848" stop-color="#002679"/><stop offset="0.3873" stop-color="#00217a"/><stop offset="0.4534" stop-color="#00237a"/><stop offset="0.4779" stop-color="#001c79"/><stop offset="0.5123" stop-color="#00237a"/><stop offset="0.5441" stop-color="#001c7a"/><stop offset="0.6127" stop-color="#001c7a"/><stop offset="0.6422" stop-color="#00237a"/><stop offset="0.6446" stop-color="#002b7d"/><stop offset="0.6495" stop-color="#2c468a"/><stop offset="0.6642" stop-color="#a49ab4"/><stop offset="0.674" stop-color="#eacccd"/><stop offset="0.6765" stop-color="#f6d6d3"/><stop offset="0.7083" stop-color="#fdf7f7"/><stop offset="0.9951" stop-color="#fdf7f6"/><stop offset="1" stop-color="#ffffff"/></linearGradient>
<linearGradient id="r90" gradientUnits="userSpaceOnUse" x1="49.5" x2="457.5" y1="0" y2="0"><stop offset="0" stop-color="#d7be8b"/><stop offset="0.0025" stop-color="#c6a257"/><stop offset="0.0049" stop-color="#caaa62"/><stop offset="0.2868" stop-color="#c9a860"/><stop offset="0.2892" stop-color="#c9a861"/><stop offset="0.2917" stop-color="#ccac69"/><stop offset="0.3211" stop-color="#f4d4cf"/><stop offset="0.3235" stop-color="#f3d2ca"/><stop offset="0.3529" stop-color="#d3a774"/><stop offset="0.3652" stop-color="#877675"/><stop offset="0.375" stop-color="#4d5377"/><stop offset="0.3848" stop-color="#002879"/><stop offset="0.3873" stop-color="#00237a"/><stop offset="0.3922" stop-color="#00227a"/><stop offset="0.4534" stop-color="#00227a"/><stop offset="0.4804" stop-color="#001b79"/><stop offset="0.5098" stop-color="#00237a"/><stop offset="0.5441" stop-color="#001c7a"/><stop offset="0.6152" stop-color="#001c7a"/><stop offset="0.6422" stop-color="#00237a"/><stop offset="0.6446" stop-color="#002b7d"/><stop offset="0.6495" stop-color="#334a8c"/><stop offset="0.6544" stop-color="#5c659a"/><stop offset="0.6667" stop-color="#b0a2b8"/><stop offset="0.674" stop-color="#e8cccc"/><stop offset="0.6765" stop-color="#f6d6d3"/><stop offset="0.7083" stop-color="#fdf9f9"/><stop offset="0.9951" stop-color="#fdf9f9"/><stop offset="1" stop-color="#ffffff"/></linearGradient>
<linearGradient id="r91" gradientUnits="userSpaceOnUse" x1="49.5" x2="457.5" y1="0" y2="0"><stop offset="0" stop-color="#d7be8b"/><stop offset="0.0025" stop-color="#c7a257"/><stop offset="0.0049" stop-color="#caa962"/><stop offset="0.2868" stop-color="#c9a860"/><stop offset="0.2892" stop-color="#c9a861"/><stop offset="0.2966" stop-color="#d4b37e"/><stop offset="0.3137" stop-color="#e9c9b4"/><stop offset="0.3211" stop-color="#f4d4cf"/><stop offset="0.3456" stop-color="#dcb38d"/><stop offset="0.3529" stop-color="#d3a774"/><stop offset="0.3603" stop-color="#a28874"/><stop offset="0.3676" stop-color="#7a6d76"/><stop offset="0.3799" stop-color="#2f4178"/><stop offset="0.3824" stop-color="#1c3679"/><stop offset="0.3848" stop-color="#00297a"/><stop offset="0.3873" stop-color="#00237a"/><stop offset="0.3922" stop-color="#00227a"/><stop offset="0.4461" stop-color="#00217a"/><stop offset="0.4853" stop-color="#001a79"/><stop offset="0.5123" stop-color="#002279"/><stop offset="0.5441" stop-color="#001b7a"/><stop offset="0.6152" stop-color="#001b7a"/><stop offset="0.6422" stop-color="#00227a"/><stop offset="0.6446" stop-color="#002b7d"/><stop offset="0.6471" stop-color="#1f3d85"/><stop offset="0.652" stop-color="#4a5a93"/><stop offset="0.6716" stop-color="#cfb9c3"/><stop offset="0.674" stop-color="#e5c9ca"/><stop offset="0.6765" stop-color="#f6d6d2"/><stop offset="0.7083" stop-color="#fefafa"/><stop offset="0.9926" stop-color="#fefbfa"/><stop offset="1" stop-color="#ffffff"/></linearGradient>
<linearGradient id="r92" gradientUnits="userSpaceOnUse" x1="49.5" x2="457.5" y1="0" y2="0"><stop offset="0" stop-color="#d7bd8b"/><stop offset="0.0025" stop-color="#c7a157"/><stop offset="0.0049" stop-color="#cba862"/><stop offset="0.2868" stop-color="#caa760"/><stop offset="0.2892" stop-color="#caa761"/><stop offset="0.2917" stop-color="#cdaa69"/><stop offset="0.3211" stop-color="#f5d5d0"/><stop offset="0.3284" stop-color="#eecbbe"/><stop offset="0.3529" stop-color="#d3a774"/><stop offset="0.3578" stop-color="#b99573"/><stop offset="0.3676" stop-color="#796d75"/><stop offset="0.3725" stop-color="#5d5c77"/><stop offset="0.3799" stop-color="#283c79"/><stop offset="0.3824" stop-color="#113179"/><stop offset="0.3848" stop-color="#002679"/><stop offset="0.3922" stop-color="#00217a"/><stop offset="0.4363" stop-color="#001f79"/><stop offset="0.4485" stop-color="#001a79"/><stop offset="0.4779" stop-color="#001979"/><stop offset="0.5123" stop-color="#001f79"/><stop offset="0.549" stop-color="#001679"/><stop offset="0.5809" stop-color="#001b79"/><stop offset="0.6201" stop-color="#001979"/><stop offset="0.6422" stop-color="#001c79"/><stop offset="0.6446" stop-color="#00267d"/><stop offset="0.652" stop-color="#435191"/><stop offset="0.6569" stop-color="#6b709f"/><stop offset="0.6642" stop-color="#9e94b2"/><stop offset="0.674" stop-color="#eacbcc"/><stop offset="0.6765" stop-color="#f6d6d2"/><stop offset="0.7083" stop-color="#fdf9f8"/><stop offset="0.9951" stop-color="#fef8f7"/><stop offset="1" stop-color="#ffffff"/></linearGradient>
<linearGradient id="r93" gradientUnits="userSpaceOnUse" x1="49.5" x2="457.5" y1="0" y2="0"><stop offset="0" stop-color="#d8bd8b"/><stop offset="0.0025" stop-color="#c8a158"/><stop offset="0.0049" stop-color="#cca863"/><stop offset="0.2868" stop-color="#cba761"/><stop offset="0.2892" stop-color="#cba762"/><stop offset="0.299" stop-color="#d7b481"/><stop offset="0.3113" stop-color="#eac8b1"/><stop offset="0.3211" stop-color="#f5d6d0"/><stop offset="0.3309" stop-color="#ecc9b9"/><stop offset="0.3431" stop-color="#deb590"/><stop offset="0.3529" stop-color="#d3a774"/><stop offset="0.3627" stop-color="#9d8374"/><stop offset="0.3676" stop-color="#7e7075"/><stop offset="0.3725" stop-color="#585677"/><stop offset="0.3848" stop-color="#002378"/><stop offset="0.3873" stop-color="#001f7a"/><stop offset="0.4191" stop-color="#002079"/><stop offset="0.451" stop-color="#001479"/><stop offset="0.4828" stop-color="#001b79"/><stop offset="0.5123" stop-color="#001b79"/><stop offset="0.5441" stop-color="#001279"/><stop offset="0.576" stop-color="#001879"/><stop offset="0.6176" stop-color="#001679"/><stop offset="0.6422" stop-color="#001979"/><stop offset="0.6446" stop-color="#00227d"/><stop offset="0.6495" stop-color="#2e3e89"/><stop offset="0.6544" stop-color="#515996"/><stop offset="0.6642" stop-color="#a597b4"/><stop offset="0.674" stop-color="#e9cbcb"/><stop offset="0.6765" stop-color="#f5d5d1"/><stop offset="0.7083" stop-color="#fdf6f6"/><stop offset="0.9951" stop-color="#fdf5f5"/><stop offset="1" stop-color="#ffffff"/></linearGradient>
<linearGradient id="r94" gradientUnits="userSpaceOnUse" x1="49.5" x2="457.5" y1="0" y2="0"><stop offset="0" stop-color="#d8bd8b"/><stop offset="0.0025" stop-color="#c8a158"/><stop offset="0.0049" stop-color="#cca863"/><stop offset="0.2868" stop-color="#cba761"/><stop offset="0.2892" stop-color="#cba762"/><stop offset="0.2917" stop-color="#ceaa6a"/><stop offset="0.3186" stop-color="#f3d3ca"/><stop offset="0.3211" stop-color="#f5d6d1"/><stop offset="0.3235" stop-color="#f4d4cd"/><stop offset="0.3529" stop-color="#d3a774"/><stop offset="0.3578" stop-color="#b99573"/><stop offset="0.3701" stop-color="#6b6276"/><stop offset="0.3775" stop-color="#394177"/><stop offset="0.3848" stop-color="#002178"/><stop offset="0.3873" stop-color="#001e79"/><stop offset="0.4191" stop-color="#002079"/><stop offset="0.4485" stop-color="#001079"/><stop offset="0.4608" stop-color="#001179"/><stop offset="0.4828" stop-color="#001b79"/><stop offset="0.5123" stop-color="#001879"/><stop offset="0.5515" stop-color="#000d79"/><stop offset="0.576" stop-color="#001679"/><stop offset="0.6422" stop-color="#001679"/><stop offset="0.6446" stop-color="#021e7c"/><stop offset="0.6569" stop-color="#6b689e"/><stop offset="0.674" stop-color="#eacbcb"/><stop offset="0.6765" stop-color="#f5d5d0"/><stop offset="0.7083" stop-color="#fdf5f4"/><stop offset="0.9951" stop-color="#fef4f3"/><stop offset="1" stop-color="#ffffff"/></linearGradient>
<linearGradient id="r95" gradientUnits="userSpaceOnUse" x1="49.5" x2="457.5" y1="0" y2="0"><stop offset="0" stop-color="#d9bc8b"/><stop offset="0.0025" stop-color="#c9a058"/><stop offset="0.0049" stop-color="#cca763"/><stop offset="0.2868" stop-color="#cba661"/><stop offset="0.2892" stop-color="#cba662"/><stop offset="0.299" stop-color="#d8b588"/><stop offset="0.3211" stop-color="#f5d6d1"/><stop offset="0.3456" stop-color="#ddb38d"/><stop offset="0.3529" stop-color="#d3a774"/><stop offset="0.3554" stop-color="#c59c73"/><stop offset="0.3603" stop-color="#a28674"/><stop offset="0.3775" stop-color="#3e4477"/><stop offset="0.3824" stop-color="#1a2e78"/><stop offset="0.3848" stop-color="#002179"/><stop offset="0.3873" stop-color="#001b79"/><stop offset="0.4191" stop-color="#001f7a"/><stop offset="0.4485" stop-color="#000a78"/><stop offset="0.4828" stop-color="#001c7a"/><stop offset="0.5466" stop-color="#000978"/><stop offset="0.576" stop-color="#001278"/><stop offset="0.6422" stop-color="#001179"/><stop offset="0.6446" stop-color="#051a7c"/><stop offset="0.6495" stop-color="#383e8c"/><stop offset="0.6691" stop-color="#bea9bb"/><stop offset="0.674" stop-color="#e6c7c9"/><stop offset="0.6765" stop-color="#f5d4d0"/><stop offset="0.7083" stop-color="#fdf2f2"/><stop offset="0.9951" stop-color="#fdf2f1"/><stop offset="1" stop-color="#ffffff"/></linearGradient>
<linearGradient id="r96" gradientUnits="userSpaceOnUse" x1="49.5" x2="457.5" y1="0" y2="0"><stop offset="0" stop-color="#d9bc8c"/><stop offset="0.0025" stop-color="#c9a059"/><stop offset="0.0049" stop-color="#cca764"/><stop offset="0.2868" stop-color="#cba662"/><stop offset="0.2892" stop-color="#cba663"/><stop offset="0.299" stop-color="#dab588"/><stop offset="0.3211" stop-color="#f6d7d2"/><stop offset="0.3235" stop-color="#f4d5ce"/><stop offset="0.3431" stop-color="#e0b795"/><stop offset="0.3529" stop-color="#d3a774"/><stop offset="0.3627" stop-color="#967b74"/><stop offset="0.3775" stop-color="#3e4177"/><stop offset="0.3824" stop-color="#1a2978"/><stop offset="0.3848" stop-color="#031a79"/><stop offset="0.3873" stop-color="#001479"/><stop offset="0.3971" stop-color="#001a79"/><stop offset="0.4191" stop-color="#001f79"/><stop offset="0.451" stop-color="#000577"/><stop offset="0.4828" stop-color="#001e7a"/><stop offset="0.5466" stop-color="#000575"/><stop offset="0.5784" stop-color="#001278"/><stop offset="0.6422" stop-color="#000d79"/><stop offset="0.6446" stop-color="#06177c"/><stop offset="0.6495" stop-color="#34388a"/><stop offset="0.6544" stop-color="#5a5998"/><stop offset="0.6642" stop-color="#9d8caf"/><stop offset="0.6765" stop-color="#f5d4ce"/><stop offset="0.7083" stop-color="#fbedeb"/><stop offset="0.9902" stop-color="#fbeeec"/><stop offset="0.9951" stop-color="#fbebea"/><stop offset="1" stop-color="#ffffff"/></linearGradient>
<linearGradient id="r97" gradientUnits="userSpaceOnUse" x1="49.5" x2="457.5" y1="0" y2="0"><stop offset="0" stop-color="#dabc8e"/><stop offset="0.0025" stop-color="#caa05c"/><stop offset="0.0049" stop-color="#cda767"/><stop offset="0.2868" stop-color="#cca665"/><stop offset="0.2892" stop-color="#cca666"/><stop offset="0.2917" stop-color="#cfa96d"/><stop offset="0.3186" stop-color="#f3d5cc"/><stop offset="0.3211" stop-color="#f5d8d3"/><stop offset="0.3235" stop-color="#f5d6cf"/><stop offset="0.3529" stop-color="#d3a775"/><stop offset="0.3603" stop-color="#aa8875"/><stop offset="0.3676" stop-color="#7c6776"/><stop offset="0.3848" stop-color="#031378"/><stop offset="0.3873" stop-color="#000e78"/><stop offset="0.4167" stop-color="#002079"/><stop offset="0.451" stop-color="#010375"/><stop offset="0.4828" stop-color="#002179"/><stop offset="0.5123" stop-color="#001079"/><stop offset="0.5441" stop-color="#010371"/><stop offset="0.5784" stop-color="#001378"/><stop offset="0.6103" stop-color="#000c79"/><stop offset="0.6422" stop-color="#000c78"/><stop offset="0.6446" stop-color="#05167c"/><stop offset="0.6471" stop-color="#1c2682"/><stop offset="0.6691" stop-color="#c7aebd"/><stop offset="0.674" stop-color="#eac8c9"/><stop offset="0.6765" stop-color="#f6d3ce"/><stop offset="0.7034" stop-color="#fae3e1"/><stop offset="0.723" stop-color="#f9e7e4"/><stop offset="0.9853" stop-color="#f9e7e4"/><stop offset="0.9951" stop-color="#f9e4e1"/><stop offset="1" stop-color="#ffffff"/></linearGradient>
<linearGradient id="r98" gradientUnits="userSpaceOnUse" x1="49.5" x2="457.5" y1="0" y2="0"><stop offset="0" stop-color="#dbbc8e"/><stop offset="0.0025" stop-color="#cba05d"/><stop offset="0.0049" stop-color="#cfa768"/><stop offset="0.2868" stop-color="#cea666"/><stop offset="0.2892" stop-color="#cea667"/><stop offset="0.2917" stop-color="#d1a96e"/><stop offset="0.3186" stop-color="#f3d5cd"/><stop offset="0.3211" stop-color="#f5d8d4"/><stop offset="0.3235" stop-color="#f5d6d0"/><stop offset="0.3529" stop-color="#d4a875"/><stop offset="0.3578" stop-color="#ba9474"/><stop offset="0.3652" stop-color="#8d7476"/><stop offset="0.375" stop-color="#473e77"/><stop offset="0.3848" stop-color="#040e78"/><stop offset="0.3873" stop-color="#000a78"/><stop offset="0.4093" stop-color="#001c79"/><stop offset="0.4191" stop-color="#002079"/><stop offset="0.4412" stop-color="#010675"/><stop offset="0.451" stop-color="#010174"/><stop offset="0.4583" stop-color="#010675"/><stop offset="0.4828" stop-color="#002479"/><stop offset="0.5147" stop-color="#000c77"/><stop offset="0.5466" stop-color="#01016e"/><stop offset="0.5564" stop-color="#010470"/><stop offset="0.5784" stop-color="#001478"/><stop offset="0.6103" stop-color="#000b78"/><stop offset="0.6422" stop-color="#000b78"/><stop offset="0.6446" stop-color="#06147b"/><stop offset="0.6544" stop-color="#545094"/><stop offset="0.6642" stop-color="#a591b1"/><stop offset="0.674" stop-color="#e8c8c8"/><stop offset="0.6765" stop-color="#f4d3cd"/><stop offset="0.7083" stop-color="#f8dfdc"/><stop offset="0.9828" stop-color="#f7dfda"/><stop offset="0.9926" stop-color="#f7e0dd"/><stop offset="0.9951" stop-color="#f6ddd9"/><stop offset="1" stop-color="#ffffff"/></linearGradient>
<linearGradient id="r99" gradientUnits="userSpaceOnUse" x1="49.5" x2="457.5" y1="0" y2="0"><stop offset="0" stop-color="#dbbc8f"/><stop offset="0.0025" stop-color="#cba05f"/><stop offset="0.0049" stop-color="#cfa76a"/><stop offset="0.0294" stop-color="#cea667"/><stop offset="0.2868" stop-color="#cea667"/><stop offset="0.2892" stop-color="#cea668"/><stop offset="0.3015" stop-color="#dfb995"/><stop offset="0.3211" stop-color="#f6d9d4"/><stop offset="0.3235" stop-color="#f6d6d0"/><stop offset="0.3529" stop-color="#d4a875"/><stop offset="0.3627" stop-color="#957875"/><stop offset="0.375" stop-color="#4c3e76"/><stop offset="0.3848" stop-color="#040676"/><stop offset="0.3873" stop-color="#000376"/><stop offset="0.4167" stop-color="#001f79"/><stop offset="0.4412" stop-color="#000373"/><stop offset="0.4559" stop-color="#010172"/><stop offset="0.4828" stop-color="#002479"/><stop offset="0.5147" stop-color="#000976"/><stop offset="0.5343" stop-color="#00016e"/><stop offset="0.5441" stop-color="#000069"/><stop offset="0.5564" stop-color="#00026b"/><stop offset="0.5784" stop-color="#001377"/><stop offset="0.6078" stop-color="#000777"/><stop offset="0.6422" stop-color="#000777"/><stop offset="0.6446" stop-color="#04127a"/><stop offset="0.6495" stop-color="#323488"/><stop offset="0.6544" stop-color="#5a5496"/><stop offset="0.6642" stop-color="#9c8aae"/><stop offset="0.674" stop-color="#e7c7c7"/><stop offset="0.6765" stop-color="#f5d2cd"/><stop offset="0.6863" stop-color="#f5d6d0"/><stop offset="0.6985" stop-color="#f5d5cf"/><stop offset="0.7083" stop-color="#f6d9d4"/><stop offset="0.7402" stop-color="#f9dad5"/><stop offset="0.9926" stop-color="#f7dbd5"/><stop offset="0.9951" stop-color="#f8d7d1"/><stop offset="1" stop-color="#ffffff"/></linearGradient>
<linearGradient id="r100" gradientUnits="userSpaceOnUse" x1="49.5" x2="457.5" y1="0" y2="0"><stop offset="0" stop-color="#dbbc91"/><stop offset="0.0025" stop-color="#cda062"/><stop offset="0.0049" stop-color="#d0a76b"/><stop offset="0.2868" stop-color="#cfa669"/><stop offset="0.2892" stop-color="#cfa66b"/><stop offset="0.299" stop-color="#dcb78e"/><stop offset="0.3162" stop-color="#efd0c2"/><stop offset="0.3211" stop-color="#f6d9d5"/><stop offset="0.3235" stop-color="#f6d7d2"/><stop offset="0.3529" stop-color="#d6aa7c"/><stop offset="0.3554" stop-color="#caa079"/><stop offset="0.3799" stop-color="#372b7b"/><stop offset="0.3848" stop-color="#14117c"/><stop offset="0.3873" stop-color="#0c0c7c"/><stop offset="0.4044" stop-color="#091e7d"/><stop offset="0.4093" stop-color="#04227d"/><stop offset="0.4191" stop-color="#052c7f"/><stop offset="0.4265" stop-color="#04207c"/><stop offset="0.4314" stop-color="#0a1a7a"/><stop offset="0.4436" stop-color="#0b0a77"/><stop offset="0.451" stop-color="#0d0677"/><stop offset="0.4657" stop-color="#0a1979"/><stop offset="0.4779" stop-color="#002c7d"/><stop offset="0.4828" stop-color="#00347f"/><stop offset="0.5123" stop-color="#0b187d"/><stop offset="0.5417" stop-color="#0a056d"/><stop offset="0.5539" stop-color="#090770"/><stop offset="0.5809" stop-color="#08237d"/><stop offset="0.5907" stop-color="#051c7c"/><stop offset="0.6078" stop-color="#0c147c"/><stop offset="0.6127" stop-color="#0d147d"/><stop offset="0.6176" stop-color="#08137c"/><stop offset="0.6422" stop-color="#0b167c"/><stop offset="0.6446" stop-color="#161f80"/><stop offset="0.6544" stop-color="#625b99"/><stop offset="0.674" stop-color="#e7c7c7"/><stop offset="0.6765" stop-color="#f4d1cc"/><stop offset="0.7034" stop-color="#f5d1cb"/><stop offset="0.7157" stop-color="#edcdc8"/><stop offset="0.7328" stop-color="#f0cec9"/><stop offset="0.7426" stop-color="#e6c8c7"/><stop offset="0.8725" stop-color="#e6c8c7"/><stop offset="0.8775" stop-color="#e9cac8"/><stop offset="0.9044" stop-color="#e6c8c7"/><stop offset="0.9118" stop-color="#e9cac8"/><stop offset="0.9363" stop-color="#e6c8c7"/><stop offset="0.9583" stop-color="#e9cac8"/><stop offset="0.9657" stop-color="#e6c8c7"/><stop offset="0.9926" stop-color="#e9cbc9"/><stop offset="0.9951" stop-color="#e5c5c3"/><stop offset="0.9975" stop-color="#f2e5e4"/><stop offset="1" stop-color="#ffffff"/></linearGradient>
<linearGradient id="r101" gradientUnits="userSpaceOnUse" x1="49.5" x2="457.5" y1="0" y2="0"><stop offset="0" stop-color="#ddbc92"/><stop offset="0.0025" stop-color="#cea063"/><stop offset="0.0049" stop-color="#d1a76d"/><stop offset="0.2868" stop-color="#d0a66b"/><stop offset="0.2892" stop-color="#d0a76c"/><stop offset="0.2917" stop-color="#d3aa74"/><stop offset="0.3211" stop-color="#f9dad7"/><stop offset="0.3235" stop-color="#f7dad6"/><stop offset="0.3284" stop-color="#f3d4cc"/><stop offset="0.3456" stop-color="#e2bb9c"/><stop offset="0.3529" stop-color="#ddb38f"/><stop offset="0.3554" stop-color="#d8b08e"/><stop offset="0.3603" stop-color="#c7a28d"/><stop offset="0.3627" stop-color="#ba988d"/><stop offset="0.3725" stop-color="#7f688e"/><stop offset="0.3775" stop-color="#65548e"/><stop offset="0.3824" stop-color="#52468f"/><stop offset="0.3873" stop-color="#483e90"/><stop offset="0.402" stop-color="#41448e"/><stop offset="0.4118" stop-color="#465190"/><stop offset="0.4191" stop-color="#485591"/><stop offset="0.424" stop-color="#485191"/><stop offset="0.4338" stop-color="#41428b"/><stop offset="0.4387" stop-color="#443d8b"/><stop offset="0.451" stop-color="#48388b"/><stop offset="0.4583" stop-color="#473d8b"/><stop offset="0.4632" stop-color="#41418b"/><stop offset="0.4755" stop-color="#465490"/><stop offset="0.4828" stop-color="#485b92"/><stop offset="0.4902" stop-color="#475691"/><stop offset="0.4975" stop-color="#404d8f"/><stop offset="0.5098" stop-color="#494790"/><stop offset="0.5196" stop-color="#49448e"/><stop offset="0.5294" stop-color="#403b88"/><stop offset="0.5343" stop-color="#423786"/><stop offset="0.5515" stop-color="#483985"/><stop offset="0.5613" stop-color="#413d87"/><stop offset="0.5735" stop-color="#474c8e"/><stop offset="0.5809" stop-color="#494f91"/><stop offset="0.5956" stop-color="#41448e"/><stop offset="0.6103" stop-color="#494490"/><stop offset="0.6299" stop-color="#41408e"/><stop offset="0.6422" stop-color="#484690"/><stop offset="0.6471" stop-color="#565195"/><stop offset="0.6495" stop-color="#605998"/><stop offset="0.6544" stop-color="#7970a2"/><stop offset="0.6642" stop-color="#bea7ba"/><stop offset="0.6691" stop-color="#dcbec5"/><stop offset="0.6716" stop-color="#e7c8c8"/><stop offset="0.6765" stop-color="#f4d3ce"/><stop offset="0.6863" stop-color="#f3cfc6"/><stop offset="0.6961" stop-color="#f3cfc7"/><stop offset="0.7059" stop-color="#f0cabe"/><stop offset="0.7083" stop-color="#edc7bb"/><stop offset="0.7157" stop-color="#d7bab9"/><stop offset="0.7181" stop-color="#d3b8ba"/><stop offset="0.7279" stop-color="#d6b9bb"/><stop offset="0.7304" stop-color="#d3b7ba"/><stop offset="0.7402" stop-color="#b4a3b5"/><stop offset="0.7426" stop-color="#b3a3b5"/><stop offset="0.7475" stop-color="#b2a5b5"/><stop offset="0.7549" stop-color="#b9a8b7"/><stop offset="0.7745" stop-color="#b3a3b5"/><stop offset="0.7892" stop-color="#baa7b7"/><stop offset="0.8039" stop-color="#b2a2b5"/><stop offset="0.8088" stop-color="#b2a0b5"/><stop offset="0.8186" stop-color="#b9a5b7"/><stop offset="0.8358" stop-color="#b2a0b5"/><stop offset="0.8529" stop-color="#b9a8b7"/><stop offset="0.8652" stop-color="#b2a5b5"/><stop offset="0.8873" stop-color="#b9a8b7"/><stop offset="0.8995" stop-color="#b3a3b5"/><stop offset="0.9069" stop-color="#b3a3b5"/><stop offset="0.9167" stop-color="#b9a9b7"/><stop offset="0.9289" stop-color="#b3a6b5"/><stop offset="0.9412" stop-color="#b3a7b5"/><stop offset="0.951" stop-color="#b9aab7"/><stop offset="0.9632" stop-color="#b2a6b5"/><stop offset="0.9828" stop-color="#b9acb8"/><stop offset="0.9926" stop-color="#b5aab7"/><stop offset="0.9951" stop-color="#aea2b0"/><stop offset="0.9975" stop-color="#d9d5da"/><stop offset="1" stop-color="#ffffff"/></linearGradient>
<linearGradient id="r102" gradientUnits="userSpaceOnUse" x1="49.5" x2="457.5" y1="0" y2="0"><stop offset="0" stop-color="#debd94"/><stop offset="0.0025" stop-color="#cfa165"/><stop offset="0.0049" stop-color="#d2a870"/><stop offset="0.2868" stop-color="#d1a76d"/><stop offset="0.2892" stop-color="#d1a76f"/><stop offset="0.2917" stop-color="#d4aa76"/><stop offset="0.3015" stop-color="#dfb996"/><stop offset="0.3113" stop-color="#eecbbb"/><stop offset="0.3211" stop-color="#f8dbd8"/><stop offset="0.3309" stop-color="#f3d3cb"/><stop offset="0.3407" stop-color="#ebc8b5"/><stop offset="0.3529" stop-color="#e3bca0"/><stop offset="0.3652" stop-color="#c1a0a0"/><stop offset="0.3725" stop-color="#a2889f"/><stop offset="0.3799" stop-color="#8b78a1"/><stop offset="0.3848" stop-color="#7e6ba1"/><stop offset="0.3873" stop-color="#7a69a1"/><stop offset="0.4044" stop-color="#7871a0"/><stop offset="0.4191" stop-color="#7a79a1"/><stop offset="0.4363" stop-color="#796a9e"/><stop offset="0.451" stop-color="#7a659e"/><stop offset="0.4828" stop-color="#7a7da2"/><stop offset="0.5123" stop-color="#7b70a2"/><stop offset="0.5319" stop-color="#77669b"/><stop offset="0.5466" stop-color="#7a6599"/><stop offset="0.5637" stop-color="#776b9c"/><stop offset="0.5784" stop-color="#7a75a1"/><stop offset="0.598" stop-color="#776ea1"/><stop offset="0.6029" stop-color="#7b6ea1"/><stop offset="0.6201" stop-color="#7a6da1"/><stop offset="0.6299" stop-color="#776ba0"/><stop offset="0.6422" stop-color="#7b6ea1"/><stop offset="0.6446" stop-color="#7f73a3"/><stop offset="0.6569" stop-color="#ab97b4"/><stop offset="0.6667" stop-color="#d7bcc5"/><stop offset="0.6765" stop-color="#f6d6d1"/><stop offset="0.7083" stop-color="#ebc1b0"/><stop offset="0.7402" stop-color="#8382a5"/><stop offset="0.7426" stop-color="#8282a5"/><stop offset="0.7917" stop-color="#8581a6"/><stop offset="0.799" stop-color="#827fa5"/><stop offset="0.8358" stop-color="#837da5"/><stop offset="0.8652" stop-color="#8384a5"/><stop offset="0.8873" stop-color="#8683a6"/><stop offset="0.8946" stop-color="#8281a5"/><stop offset="0.9069" stop-color="#8481a5"/><stop offset="0.9314" stop-color="#8387a5"/><stop offset="0.9681" stop-color="#8384a6"/><stop offset="0.9828" stop-color="#868aa7"/><stop offset="0.9926" stop-color="#858da7"/><stop offset="0.9951" stop-color="#7a839e"/><stop offset="0.9975" stop-color="#c2c6d3"/><stop offset="1" stop-color="#ffffff"/></linearGradient>
<linearGradient id="r103" gradientUnits="userSpaceOnUse" x1="49.5" x2="457.5" y1="0" y2="0"><stop offset="0" stop-color="#debd94"/><stop offset="0.0025" stop-color="#cfa166"/><stop offset="0.0049" stop-color="#d2a871"/><stop offset="0.2868" stop-color="#d1a76f"/><stop offset="0.2892" stop-color="#d1a770"/><stop offset="0.2917" stop-color="#d4aa77"/><stop offset="0.3211" stop-color="#f8dcd9"/><stop offset="0.3333" stop-color="#f2d3c9"/><stop offset="0.3431" stop-color="#f1cec2"/><stop offset="0.3529" stop-color="#ebc4b2"/><stop offset="0.3627" stop-color="#d0b0b2"/><stop offset="0.3652" stop-color="#cdaeb3"/><stop offset="0.3725" stop-color="#ceafb4"/><stop offset="0.3775" stop-color="#c4a7b2"/><stop offset="0.3848" stop-color="#ae95b3"/><stop offset="0.3873" stop-color="#ab93b3"/><stop offset="0.3922" stop-color="#aa95b3"/><stop offset="0.402" stop-color="#b19cb4"/><stop offset="0.4118" stop-color="#aa98b2"/><stop offset="0.4191" stop-color="#aa9cb2"/><stop offset="0.4265" stop-color="#ab97b1"/><stop offset="0.4338" stop-color="#b19bb3"/><stop offset="0.4412" stop-color="#ab96b2"/><stop offset="0.4485" stop-color="#ac90b1"/><stop offset="0.4608" stop-color="#ac98b1"/><stop offset="0.4657" stop-color="#b19cb3"/><stop offset="0.4755" stop-color="#aa99b1"/><stop offset="0.4828" stop-color="#ab9eb2"/><stop offset="0.4877" stop-color="#aa9cb2"/><stop offset="0.4975" stop-color="#b19fb5"/><stop offset="0.5049" stop-color="#ac9bb3"/><stop offset="0.5196" stop-color="#ab93b1"/><stop offset="0.5319" stop-color="#b198b2"/><stop offset="0.5441" stop-color="#aa90ae"/><stop offset="0.5515" stop-color="#aa92af"/><stop offset="0.5637" stop-color="#b199b2"/><stop offset="0.5711" stop-color="#ab95b1"/><stop offset="0.5809" stop-color="#aa99b2"/><stop offset="0.5858" stop-color="#ab97b3"/><stop offset="0.5956" stop-color="#b19cb4"/><stop offset="0.6054" stop-color="#aa96b3"/><stop offset="0.6176" stop-color="#aa95b3"/><stop offset="0.6275" stop-color="#b09ab4"/><stop offset="0.6348" stop-color="#ab95b3"/><stop offset="0.6422" stop-color="#aa95b3"/><stop offset="0.6544" stop-color="#cfb5c1"/><stop offset="0.6569" stop-color="#d3b8c3"/><stop offset="0.6618" stop-color="#d3b9c5"/><stop offset="0.6667" stop-color="#d8bec8"/><stop offset="0.6765" stop-color="#f7d7d3"/><stop offset="0.6838" stop-color="#f5d2cb"/><stop offset="0.6985" stop-color="#ebc1b0"/><stop offset="0.7083" stop-color="#e6baa5"/><stop offset="0.7157" stop-color="#cfaca2"/><stop offset="0.7279" stop-color="#817d98"/><stop offset="0.7328" stop-color="#696e97"/><stop offset="0.7377" stop-color="#586495"/><stop offset="0.7402" stop-color="#526094"/><stop offset="0.7549" stop-color="#495c92"/><stop offset="0.7696" stop-color="#506294"/><stop offset="0.777" stop-color="#506194"/><stop offset="0.7892" stop-color="#495992"/><stop offset="0.7966" stop-color="#505b94"/><stop offset="0.8113" stop-color="#505b94"/><stop offset="0.8211" stop-color="#4a5492"/><stop offset="0.8309" stop-color="#515994"/><stop offset="0.8382" stop-color="#515994"/><stop offset="0.8456" stop-color="#505b94"/><stop offset="0.8529" stop-color="#495a92"/><stop offset="0.8627" stop-color="#516395"/><stop offset="0.8725" stop-color="#506495"/><stop offset="0.8873" stop-color="#4b5c92"/><stop offset="0.8946" stop-color="#515f94"/><stop offset="0.9044" stop-color="#525e94"/><stop offset="0.9167" stop-color="#4a5d92"/><stop offset="0.9289" stop-color="#506795"/><stop offset="0.9436" stop-color="#4f6493"/><stop offset="0.951" stop-color="#496093"/><stop offset="0.9608" stop-color="#516395"/><stop offset="0.973" stop-color="#506495"/><stop offset="0.9828" stop-color="#496594"/><stop offset="0.9926" stop-color="#547298"/><stop offset="0.9951" stop-color="#43648e"/><stop offset="0.9975" stop-color="#aab8cb"/><stop offset="1" stop-color="#ffffff"/></linearGradient>
<linearGradient id="r104" gradientUnits="userSpaceOnUse" x1="49.5" x2="457.5" y1="0" y2="0"><stop offset="0" stop-color="#dfbd97"/><stop offset="0.0025" stop-color="#d0a168"/><stop offset="0.0049" stop-color="#d4a873"/><stop offset="0.2868" stop-color="#d3a771"/><stop offset="0.2892" stop-color="#d2a872"/><stop offset="0.2966" stop-color="#ddb48d"/><stop offset="0.3211" stop-color="#f8dcda"/><stop offset="0.3456" stop-color="#f4d4cd"/><stop offset="0.3529" stop-color="#f1cec4"/><stop offset="0.3554" stop-color="#ecc9c3"/><stop offset="0.3603" stop-color="#e7c7c4"/><stop offset="0.3799" stop-color="#e9c7c4"/><stop offset="0.3873" stop-color="#ddbec4"/><stop offset="0.3946" stop-color="#e0c2c4"/><stop offset="0.4093" stop-color="#e1c2c4"/><stop offset="0.4191" stop-color="#ddc0c4"/><stop offset="0.4289" stop-color="#e1c2c4"/><stop offset="0.4412" stop-color="#e1c2c4"/><stop offset="0.451" stop-color="#debdc4"/><stop offset="0.4583" stop-color="#e0c2c4"/><stop offset="0.473" stop-color="#e1c2c4"/><stop offset="0.4828" stop-color="#dcc1c3"/><stop offset="0.4951" stop-color="#e1c3c5"/><stop offset="0.5147" stop-color="#ddbec4"/><stop offset="0.5392" stop-color="#e1c0c5"/><stop offset="0.5466" stop-color="#dcbdc3"/><stop offset="0.5539" stop-color="#e1c0c4"/><stop offset="0.5686" stop-color="#e2c1c4"/><stop offset="0.576" stop-color="#ddbfc3"/><stop offset="0.5907" stop-color="#e1c2c5"/><stop offset="0.6127" stop-color="#ddbec4"/><stop offset="0.6324" stop-color="#e2c1c6"/><stop offset="0.6422" stop-color="#ddbec4"/><stop offset="0.6471" stop-color="#e7c7c7"/><stop offset="0.652" stop-color="#eccccb"/><stop offset="0.6691" stop-color="#ebcfd0"/><stop offset="0.6765" stop-color="#f6d9d5"/><stop offset="0.6789" stop-color="#f6d6d0"/><stop offset="0.7083" stop-color="#e1b398"/><stop offset="0.7255" stop-color="#77728c"/><stop offset="0.7402" stop-color="#133b82"/><stop offset="0.7475" stop-color="#0a3881"/><stop offset="0.7647" stop-color="#0a3881"/><stop offset="0.7721" stop-color="#123c82"/><stop offset="0.7819" stop-color="#0a3681"/><stop offset="0.7941" stop-color="#0a3281"/><stop offset="0.8039" stop-color="#143382"/><stop offset="0.8137" stop-color="#0e2e81"/><stop offset="0.8309" stop-color="#122d81"/><stop offset="0.8358" stop-color="#173082"/><stop offset="0.8456" stop-color="#0d3281"/><stop offset="0.8603" stop-color="#063881"/><stop offset="0.8627" stop-color="#063b82"/><stop offset="0.8676" stop-color="#0d3f83"/><stop offset="0.8799" stop-color="#083981"/><stop offset="0.8873" stop-color="#0c3781"/><stop offset="0.8922" stop-color="#0a3681"/><stop offset="0.8995" stop-color="#133682"/><stop offset="0.9142" stop-color="#083981"/><stop offset="0.9289" stop-color="#054182"/><stop offset="0.9338" stop-color="#0b4483"/><stop offset="0.9387" stop-color="#054182"/><stop offset="0.9583" stop-color="#053d81"/><stop offset="0.9632" stop-color="#103d83"/><stop offset="0.9657" stop-color="#123e83"/><stop offset="0.973" stop-color="#053f82"/><stop offset="0.9804" stop-color="#004382"/><stop offset="0.9902" stop-color="#004982"/><stop offset="0.9926" stop-color="#074e85"/><stop offset="0.9951" stop-color="#00407a"/><stop offset="0.9975" stop-color="#90a9c2"/><stop offset="1" stop-color="#ffffff"/></linearGradient>
<linearGradient id="r105" gradientUnits="userSpaceOnUse" x1="49.5" x2="457.5" y1="0" y2="0"><stop offset="0" stop-color="#dfbd98"/><stop offset="0.0025" stop-color="#d0a16a"/><stop offset="0.0049" stop-color="#d4a874"/><stop offset="0.2868" stop-color="#d3a772"/><stop offset="0.2892" stop-color="#d2a873"/><stop offset="0.3015" stop-color="#e2bd9e"/><stop offset="0.3137" stop-color="#efd0c2"/><stop offset="0.3211" stop-color="#f9dedc"/><stop offset="0.3235" stop-color="#fadfde"/><stop offset="0.3456" stop-color="#f7d8d3"/><stop offset="0.3603" stop-color="#f7d8d2"/><stop offset="0.6373" stop-color="#f8d8d2"/><stop offset="0.674" stop-color="#f9dedb"/><stop offset="0.6765" stop-color="#f8dcd9"/><stop offset="0.6838" stop-color="#f1d1c6"/><stop offset="0.6961" stop-color="#eac3b0"/><stop offset="0.7059" stop-color="#e4b599"/><stop offset="0.7083" stop-color="#ddaf92"/><stop offset="0.7181" stop-color="#98828b"/><stop offset="0.7304" stop-color="#4c5382"/><stop offset="0.7353" stop-color="#253d7e"/><stop offset="0.7377" stop-color="#0a307b"/><stop offset="0.7402" stop-color="#002379"/><stop offset="0.7721" stop-color="#002879"/><stop offset="0.8113" stop-color="#001e79"/><stop offset="0.8358" stop-color="#001b79"/><stop offset="0.8701" stop-color="#002d7a"/><stop offset="0.8971" stop-color="#002479"/><stop offset="0.9314" stop-color="#00317a"/><stop offset="0.9657" stop-color="#002a7a"/><stop offset="0.9902" stop-color="#00397a"/><stop offset="0.9926" stop-color="#003e7c"/><stop offset="0.9951" stop-color="#002c70"/><stop offset="0.9975" stop-color="#83a1bf"/><stop offset="1" stop-color="#ffffff"/></linearGradient>
<linearGradient id="r106" gradientUnits="userSpaceOnUse" x1="49.5" x2="457.5" y1="0" y2="0"><stop offset="0" stop-color="#dfbd98"/><stop offset="0.0025" stop-color="#d0a16c"/><stop offset="0.0049" stop-color="#d4a875"/><stop offset="0.2868" stop-color="#d3a773"/><stop offset="0.2892" stop-color="#d2a874"/><stop offset="0.3162" stop-color="#f3d7ce"/><stop offset="0.3211" stop-color="#f8dfdd"/><stop offset="0.3235" stop-color="#f9e0df"/><stop offset="0.3407" stop-color="#f7deda"/><stop offset="0.3652" stop-color="#f7ded9"/><stop offset="0.6324" stop-color="#f7ded9"/><stop offset="0.6691" stop-color="#f9e2e0"/><stop offset="0.6765" stop-color="#fae1de"/><stop offset="0.7059" stop-color="#e4b599"/><stop offset="0.7083" stop-color="#deb093"/><stop offset="0.7181" stop-color="#a0848c"/><stop offset="0.7304" stop-color="#474d82"/><stop offset="0.7377" stop-color="#0d297b"/><stop offset="0.7402" stop-color="#002079"/><stop offset="0.7843" stop-color="#00287a"/><stop offset="0.8382" stop-color="#001f7a"/><stop offset="0.8676" stop-color="#00307a"/><stop offset="0.9044" stop-color="#00297a"/><stop offset="0.9363" stop-color="#00327b"/><stop offset="0.9657" stop-color="#002a7b"/><stop offset="0.9853" stop-color="#00377b"/><stop offset="0.9926" stop-color="#00407d"/><stop offset="0.9951" stop-color="#002e70"/><stop offset="0.9975" stop-color="#84a1bf"/><stop offset="1" stop-color="#ffffff"/></linearGradient>
<linearGradient id="r107" gradientUnits="userSpaceOnUse" x1="49.5" x2="457.5" y1="0" y2="0"><stop offset="0" stop-color="#dfbe98"/><stop offset="0.0025" stop-color="#d1a26c"/><stop offset="0.0049" stop-color="#d5a975"/><stop offset="0.2868" stop-color="#d4a873"/><stop offset="0.2892" stop-color="#d3a974"/><stop offset="0.2917" stop-color="#d6ac7c"/><stop offset="0.3113" stop-color="#eecfc0"/><stop offset="0.3211" stop-color="#f9e0de"/><stop offset="0.3235" stop-color="#f9e1df"/><stop offset="0.3431" stop-color="#f9e5e2"/><stop offset="0.6765" stop-color="#fae5e3"/><stop offset="0.7059" stop-color="#e4b598"/><stop offset="0.7083" stop-color="#ddb093"/><stop offset="0.7181" stop-color="#a1858d"/><stop offset="0.7279" stop-color="#565183"/><stop offset="0.7377" stop-color="#0c247b"/><stop offset="0.7402" stop-color="#001a79"/><stop offset="0.7525" stop-color="#001c79"/><stop offset="0.7721" stop-color="#00277a"/><stop offset="0.8382" stop-color="#00207a"/><stop offset="0.8676" stop-color="#00317a"/><stop offset="0.9044" stop-color="#002b7b"/><stop offset="0.9363" stop-color="#00317b"/><stop offset="0.9657" stop-color="#00287a"/><stop offset="0.9902" stop-color="#003b7b"/><stop offset="0.9926" stop-color="#00407d"/><stop offset="0.9951" stop-color="#002e70"/><stop offset="0.9975" stop-color="#84a1bf"/><stop offset="1" stop-color="#ffffff"/></linearGradient>
<linearGradient id="r108" gradientUnits="userSpaceOnUse" x1="49.5" x2="457.5" y1="0" y2="0"><stop offset="0" stop-color="#dfbe98"/><stop offset="0.0025" stop-color="#d1a26c"/><stop offset="0.0049" stop-color="#d5a975"/><stop offset="0.2868" stop-color="#d4a873"/><stop offset="0.2892" stop-color="#d3a974"/><stop offset="0.3211" stop-color="#f9e0de"/><stop offset="0.348" stop-color="#fbebea"/><stop offset="0.6324" stop-color="#fbedeb"/><stop offset="0.6765" stop-color="#fbe9e8"/><stop offset="0.7059" stop-color="#e4b598"/><stop offset="0.7083" stop-color="#ddb093"/><stop offset="0.7206" stop-color="#8a7489"/><stop offset="0.7279" stop-color="#5c5284"/><stop offset="0.7377" stop-color="#0f1f7a"/><stop offset="0.7402" stop-color="#001478"/><stop offset="0.7475" stop-color="#001679"/><stop offset="0.7721" stop-color="#00267a"/><stop offset="0.8039" stop-color="#00287a"/><stop offset="0.8382" stop-color="#00217a"/><stop offset="0.8676" stop-color="#00327b"/><stop offset="0.8971" stop-color="#002e7b"/><stop offset="0.9363" stop-color="#00317b"/><stop offset="0.9657" stop-color="#00277a"/><stop offset="0.9902" stop-color="#00397b"/><stop offset="0.9926" stop-color="#00407d"/><stop offset="0.9951" stop-color="#003071"/><stop offset="0.9975" stop-color="#84a1bf"/><stop offset="1" stop-color="#ffffff"/></linearGradient>
<linearGradient id="r109" gradientUnits="userSpaceOnUse" x1="49.5" x2="457.5" y1="0" y2="0"><stop offset="0" stop-color="#e0bf9b"/><stop offset="0.0025" stop-color="#d2a36f"/><stop offset="0.0049" stop-color="#d6aa78"/><stop offset="0.2868" stop-color="#d5a976"/><stop offset="0.2892" stop-color="#d5a977"/><stop offset="0.2966" stop-color="#ddb692"/><stop offset="0.3211" stop-color="#f9e0de"/><stop offset="0.3284" stop-color="#fae5e5"/><stop offset="0.3554" stop-color="#fcf1f1"/><stop offset="0.6397" stop-color="#fdf2f1"/><stop offset="0.674" stop-color="#fdefef"/><stop offset="0.701" stop-color="#e9c1aa"/><stop offset="0.7059" stop-color="#e5b79b"/><stop offset="0.7083" stop-color="#ddaf93"/><stop offset="0.7157" stop-color="#a8888c"/><stop offset="0.7328" stop-color="#3e3b7f"/><stop offset="0.7402" stop-color="#001178"/><stop offset="0.7426" stop-color="#001078"/><stop offset="0.7721" stop-color="#00247a"/><stop offset="0.8088" stop-color="#00297a"/><stop offset="0.8382" stop-color="#00227a"/><stop offset="0.8701" stop-color="#00337b"/><stop offset="0.9314" stop-color="#00317b"/><stop offset="0.9657" stop-color="#00247a"/><stop offset="0.9902" stop-color="#00387b"/><stop offset="0.9926" stop-color="#003e7d"/><stop offset="0.9951" stop-color="#002d70"/><stop offset="0.9975" stop-color="#84a1bf"/><stop offset="1" stop-color="#ffffff"/></linearGradient>
<linearGradient id="r110" gradientUnits="userSpaceOnUse" x1="49.5" x2="457.5" y1="0" y2="0"><stop offset="0" stop-color="#e4c2a3"/><stop offset="0.0025" stop-color="#d7a97b"/><stop offset="0.0049" stop-color="#dbae83"/><stop offset="0.0098" stop-color="#daac80"/><stop offset="0.2794" stop-color="#daac80"/><stop offset="0.2892" stop-color="#daad82"/><stop offset="0.2917" stop-color="#dcb087"/><stop offset="0.3162" stop-color="#f5d9d3"/><stop offset="0.3211" stop-color="#f9e1df"/><stop offset="0.3529" stop-color="#fcf4f4"/><stop offset="0.6422" stop-color="#fdf5f4"/><stop offset="0.674" stop-color="#fdf2f2"/><stop offset="0.6765" stop-color="#fbf0ef"/><stop offset="0.6961" stop-color="#edcbb9"/><stop offset="0.7059" stop-color="#e4b69a"/><stop offset="0.7083" stop-color="#deb093"/><stop offset="0.7206" stop-color="#8a778a"/><stop offset="0.7279" stop-color="#5d5484"/><stop offset="0.7328" stop-color="#393c7f"/><stop offset="0.7377" stop-color="#0e227a"/><stop offset="0.7402" stop-color="#001879"/><stop offset="0.7475" stop-color="#001879"/><stop offset="0.7721" stop-color="#00267a"/><stop offset="0.8064" stop-color="#002b7a"/><stop offset="0.8382" stop-color="#00237a"/><stop offset="0.8701" stop-color="#00337b"/><stop offset="0.9314" stop-color="#00317b"/><stop offset="0.9657" stop-color="#00217a"/><stop offset="0.9877" stop-color="#00347b"/><stop offset="0.9926" stop-color="#003d7d"/><stop offset="0.9951" stop-color="#002c70"/><stop offset="0.9975" stop-color="#83a0bf"/><stop offset="1" stop-color="#ffffff"/></linearGradient>
<linearGradient id="r111" gradientUnits="userSpaceOnUse" x1="49.5" x2="457.5" y1="0" y2="0"><stop offset="0" stop-color="#e7c4a9"/><stop offset="0.0025" stop-color="#dcad85"/><stop offset="0.0049" stop-color="#e0b28d"/><stop offset="0.2868" stop-color="#dfb18b"/><stop offset="0.2892" stop-color="#deb08d"/><stop offset="0.3015" stop-color="#e7c1a9"/><stop offset="0.3113" stop-color="#f1d3c8"/><stop offset="0.3211" stop-color="#f9e1df"/><stop offset="0.3554" stop-color="#fdf6f6"/><stop offset="0.674" stop-color="#fdf5f5"/><stop offset="0.6765" stop-color="#fbf3f2"/><stop offset="0.6863" stop-color="#f5e0d7"/><stop offset="0.6961" stop-color="#eccab6"/><stop offset="0.7059" stop-color="#e4b69a"/><stop offset="0.7083" stop-color="#deb093"/><stop offset="0.7206" stop-color="#907d8a"/><stop offset="0.7279" stop-color="#555584"/><stop offset="0.7353" stop-color="#21357d"/><stop offset="0.7377" stop-color="#0b2a7b"/><stop offset="0.7402" stop-color="#002079"/><stop offset="0.8015" stop-color="#002c7a"/><stop offset="0.8382" stop-color="#00247a"/><stop offset="0.8676" stop-color="#00317b"/><stop offset="0.9314" stop-color="#00317b"/><stop offset="0.9657" stop-color="#001e7a"/><stop offset="0.9779" stop-color="#00287a"/><stop offset="0.9926" stop-color="#003c7d"/><stop offset="0.9951" stop-color="#002b70"/><stop offset="0.9975" stop-color="#83a0bf"/><stop offset="1" stop-color="#ffffff"/></linearGradient>
<linearGradient id="r112" gradientUnits="userSpaceOnUse" x1="49.5" x2="457.5" y1="0" y2="0"><stop offset="0" stop-color="#eac7b0"/><stop offset="0.0025" stop-color="#e2b18f"/><stop offset="0.0049" stop-color="#e3b596"/><stop offset="0.2868" stop-color="#e3b495"/><stop offset="0.2892" stop-color="#e3b496"/><stop offset="0.2917" stop-color="#e5b69c"/><stop offset="0.3211" stop-color="#f9e1df"/><stop offset="0.3529" stop-color="#fdf7f7"/><stop offset="0.674" stop-color="#fef7f7"/><stop offset="0.6765" stop-color="#fcf5f4"/><stop offset="0.6814" stop-color="#f9ece7"/><stop offset="0.7059" stop-color="#e4b69a"/><stop offset="0.7083" stop-color="#deb093"/><stop offset="0.7132" stop-color="#c09b90"/><stop offset="0.7304" stop-color="#475282"/><stop offset="0.7353" stop-color="#1e3c7e"/><stop offset="0.7377" stop-color="#05317c"/><stop offset="0.7402" stop-color="#00277a"/><stop offset="0.7647" stop-color="#00267a"/><stop offset="0.8088" stop-color="#002d7a"/><stop offset="0.8382" stop-color="#00267a"/><stop offset="0.8676" stop-color="#00307b"/><stop offset="0.9314" stop-color="#00317b"/><stop offset="0.9657" stop-color="#001a79"/><stop offset="0.9853" stop-color="#002e7b"/><stop offset="0.9926" stop-color="#003b7d"/><stop offset="0.9951" stop-color="#002970"/><stop offset="0.9975" stop-color="#849fbf"/><stop offset="1" stop-color="#ffffff"/></linearGradient>
<linearGradient id="r113" gradientUnits="userSpaceOnUse" x1="49.5" x2="457.5" y1="0" y2="0"><stop offset="0" stop-color="#eecab9"/><stop offset="0.0025" stop-color="#e6b39a"/><stop offset="0.0049" stop-color="#e7b9a1"/><stop offset="0.2868" stop-color="#e7b79f"/><stop offset="0.2892" stop-color="#e7b7a0"/><stop offset="0.2966" stop-color="#ebc3b2"/><stop offset="0.3162" stop-color="#f5d9d3"/><stop offset="0.3211" stop-color="#f9e1df"/><stop offset="0.3554" stop-color="#fefafa"/><stop offset="0.674" stop-color="#fefafa"/><stop offset="0.6765" stop-color="#fdf7f6"/><stop offset="0.7034" stop-color="#e7bda4"/><stop offset="0.7083" stop-color="#ddb093"/><stop offset="0.7157" stop-color="#a88e8d"/><stop offset="0.7304" stop-color="#4d5b82"/><stop offset="0.7353" stop-color="#25457f"/><stop offset="0.7377" stop-color="#08397d"/><stop offset="0.7402" stop-color="#002d7b"/><stop offset="0.7721" stop-color="#00297a"/><stop offset="0.8064" stop-color="#00307b"/><stop offset="0.8382" stop-color="#00277a"/><stop offset="0.8701" stop-color="#002e7b"/><stop offset="0.9314" stop-color="#00317b"/><stop offset="0.9657" stop-color="#001779"/><stop offset="0.9877" stop-color="#002e7b"/><stop offset="0.9926" stop-color="#00377d"/><stop offset="0.9951" stop-color="#002770"/><stop offset="0.9975" stop-color="#849fbf"/><stop offset="1" stop-color="#ffffff"/></linearGradient>
<linearGradient id="r114" gradientUnits="userSpaceOnUse" x1="49.5" x2="457.5" y1="0" y2="0"><stop offset="0" stop-color="#f2d0c4"/><stop offset="0.0025" stop-color="#ebbdaa"/><stop offset="0.0049" stop-color="#ecc1af"/><stop offset="0.2843" stop-color="#ecc0ae"/><stop offset="0.2892" stop-color="#ecc0af"/><stop offset="0.2941" stop-color="#eec4b5"/><stop offset="0.3235" stop-color="#f9e4e3"/><stop offset="0.3554" stop-color="#fdfafa"/><stop offset="0.674" stop-color="#fefafa"/><stop offset="0.6765" stop-color="#fdf7f6"/><stop offset="0.7059" stop-color="#e5b79b"/><stop offset="0.7083" stop-color="#ddb093"/><stop offset="0.7157" stop-color="#aa918d"/><stop offset="0.7304" stop-color="#4c5c82"/><stop offset="0.7353" stop-color="#26497f"/><stop offset="0.7377" stop-color="#033e7d"/><stop offset="0.7402" stop-color="#00327b"/><stop offset="0.7696" stop-color="#002a7a"/><stop offset="0.8064" stop-color="#00307b"/><stop offset="0.8309" stop-color="#00297a"/><stop offset="0.8676" stop-color="#002e7b"/><stop offset="0.9338" stop-color="#00307b"/><stop offset="0.9657" stop-color="#001979"/><stop offset="0.9877" stop-color="#002e7b"/><stop offset="0.9926" stop-color="#00377d"/><stop offset="0.9951" stop-color="#002670"/><stop offset="0.9975" stop-color="#849ebf"/><stop offset="1" stop-color="#ffffff"/></linearGradient>
<linearGradient id="r115" gradientUnits="userSpaceOnUse" x1="49.5" x2="457.5" y1="0" y2="0"><stop offset="0" stop-color="#f4d8ce"/><stop offset="0.0025" stop-color="#efc7b9"/><stop offset="0.0049" stop-color="#efcbbe"/><stop offset="0.0147" stop-color="#f0c9ba"/><stop offset="0.027" stop-color="#f0cabd"/><stop offset="0.0809" stop-color="#f0c9ba"/><stop offset="0.0931" stop-color="#f0cabd"/><stop offset="0.1127" stop-color="#f0c9ba"/><stop offset="0.125" stop-color="#f0cabd"/><stop offset="0.1446" stop-color="#f0c9ba"/><stop offset="0.1569" stop-color="#f0cabd"/><stop offset="0.1765" stop-color="#f0c9ba"/><stop offset="0.1887" stop-color="#f0cabd"/><stop offset="0.2083" stop-color="#f0c9ba"/><stop offset="0.2206" stop-color="#f0cabd"/><stop offset="0.277" stop-color="#f0c9bb"/><stop offset="0.2917" stop-color="#f0cabe"/><stop offset="0.3039" stop-color="#f4d3cb"/><stop offset="0.3137" stop-color="#f7dedb"/><stop offset="0.3529" stop-color="#fdf7f7"/><stop offset="0.674" stop-color="#fef8f8"/><stop offset="0.6765" stop-color="#fcf6f6"/><stop offset="0.701" stop-color="#e8c0a8"/><stop offset="0.7083" stop-color="#deb093"/><stop offset="0.7157" stop-color="#b1958e"/><stop offset="0.7279" stop-color="#5a6384"/><stop offset="0.7353" stop-color="#1d447f"/><stop offset="0.7377" stop-color="#003c7c"/><stop offset="0.7402" stop-color="#00327b"/><stop offset="0.7672" stop-color="#002b7a"/><stop offset="0.9363" stop-color="#00307a"/><stop offset="0.9632" stop-color="#001f7a"/><stop offset="0.9755" stop-color="#00247a"/><stop offset="0.9926" stop-color="#00377d"/><stop offset="0.9951" stop-color="#002470"/><stop offset="0.9975" stop-color="#839dbf"/><stop offset="1" stop-color="#ffffff"/></linearGradient>
<linearGradient id="r116" gradientUnits="userSpaceOnUse" x1="49.5" x2="457.5" y1="0" y2="0"><stop offset="0" stop-color="#f6ded7"/><stop offset="0.0025" stop-color="#f3d0c6"/><stop offset="0.0049" stop-color="#f2d3ca"/><stop offset="0.2892" stop-color="#f3d2c9"/><stop offset="0.3235" stop-color="#fae5e4"/><stop offset="0.3578" stop-color="#fdf6f6"/><stop offset="0.674" stop-color="#fef7f7"/><stop offset="0.6765" stop-color="#fcf4f4"/><stop offset="0.6863" stop-color="#f5e2d9"/><stop offset="0.7059" stop-color="#e4b69a"/><stop offset="0.7083" stop-color="#deb093"/><stop offset="0.7206" stop-color="#90828b"/><stop offset="0.7304" stop-color="#435782"/><stop offset="0.7353" stop-color="#1d467f"/><stop offset="0.7377" stop-color="#003d7c"/><stop offset="0.7402" stop-color="#00337b"/><stop offset="0.7696" stop-color="#002b7b"/><stop offset="0.8775" stop-color="#002e7b"/><stop offset="0.9093" stop-color="#002b7a"/><stop offset="0.9338" stop-color="#00307a"/><stop offset="0.9632" stop-color="#00237a"/><stop offset="0.9877" stop-color="#002e7b"/><stop offset="0.9926" stop-color="#00357d"/><stop offset="0.9951" stop-color="#002270"/><stop offset="0.9975" stop-color="#829cbf"/><stop offset="1" stop-color="#ffffff"/></linearGradient>
<linearGradient id="r117" gradientUnits="userSpaceOnUse" x1="49.5" x2="457.5" y1="0" y2="0"><stop offset="0" stop-color="#f8e4e0"/><stop offset="0.0025" stop-color="#f5d9d3"/><stop offset="0.0147" stop-color="#f7dcd7"/><stop offset="0.2892" stop-color="#f6dbd5"/><stop offset="0.299" stop-color="#f8dfdd"/><stop offset="0.3162" stop-color="#f9e0de"/><stop offset="0.3554" stop-color="#fef4f4"/><stop offset="0.674" stop-color="#fef6f6"/><stop offset="0.6789" stop-color="#fbefec"/><stop offset="0.7059" stop-color="#e4b69a"/><stop offset="0.7083" stop-color="#deb093"/><stop offset="0.7206" stop-color="#8c7f8a"/><stop offset="0.7279" stop-color="#5c6684"/><stop offset="0.7353" stop-color="#20467f"/><stop offset="0.7377" stop-color="#003d7c"/><stop offset="0.7402" stop-color="#00337b"/><stop offset="0.7426" stop-color="#00327b"/><stop offset="0.7892" stop-color="#002a7a"/><stop offset="0.8676" stop-color="#00307b"/><stop offset="0.902" stop-color="#00297a"/><stop offset="0.9338" stop-color="#00307b"/><stop offset="0.9657" stop-color="#00297a"/><stop offset="0.9877" stop-color="#002d7b"/><stop offset="0.9926" stop-color="#00337d"/><stop offset="0.9951" stop-color="#002070"/><stop offset="0.9975" stop-color="#839bbf"/><stop offset="1" stop-color="#ffffff"/></linearGradient>
<linearGradient id="r118" gradientUnits="userSpaceOnUse" x1="49.5" x2="457.5" y1="0" y2="0"><stop offset="0" stop-color="#fcebea"/><stop offset="0.0025" stop-color="#f9e2e1"/><stop offset="0.2892" stop-color="#f9e4e2"/><stop offset="0.3186" stop-color="#fbe4e3"/><stop offset="0.3578" stop-color="#fcf1f1"/><stop offset="0.6446" stop-color="#fcf1f0"/><stop offset="0.674" stop-color="#fdf3f3"/><stop offset="0.6765" stop-color="#fcf1f0"/><stop offset="0.7059" stop-color="#e5b79b"/><stop offset="0.7083" stop-color="#ddaf93"/><stop offset="0.7132" stop-color="#b7998f"/><stop offset="0.7328" stop-color="#3c5581"/><stop offset="0.7353" stop-color="#284c80"/><stop offset="0.7377" stop-color="#07407d"/><stop offset="0.7402" stop-color="#00347b"/><stop offset="0.7941" stop-color="#00287a"/><stop offset="0.8088" stop-color="#00287a"/><stop offset="0.8407" stop-color="#00317b"/><stop offset="0.8676" stop-color="#00317b"/><stop offset="0.9069" stop-color="#00297a"/><stop offset="0.9314" stop-color="#00307b"/><stop offset="0.9657" stop-color="#002d7b"/><stop offset="0.9902" stop-color="#00307b"/><stop offset="0.9926" stop-color="#00337d"/><stop offset="0.9951" stop-color="#001f70"/><stop offset="0.9975" stop-color="#839abf"/><stop offset="1" stop-color="#ffffff"/></linearGradient>
<linearGradient id="r119" gradientUnits="userSpaceOnUse" x1="49.5" x2="457.5" y1="0" y2="0"><stop offset="0" stop-color="#fcefef"/><stop offset="0.0025" stop-color="#fbeae9"/><stop offset="0.2917" stop-color="#fbebea"/><stop offset="0.3211" stop-color="#fbe9e9"/><stop offset="0.3284" stop-color="#f9e7e5"/><stop offset="0.3431" stop-color="#faeceb"/><stop offset="0.6446" stop-color="#fbebe9"/><stop offset="0.674" stop-color="#fcefef"/><stop offset="0.6765" stop-color="#fbeeed"/><stop offset="0.6814" stop-color="#f8e5e0"/><stop offset="0.7059" stop-color="#e4b699"/><stop offset="0.7083" stop-color="#deb093"/><stop offset="0.7304" stop-color="#4b5c83"/><stop offset="0.7328" stop-color="#375181"/><stop offset="0.7353" stop-color="#1f477f"/><stop offset="0.7377" stop-color="#003d7c"/><stop offset="0.7402" stop-color="#00337b"/><stop offset="0.7426" stop-color="#00317b"/><stop offset="0.8039" stop-color="#00227a"/><stop offset="0.848" stop-color="#00317b"/><stop offset="0.8725" stop-color="#00327b"/><stop offset="0.8971" stop-color="#002b7a"/><stop offset="0.9142" stop-color="#002b7a"/><stop offset="0.9338" stop-color="#00307b"/><stop offset="0.9902" stop-color="#00307b"/><stop offset="0.9926" stop-color="#00347d"/><stop offset="0.9951" stop-color="#002070"/><stop offset="0.9975" stop-color="#849bbf"/><stop offset="1" stop-color="#ffffff"/></linearGradient>
<linearGradient id="r120" gradientUnits="userSpaceOnUse" x1="49.5" x2="457.5" y1="0" y2="0"><stop offset="0" stop-color="#fdf2f2"/><stop offset="0.0025" stop-color="#fceeee"/><stop offset="0.2868" stop-color="#fcefef"/><stop offset="0.3211" stop-color="#fbedec"/><stop offset="0.3529" stop-color="#f9e4e1"/><stop offset="0.6446" stop-color="#f9e4e1"/><stop offset="0.6691" stop-color="#fbe9e9"/><stop offset="0.6765" stop-color="#fbe9e8"/><stop offset="0.7059" stop-color="#e4b699"/><stop offset="0.7083" stop-color="#ddb093"/><stop offset="0.7181" stop-color="#a18b8c"/><stop offset="0.723" stop-color="#7e7788"/><stop offset="0.7353" stop-color="#1c457f"/><stop offset="0.7377" stop-color="#003c7c"/><stop offset="0.7402" stop-color="#00327b"/><stop offset="0.7426" stop-color="#00307b"/><stop offset="0.8015" stop-color="#001e7a"/><stop offset="0.8676" stop-color="#00347b"/><stop offset="0.902" stop-color="#002d7a"/><stop offset="0.9485" stop-color="#002d7b"/><stop offset="0.9902" stop-color="#00317b"/><stop offset="0.9926" stop-color="#00357d"/><stop offset="0.9951" stop-color="#002070"/><stop offset="0.9975" stop-color="#849bbf"/><stop offset="1" stop-color="#ffffff"/></linearGradient>
<linearGradient id="r121" gradientUnits="userSpaceOnUse" x1="49.5" x2="457.5" y1="0" y2="0"><stop offset="0" stop-color="#fdf6f6"/><stop offset="0.0025" stop-color="#fdf2f2"/><stop offset="0.2868" stop-color="#fdf3f3"/><stop offset="0.3211" stop-color="#fcefef"/><stop offset="0.3333" stop-color="#faeae9"/><stop offset="0.3431" stop-color="#f8e1dd"/><stop offset="0.3652" stop-color="#f6ddd8"/><stop offset="0.6324" stop-color="#f6ddd8"/><stop offset="0.6544" stop-color="#f8dfdc"/><stop offset="0.6691" stop-color="#f9e5e4"/><stop offset="0.6765" stop-color="#fae5e3"/><stop offset="0.7059" stop-color="#e4b699"/><stop offset="0.7083" stop-color="#deb093"/><stop offset="0.7157" stop-color="#b0948e"/><stop offset="0.7279" stop-color="#576284"/><stop offset="0.7353" stop-color="#1c437f"/><stop offset="0.7377" stop-color="#00397c"/><stop offset="0.7402" stop-color="#00317b"/><stop offset="0.7426" stop-color="#002e7b"/><stop offset="0.8015" stop-color="#001979"/><stop offset="0.8358" stop-color="#00267a"/><stop offset="0.8676" stop-color="#00367b"/><stop offset="0.9118" stop-color="#00317b"/><stop offset="0.9216" stop-color="#002c7a"/><stop offset="0.9779" stop-color="#00307b"/><stop offset="0.9926" stop-color="#00357d"/><stop offset="0.9951" stop-color="#002170"/><stop offset="0.9975" stop-color="#849bbf"/><stop offset="1" stop-color="#ffffff"/></linearGradient>
<linearGradient id="r122" gradientUnits="userSpaceOnUse" x1="49.5" x2="457.5" y1="0" y2="0"><stop offset="0" stop-color="#fefafa"/><stop offset="0.2966" stop-color="#fdf7f7"/><stop offset="0.3211" stop-color="#fdf3f3"/><stop offset="0.3529" stop-color="#f6d7d1"/><stop offset="0.6446" stop-color="#f7d8d1"/><stop offset="0.674" stop-color="#f9e1e0"/><stop offset="0.6765" stop-color="#f9e0de"/><stop offset="0.6838" stop-color="#f3d3ca"/><stop offset="0.6985" stop-color="#e9c1ad"/><stop offset="0.7059" stop-color="#e4b699"/><stop offset="0.7083" stop-color="#ddb093"/><stop offset="0.7132" stop-color="#ba998f"/><stop offset="0.7279" stop-color="#5d6484"/><stop offset="0.7328" stop-color="#3a5081"/><stop offset="0.7353" stop-color="#25457f"/><stop offset="0.7377" stop-color="#023b7d"/><stop offset="0.7402" stop-color="#00307b"/><stop offset="0.8039" stop-color="#001479"/><stop offset="0.8358" stop-color="#00227a"/><stop offset="0.8676" stop-color="#00387c"/><stop offset="0.902" stop-color="#00347b"/><stop offset="0.9289" stop-color="#002b7a"/><stop offset="0.9902" stop-color="#00327b"/><stop offset="0.9926" stop-color="#00367d"/><stop offset="0.9951" stop-color="#002270"/><stop offset="0.9975" stop-color="#849bbf"/><stop offset="1" stop-color="#ffffff"/></linearGradient>
<linearGradient id="r123" gradientUnits="userSpaceOnUse" x1="49.5" x2="457.5" y1="0" y2="0"><stop offset="0" stop-color="#fffcfc"/><stop offset="0.2868" stop-color="#fefbfb"/><stop offset="0.3186" stop-color="#fdf6f6"/><stop offset="0.3284" stop-color="#f9ebe8"/><stop offset="0.3456" stop-color="#f6dad5"/><stop offset="0.3529" stop-color="#f3cec7"/><stop offset="0.3554" stop-color="#edc9c3"/><stop offset="0.3603" stop-color="#e6c3c1"/><stop offset="0.3775" stop-color="#e8c5c2"/><stop offset="0.3824" stop-color="#e2c0bf"/><stop offset="0.3873" stop-color="#d6b7bc"/><stop offset="0.3971" stop-color="#dbbdc1"/><stop offset="0.4167" stop-color="#d7bcc1"/><stop offset="0.4289" stop-color="#dbbec3"/><stop offset="0.4436" stop-color="#dbbec3"/><stop offset="0.4534" stop-color="#d6bbc2"/><stop offset="0.4583" stop-color="#dbbdc3"/><stop offset="0.4755" stop-color="#dbbdc3"/><stop offset="0.4828" stop-color="#d7bcc2"/><stop offset="0.5074" stop-color="#dbbec3"/><stop offset="0.5172" stop-color="#d7b9c2"/><stop offset="0.5245" stop-color="#dbbcc3"/><stop offset="0.5466" stop-color="#d7b9c2"/><stop offset="0.5564" stop-color="#dbbcc3"/><stop offset="0.5809" stop-color="#d7bac2"/><stop offset="0.5882" stop-color="#dbbdc3"/><stop offset="0.6029" stop-color="#dbbec3"/><stop offset="0.6127" stop-color="#d7bac2"/><stop offset="0.6201" stop-color="#dbbdc3"/><stop offset="0.6373" stop-color="#dbbdc3"/><stop offset="0.6422" stop-color="#d8bbc2"/><stop offset="0.6495" stop-color="#e7c8c9"/><stop offset="0.6691" stop-color="#ead0d3"/><stop offset="0.6765" stop-color="#f8dcda"/><stop offset="0.7059" stop-color="#e4b59a"/><stop offset="0.7083" stop-color="#deb094"/><stop offset="0.7157" stop-color="#a9908e"/><stop offset="0.7279" stop-color="#5d6385"/><stop offset="0.7353" stop-color="#264680"/><stop offset="0.7377" stop-color="#0a3b7d"/><stop offset="0.7402" stop-color="#002e7b"/><stop offset="0.8039" stop-color="#001279"/><stop offset="0.8358" stop-color="#00207a"/><stop offset="0.8701" stop-color="#003b7c"/><stop offset="0.8995" stop-color="#00377b"/><stop offset="0.9314" stop-color="#002c7a"/><stop offset="0.9853" stop-color="#00337b"/><stop offset="0.9926" stop-color="#00377d"/><stop offset="0.9951" stop-color="#002370"/><stop offset="0.9975" stop-color="#839dbf"/><stop offset="1" stop-color="#ffffff"/></linearGradient>
<linearGradient id="r124" gradientUnits="userSpaceOnUse" x1="49.5" x2="457.5" y1="0" y2="0"><stop offset="0" stop-color="#fffcfc"/><stop offset="0.2868" stop-color="#fefbfb"/><stop offset="0.3186" stop-color="#fdf6f6"/><stop offset="0.3211" stop-color="#fcf5f5"/><stop offset="0.3431" stop-color="#f4d9d1"/><stop offset="0.3529" stop-color="#efc8bc"/><stop offset="0.3627" stop-color="#d0afb0"/><stop offset="0.3676" stop-color="#cbacaf"/><stop offset="0.3725" stop-color="#ccabaf"/><stop offset="0.3775" stop-color="#bfa1a9"/><stop offset="0.3848" stop-color="#a58c9f"/><stop offset="0.3873" stop-color="#a2899e"/><stop offset="0.3946" stop-color="#a38fa4"/><stop offset="0.402" stop-color="#a896a9"/><stop offset="0.4118" stop-color="#a294aa"/><stop offset="0.4167" stop-color="#a498ae"/><stop offset="0.424" stop-color="#a296af"/><stop offset="0.4338" stop-color="#aa99b2"/><stop offset="0.4461" stop-color="#a391b0"/><stop offset="0.4559" stop-color="#a291b0"/><stop offset="0.4681" stop-color="#a998b2"/><stop offset="0.4755" stop-color="#a395b1"/><stop offset="0.4902" stop-color="#a295af"/><stop offset="0.5" stop-color="#aa9ab2"/><stop offset="0.5098" stop-color="#a393b0"/><stop offset="0.5221" stop-color="#a290b0"/><stop offset="0.5319" stop-color="#aa95b2"/><stop offset="0.5441" stop-color="#a38db0"/><stop offset="0.5539" stop-color="#a38eb0"/><stop offset="0.5637" stop-color="#aa95b2"/><stop offset="0.5735" stop-color="#a290b0"/><stop offset="0.5858" stop-color="#a292b0"/><stop offset="0.5956" stop-color="#aa98b1"/><stop offset="0.6054" stop-color="#a392b0"/><stop offset="0.6201" stop-color="#a392b0"/><stop offset="0.6275" stop-color="#a997b1"/><stop offset="0.6422" stop-color="#a392b0"/><stop offset="0.6446" stop-color="#a896b2"/><stop offset="0.6544" stop-color="#cbb3c1"/><stop offset="0.6569" stop-color="#d0b8c4"/><stop offset="0.6642" stop-color="#d2bcc9"/><stop offset="0.6691" stop-color="#dec7cf"/><stop offset="0.674" stop-color="#f2d7d8"/><stop offset="0.6765" stop-color="#f7dbd9"/><stop offset="0.6789" stop-color="#f7d8d4"/><stop offset="0.7059" stop-color="#e5b59a"/><stop offset="0.7083" stop-color="#dfb196"/><stop offset="0.7157" stop-color="#b19490"/><stop offset="0.7279" stop-color="#5c6286"/><stop offset="0.7353" stop-color="#20417f"/><stop offset="0.7377" stop-color="#03367d"/><stop offset="0.7402" stop-color="#002d7a"/><stop offset="0.8039" stop-color="#001379"/><stop offset="0.8358" stop-color="#001f79"/><stop offset="0.8701" stop-color="#003c7c"/><stop offset="0.8995" stop-color="#003b7b"/><stop offset="0.9314" stop-color="#00317b"/><stop offset="0.9902" stop-color="#00367b"/><stop offset="0.9926" stop-color="#00397d"/><stop offset="0.9951" stop-color="#002670"/><stop offset="0.9975" stop-color="#859dbf"/><stop offset="1" stop-color="#ffffff"/></linearGradient>
<linearGradient id="r125" gradientUnits="userSpaceOnUse" x1="49.5" x2="457.5" y1="0" y2="0"><stop offset="0" stop-color="#fffcfc"/><stop offset="0.2868" stop-color="#fefbfb"/><stop offset="0.3211" stop-color="#fdf6f6"/><stop offset="0.3529" stop-color="#edc2b3"/><stop offset="0.3652" stop-color="#c6a2a2"/><stop offset="0.375" stop-color="#957c90"/><stop offset="0.3848" stop-color="#746284"/><stop offset="0.3873" stop-color="#705f83"/><stop offset="0.3995" stop-color="#70678e"/><stop offset="0.4093" stop-color="#747399"/><stop offset="0.4191" stop-color="#7278a0"/><stop offset="0.4485" stop-color="#736a9f"/><stop offset="0.4755" stop-color="#7474a0"/><stop offset="0.4902" stop-color="#7575a0"/><stop offset="0.4975" stop-color="#72719f"/><stop offset="0.5466" stop-color="#74649f"/><stop offset="0.5858" stop-color="#756d9f"/><stop offset="0.6422" stop-color="#736e9f"/><stop offset="0.6446" stop-color="#7772a1"/><stop offset="0.6544" stop-color="#9c8fb1"/><stop offset="0.6667" stop-color="#d8c2cb"/><stop offset="0.674" stop-color="#f1d6d6"/><stop offset="0.6765" stop-color="#f6dad7"/><stop offset="0.6789" stop-color="#f6d7d2"/><stop offset="0.7059" stop-color="#e6b79c"/><stop offset="0.7083" stop-color="#e0b298"/><stop offset="0.7181" stop-color="#a48c90"/><stop offset="0.723" stop-color="#7f778b"/><stop offset="0.7279" stop-color="#565e85"/><stop offset="0.7353" stop-color="#1e417f"/><stop offset="0.7377" stop-color="#03367c"/><stop offset="0.7402" stop-color="#002c7a"/><stop offset="0.8015" stop-color="#001479"/><stop offset="0.8358" stop-color="#001e79"/><stop offset="0.8676" stop-color="#003c7b"/><stop offset="0.8971" stop-color="#003d7c"/><stop offset="0.9314" stop-color="#00347b"/><stop offset="0.9681" stop-color="#00397c"/><stop offset="0.9902" stop-color="#00377c"/><stop offset="0.9926" stop-color="#003b7e"/><stop offset="0.9951" stop-color="#002771"/><stop offset="0.9975" stop-color="#849ebf"/><stop offset="1" stop-color="#ffffff"/></linearGradient>
<linearGradient id="r126" gradientUnits="userSpaceOnUse" x1="49.5" x2="457.5" y1="0" y2="0"><stop offset="0" stop-color="#fffcfc"/><stop offset="0.2868" stop-color="#fefbfb"/><stop offset="0.3211" stop-color="#fef6f6"/><stop offset="0.3284" stop-color="#f9ece8"/><stop offset="0.3505" stop-color="#ebc1ae"/><stop offset="0.3554" stop-color="#e2b6a5"/><stop offset="0.3603" stop-color="#cfa79d"/><stop offset="0.3775" stop-color="#5e4c73"/><stop offset="0.3824" stop-color="#48396a"/><stop offset="0.3848" stop-color="#3f3367"/><stop offset="0.3873" stop-color="#3b3167"/><stop offset="0.3995" stop-color="#373b74"/><stop offset="0.4167" stop-color="#3e548e"/><stop offset="0.4216" stop-color="#3e548f"/><stop offset="0.4338" stop-color="#38468c"/><stop offset="0.4485" stop-color="#40418d"/><stop offset="0.4559" stop-color="#3f428d"/><stop offset="0.4657" stop-color="#38448c"/><stop offset="0.4755" stop-color="#3d4e8e"/><stop offset="0.4853" stop-color="#40518f"/><stop offset="0.5" stop-color="#38468c"/><stop offset="0.5172" stop-color="#41458e"/><stop offset="0.5294" stop-color="#393c8b"/><stop offset="0.5343" stop-color="#3a388b"/><stop offset="0.549" stop-color="#3f398e"/><stop offset="0.5637" stop-color="#39398b"/><stop offset="0.576" stop-color="#40438e"/><stop offset="0.5833" stop-color="#40448e"/><stop offset="0.5956" stop-color="#38418b"/><stop offset="0.6054" stop-color="#3f458d"/><stop offset="0.6127" stop-color="#40468e"/><stop offset="0.6275" stop-color="#38418c"/><stop offset="0.6422" stop-color="#3f468e"/><stop offset="0.6446" stop-color="#434b8f"/><stop offset="0.652" stop-color="#66669e"/><stop offset="0.6691" stop-color="#dcc3cb"/><stop offset="0.674" stop-color="#f1d5d4"/><stop offset="0.6765" stop-color="#f5d8d5"/><stop offset="0.7059" stop-color="#e7b79e"/><stop offset="0.7083" stop-color="#e1b39a"/><stop offset="0.7132" stop-color="#c29e96"/><stop offset="0.7206" stop-color="#8c7f8e"/><stop offset="0.7255" stop-color="#6e6b89"/><stop offset="0.7304" stop-color="#4a5684"/><stop offset="0.7353" stop-color="#1f407f"/><stop offset="0.7377" stop-color="#05357c"/><stop offset="0.7402" stop-color="#002b7a"/><stop offset="0.8039" stop-color="#001479"/><stop offset="0.8358" stop-color="#001c7a"/><stop offset="0.8701" stop-color="#003e7c"/><stop offset="0.8995" stop-color="#003f7c"/><stop offset="0.9289" stop-color="#00387b"/><stop offset="0.9632" stop-color="#003d7c"/><stop offset="0.9902" stop-color="#00397c"/><stop offset="0.9926" stop-color="#003d7e"/><stop offset="0.9951" stop-color="#002871"/><stop offset="0.9975" stop-color="#849ebf"/><stop offset="1" stop-color="#ffffff"/></linearGradient>
<linearGradient id="r127" gradientUnits="userSpaceOnUse" x1="49.5" x2="457.5" y1="0" y2="0"><stop offset="0" stop-color="#fefbfb"/><stop offset="0.2892" stop-color="#fdfafa"/><stop offset="0.3186" stop-color="#fef7f7"/><stop offset="0.3235" stop-color="#fcf2f0"/><stop offset="0.3529" stop-color="#e6b79f"/><stop offset="0.3554" stop-color="#d9ad99"/><stop offset="0.3603" stop-color="#b48e8a"/><stop offset="0.375" stop-color="#564266"/><stop offset="0.3799" stop-color="#34275a"/><stop offset="0.3848" stop-color="#0c064c"/><stop offset="0.3873" stop-color="#04034c"/><stop offset="0.3946" stop-color="#030b58"/><stop offset="0.4191" stop-color="#00317d"/><stop offset="0.4387" stop-color="#001f7b"/><stop offset="0.4485" stop-color="#05187b"/><stop offset="0.451" stop-color="#07187c"/><stop offset="0.4559" stop-color="#03197b"/><stop offset="0.4828" stop-color="#002c7d"/><stop offset="0.5074" stop-color="#001f7c"/><stop offset="0.5147" stop-color="#041e7c"/><stop offset="0.5417" stop-color="#060c7b"/><stop offset="0.5466" stop-color="#090c7c"/><stop offset="0.5564" stop-color="#070d7b"/><stop offset="0.5784" stop-color="#051a7c"/><stop offset="0.6029" stop-color="#011b7c"/><stop offset="0.6103" stop-color="#041e7c"/><stop offset="0.6397" stop-color="#021e7c"/><stop offset="0.6422" stop-color="#041e7c"/><stop offset="0.6446" stop-color="#10267f"/><stop offset="0.652" stop-color="#505496"/><stop offset="0.6691" stop-color="#c4b0c1"/><stop offset="0.674" stop-color="#e8cdcf"/><stop offset="0.6765" stop-color="#f6d7d3"/><stop offset="0.7059" stop-color="#e8b9a1"/><stop offset="0.7083" stop-color="#e1b39c"/><stop offset="0.7157" stop-color="#aa9193"/><stop offset="0.7328" stop-color="#3d5084"/><stop offset="0.7353" stop-color="#294581"/><stop offset="0.7377" stop-color="#0d387e"/><stop offset="0.7402" stop-color="#002b7a"/><stop offset="0.8039" stop-color="#001478"/><stop offset="0.8358" stop-color="#001b79"/><stop offset="0.8701" stop-color="#003f7c"/><stop offset="0.902" stop-color="#00407c"/><stop offset="0.9363" stop-color="#003c7c"/><stop offset="0.9681" stop-color="#00407c"/><stop offset="0.9902" stop-color="#003c7c"/><stop offset="0.9926" stop-color="#003f7e"/><stop offset="0.9951" stop-color="#002a71"/><stop offset="0.9975" stop-color="#849fbf"/><stop offset="1" stop-color="#ffffff"/></linearGradient>
<linearGradient id="r128" gradientUnits="userSpaceOnUse" x1="49.5" x2="457.5" y1="0" y2="0"><stop offset="0" stop-color="#fdf6f5"/><stop offset="0.0025" stop-color="#fef1f0"/><stop offset="0.2843" stop-color="#fdf3f1"/><stop offset="0.3211" stop-color="#fbf4f4"/><stop offset="0.3309" stop-color="#f8e4de"/><stop offset="0.3529" stop-color="#e8baa6"/><stop offset="0.3554" stop-color="#dbaf9f"/><stop offset="0.3652" stop-color="#927485"/><stop offset="0.375" stop-color="#52416c"/><stop offset="0.3848" stop-color="#030251"/><stop offset="0.3873" stop-color="#000050"/><stop offset="0.3946" stop-color="#000458"/><stop offset="0.4118" stop-color="#001f73"/><stop offset="0.4191" stop-color="#002779"/><stop offset="0.4485" stop-color="#000e77"/><stop offset="0.4828" stop-color="#002179"/><stop offset="0.5441" stop-color="#000478"/><stop offset="0.5882" stop-color="#001379"/><stop offset="0.6103" stop-color="#001778"/><stop offset="0.6422" stop-color="#001478"/><stop offset="0.6446" stop-color="#001e7c"/><stop offset="0.6471" stop-color="#1b2d83"/><stop offset="0.652" stop-color="#474d91"/><stop offset="0.6569" stop-color="#6d6ba0"/><stop offset="0.6642" stop-color="#9e92b3"/><stop offset="0.674" stop-color="#e9cdce"/><stop offset="0.6765" stop-color="#f6d7d2"/><stop offset="0.7059" stop-color="#ebbdaa"/><stop offset="0.7083" stop-color="#e4b8a7"/><stop offset="0.7181" stop-color="#a08b97"/><stop offset="0.7279" stop-color="#61658e"/><stop offset="0.7328" stop-color="#3c4f88"/><stop offset="0.7353" stop-color="#254383"/><stop offset="0.7377" stop-color="#06367e"/><stop offset="0.7402" stop-color="#002a7a"/><stop offset="0.7721" stop-color="#002279"/><stop offset="0.8039" stop-color="#000e70"/><stop offset="0.8137" stop-color="#001675"/><stop offset="0.8309" stop-color="#001a76"/><stop offset="0.8382" stop-color="#00217a"/><stop offset="0.8627" stop-color="#00387b"/><stop offset="0.8775" stop-color="#003f7c"/><stop offset="0.9093" stop-color="#00417c"/><stop offset="0.9314" stop-color="#003e7c"/><stop offset="0.9657" stop-color="#00427c"/><stop offset="0.9853" stop-color="#003d7c"/><stop offset="0.9926" stop-color="#003f7e"/><stop offset="0.9951" stop-color="#002a71"/><stop offset="0.9975" stop-color="#849fbf"/><stop offset="1" stop-color="#ffffff"/></linearGradient>
<linearGradient id="r129" gradientUnits="userSpaceOnUse" x1="49.5" x2="457.5" y1="0" y2="0"><stop offset="0" stop-color="#fdf0ef"/><stop offset="0.0025" stop-color="#fbebe9"/><stop offset="0.2868" stop-color="#faecea"/><stop offset="0.3211" stop-color="#fbf1f0"/><stop offset="0.3333" stop-color="#f6e1da"/><stop offset="0.3456" stop-color="#f0cabc"/><stop offset="0.3529" stop-color="#eabfae"/><stop offset="0.3554" stop-color="#deb3a7"/><stop offset="0.3627" stop-color="#ae8d98"/><stop offset="0.3676" stop-color="#8a708a"/><stop offset="0.3775" stop-color="#3b316f"/><stop offset="0.3848" stop-color="#05055c"/><stop offset="0.3873" stop-color="#00025b"/><stop offset="0.3922" stop-color="#000560"/><stop offset="0.4069" stop-color="#001971"/><stop offset="0.4191" stop-color="#00277a"/><stop offset="0.4485" stop-color="#001378"/><stop offset="0.4828" stop-color="#002279"/><stop offset="0.5441" stop-color="#010778"/><stop offset="0.6103" stop-color="#001b79"/><stop offset="0.6422" stop-color="#001779"/><stop offset="0.6446" stop-color="#02207c"/><stop offset="0.6471" stop-color="#1c2e83"/><stop offset="0.6569" stop-color="#67679d"/><stop offset="0.6618" stop-color="#9288ae"/><stop offset="0.674" stop-color="#eacece"/><stop offset="0.6765" stop-color="#f6d7d2"/><stop offset="0.6838" stop-color="#f5d2cc"/><stop offset="0.6961" stop-color="#efc8bb"/><stop offset="0.7059" stop-color="#eec2b3"/><stop offset="0.7083" stop-color="#e8bdb0"/><stop offset="0.7206" stop-color="#98889b"/><stop offset="0.7353" stop-color="#214083"/><stop offset="0.7377" stop-color="#05357e"/><stop offset="0.7402" stop-color="#00297a"/><stop offset="0.7721" stop-color="#00227a"/><stop offset="0.8039" stop-color="#000766"/><stop offset="0.8382" stop-color="#00247a"/><stop offset="0.8676" stop-color="#003c7b"/><stop offset="0.8848" stop-color="#003f7c"/><stop offset="0.9387" stop-color="#003f7c"/><stop offset="0.9681" stop-color="#00437c"/><stop offset="0.9902" stop-color="#003c7c"/><stop offset="0.9926" stop-color="#003e7e"/><stop offset="0.9951" stop-color="#002a71"/><stop offset="0.9975" stop-color="#849ebf"/><stop offset="1" stop-color="#ffffff"/></linearGradient>
<linearGradient id="r130" gradientUnits="userSpaceOnUse" x1="49.5" x2="457.5" y1="0" y2="0"><stop offset="0" stop-color="#faeceb"/><stop offset="0.0025" stop-color="#f8e4e1"/><stop offset="0.277" stop-color="#f9e5e2"/><stop offset="0.2966" stop-color="#f9e6e5"/><stop offset="0.3211" stop-color="#fbefee"/><stop offset="0.3529" stop-color="#eec4b6"/><stop offset="0.3578" stop-color="#d1acaa"/><stop offset="0.3652" stop-color="#9d8198"/><stop offset="0.3848" stop-color="#040667"/><stop offset="0.3873" stop-color="#000366"/><stop offset="0.4191" stop-color="#00267a"/><stop offset="0.4485" stop-color="#001679"/><stop offset="0.4804" stop-color="#002179"/><stop offset="0.4853" stop-color="#002079"/><stop offset="0.5441" stop-color="#000978"/><stop offset="0.5784" stop-color="#000d78"/><stop offset="0.6103" stop-color="#001e79"/><stop offset="0.6422" stop-color="#001779"/><stop offset="0.6446" stop-color="#02207c"/><stop offset="0.652" stop-color="#434c90"/><stop offset="0.6667" stop-color="#b6a5ba"/><stop offset="0.674" stop-color="#e9cdcd"/><stop offset="0.6765" stop-color="#f5d6d1"/><stop offset="0.7059" stop-color="#f0c8bc"/><stop offset="0.7083" stop-color="#eac3b9"/><stop offset="0.7108" stop-color="#dbb9b4"/><stop offset="0.723" stop-color="#857f9d"/><stop offset="0.7279" stop-color="#5d6490"/><stop offset="0.7353" stop-color="#1f4083"/><stop offset="0.7377" stop-color="#01357e"/><stop offset="0.7402" stop-color="#00297a"/><stop offset="0.7721" stop-color="#00217a"/><stop offset="0.7843" stop-color="#001770"/><stop offset="0.7941" stop-color="#000964"/><stop offset="0.8039" stop-color="#01035e"/><stop offset="0.8162" stop-color="#000c66"/><stop offset="0.826" stop-color="#001c73"/><stop offset="0.8382" stop-color="#00287b"/><stop offset="0.8701" stop-color="#003b7c"/><stop offset="0.8971" stop-color="#00417c"/><stop offset="0.9681" stop-color="#00447c"/><stop offset="0.9877" stop-color="#003c7c"/><stop offset="0.9926" stop-color="#003e7e"/><stop offset="0.9951" stop-color="#002a71"/><stop offset="0.9975" stop-color="#849ebf"/><stop offset="1" stop-color="#ffffff"/></linearGradient>
<linearGradient id="r131" gradientUnits="userSpaceOnUse" x1="49.5" x2="457.5" y1="0" y2="0"><stop offset="0" stop-color="#fae6e4"/><stop offset="0.0025" stop-color="#f7dcd8"/><stop offset="0.0319" stop-color="#f7dedb"/><stop offset="0.2868" stop-color="#f7deda"/><stop offset="0.3211" stop-color="#faeceb"/><stop offset="0.3284" stop-color="#f7e3de"/><stop offset="0.3431" stop-color="#f5d6cf"/><stop offset="0.3505" stop-color="#f2cdc3"/><stop offset="0.3529" stop-color="#f0c9be"/><stop offset="0.3554" stop-color="#e1bcb7"/><stop offset="0.3627" stop-color="#ab8fa6"/><stop offset="0.375" stop-color="#584d8d"/><stop offset="0.3848" stop-color="#070a73"/><stop offset="0.3873" stop-color="#000572"/><stop offset="0.4191" stop-color="#00247a"/><stop offset="0.451" stop-color="#001879"/><stop offset="0.4828" stop-color="#00207a"/><stop offset="0.5196" stop-color="#001079"/><stop offset="0.5441" stop-color="#000c78"/><stop offset="0.5784" stop-color="#000d78"/><stop offset="0.6103" stop-color="#00217a"/><stop offset="0.6422" stop-color="#001879"/><stop offset="0.6446" stop-color="#02227c"/><stop offset="0.6471" stop-color="#1f3384"/><stop offset="0.652" stop-color="#495293"/><stop offset="0.6667" stop-color="#af9fb7"/><stop offset="0.674" stop-color="#e7cbcd"/><stop offset="0.6765" stop-color="#f5d6d1"/><stop offset="0.7034" stop-color="#f3cec6"/><stop offset="0.7059" stop-color="#f2cec4"/><stop offset="0.7083" stop-color="#ecc8c1"/><stop offset="0.7157" stop-color="#b5a3b2"/><stop offset="0.7304" stop-color="#505e90"/><stop offset="0.7353" stop-color="#274385"/><stop offset="0.7377" stop-color="#0a367f"/><stop offset="0.7402" stop-color="#00297a"/><stop offset="0.7721" stop-color="#00227a"/><stop offset="0.7917" stop-color="#000962"/><stop offset="0.8039" stop-color="#000054"/><stop offset="0.8137" stop-color="#00065f"/><stop offset="0.8382" stop-color="#002b7b"/><stop offset="0.8995" stop-color="#00427c"/><stop offset="0.9681" stop-color="#00457d"/><stop offset="0.9902" stop-color="#003c7c"/><stop offset="0.9926" stop-color="#003e7e"/><stop offset="0.9951" stop-color="#002971"/><stop offset="0.9975" stop-color="#849ebf"/><stop offset="1" stop-color="#ffffff"/></linearGradient>
<linearGradient id="r132" gradientUnits="userSpaceOnUse" x1="49.5" x2="457.5" y1="0" y2="0"><stop offset="0" stop-color="#f8e3e0"/><stop offset="0.0025" stop-color="#f6d7d3"/><stop offset="0.0049" stop-color="#f6d9d6"/><stop offset="0.2892" stop-color="#f6d9d5"/><stop offset="0.3211" stop-color="#f9e7e5"/><stop offset="0.3529" stop-color="#f2cbc3"/><stop offset="0.3554" stop-color="#e2bfbd"/><stop offset="0.3603" stop-color="#bc9fb1"/><stop offset="0.3775" stop-color="#4a428e"/><stop offset="0.3824" stop-color="#222382"/><stop offset="0.3848" stop-color="#080e7b"/><stop offset="0.3873" stop-color="#000678"/><stop offset="0.3897" stop-color="#000978"/><stop offset="0.4191" stop-color="#00227a"/><stop offset="0.4485" stop-color="#001879"/><stop offset="0.4828" stop-color="#001c79"/><stop offset="0.5172" stop-color="#000d74"/><stop offset="0.5368" stop-color="#000b75"/><stop offset="0.576" stop-color="#000c77"/><stop offset="0.6103" stop-color="#00227a"/><stop offset="0.6422" stop-color="#001879"/><stop offset="0.6446" stop-color="#03217b"/><stop offset="0.6471" stop-color="#1f3282"/><stop offset="0.652" stop-color="#485090"/><stop offset="0.6716" stop-color="#cfb6c1"/><stop offset="0.6765" stop-color="#f5d2cc"/><stop offset="0.7059" stop-color="#f4d0c8"/><stop offset="0.7083" stop-color="#eecbc6"/><stop offset="0.7132" stop-color="#c7afba"/><stop offset="0.7279" stop-color="#636999"/><stop offset="0.7328" stop-color="#40538e"/><stop offset="0.7353" stop-color="#2d4588"/><stop offset="0.7377" stop-color="#123581"/><stop offset="0.7402" stop-color="#00247a"/><stop offset="0.7721" stop-color="#001f7a"/><stop offset="0.7941" stop-color="#00045f"/><stop offset="0.8039" stop-color="#000053"/><stop offset="0.8162" stop-color="#000761"/><stop offset="0.8382" stop-color="#00287b"/><stop offset="0.902" stop-color="#00427c"/><stop offset="0.9657" stop-color="#00457d"/><stop offset="0.9902" stop-color="#003b7c"/><stop offset="0.9926" stop-color="#003d7e"/><stop offset="0.9951" stop-color="#002871"/><stop offset="0.9975" stop-color="#839dbf"/><stop offset="1" stop-color="#ffffff"/></linearGradient>
<linearGradient id="r133" gradientUnits="userSpaceOnUse" x1="49.5" x2="457.5" y1="0" y2="0"><stop offset="0" stop-color="#f9e4e1"/><stop offset="0.0025" stop-color="#f7d8d4"/><stop offset="0.0049" stop-color="#f7dad7"/><stop offset="0.299" stop-color="#f7dad6"/><stop offset="0.3088" stop-color="#f8e0dd"/><stop offset="0.3211" stop-color="#f8e1de"/><stop offset="0.3529" stop-color="#f2ccc4"/><stop offset="0.3603" stop-color="#c4a7b4"/><stop offset="0.3725" stop-color="#6a5d98"/><stop offset="0.3848" stop-color="#050d7a"/><stop offset="0.3873" stop-color="#000678"/><stop offset="0.4167" stop-color="#001f79"/><stop offset="0.4485" stop-color="#001379"/><stop offset="0.4828" stop-color="#001979"/><stop offset="0.5147" stop-color="#00076b"/><stop offset="0.5343" stop-color="#01066d"/><stop offset="0.576" stop-color="#000c76"/><stop offset="0.6103" stop-color="#002279"/><stop offset="0.6422" stop-color="#001779"/><stop offset="0.6446" stop-color="#021e7b"/><stop offset="0.6544" stop-color="#53568f"/><stop offset="0.6593" stop-color="#7b739d"/><stop offset="0.6716" stop-color="#d4b5ba"/><stop offset="0.674" stop-color="#e5c2be"/><stop offset="0.6765" stop-color="#f0ccc2"/><stop offset="0.6863" stop-color="#f2cfc6"/><stop offset="0.6985" stop-color="#f2cdc4"/><stop offset="0.7059" stop-color="#f4cfc8"/><stop offset="0.7083" stop-color="#efccc7"/><stop offset="0.7132" stop-color="#cfb3bc"/><stop offset="0.7279" stop-color="#636499"/><stop offset="0.7377" stop-color="#0e287f"/><stop offset="0.7402" stop-color="#001a79"/><stop offset="0.7721" stop-color="#001a79"/><stop offset="0.7794" stop-color="#001475"/><stop offset="0.7941" stop-color="#000364"/><stop offset="0.8064" stop-color="#00005e"/><stop offset="0.8162" stop-color="#000465"/><stop offset="0.826" stop-color="#001372"/><stop offset="0.8382" stop-color="#00207a"/><stop offset="0.8873" stop-color="#003b7b"/><stop offset="0.9608" stop-color="#00447c"/><stop offset="0.9902" stop-color="#00377b"/><stop offset="0.9926" stop-color="#00397d"/><stop offset="0.9951" stop-color="#002370"/><stop offset="0.9975" stop-color="#849cbf"/><stop offset="1" stop-color="#ffffff"/></linearGradient>
<linearGradient id="r134" gradientUnits="userSpaceOnUse" x1="49.5" x2="457.5" y1="0" y2="0"><stop offset="0" stop-color="#f9e5e2"/><stop offset="0.0025" stop-color="#f6d9d5"/><stop offset="0.0049" stop-color="#f7dbd8"/><stop offset="0.3211" stop-color="#f7dcd8"/><stop offset="0.3529" stop-color="#f2cdc6"/><stop offset="0.3652" stop-color="#a68ead"/><stop offset="0.375" stop-color="#534d92"/><stop offset="0.3824" stop-color="#1f2282"/><stop offset="0.3848" stop-color="#09127c"/><stop offset="0.3873" stop-color="#010b7a"/><stop offset="0.402" stop-color="#00167b"/><stop offset="0.4167" stop-color="#00217b"/><stop offset="0.4485" stop-color="#00147b"/><stop offset="0.4853" stop-color="#001a7a"/><stop offset="0.5147" stop-color="#020666"/><stop offset="0.549" stop-color="#02066c"/><stop offset="0.5809" stop-color="#01147b"/><stop offset="0.6103" stop-color="#00267b"/><stop offset="0.6422" stop-color="#00197b"/><stop offset="0.6446" stop-color="#07207d"/><stop offset="0.6495" stop-color="#313b87"/><stop offset="0.6569" stop-color="#656194"/><stop offset="0.6642" stop-color="#a28ea3"/><stop offset="0.674" stop-color="#e2bdb6"/><stop offset="0.6765" stop-color="#eec7ba"/><stop offset="0.7059" stop-color="#f4d0c9"/><stop offset="0.7083" stop-color="#efcdc8"/><stop offset="0.7181" stop-color="#b09bb2"/><stop offset="0.7279" stop-color="#5f5c98"/><stop offset="0.7402" stop-color="#02167b"/><stop offset="0.7721" stop-color="#001b7b"/><stop offset="0.8039" stop-color="#020267"/><stop offset="0.8137" stop-color="#02066c"/><stop offset="0.8382" stop-color="#001b7c"/><stop offset="0.8676" stop-color="#00337c"/><stop offset="0.8897" stop-color="#003d7d"/><stop offset="0.902" stop-color="#00417e"/><stop offset="0.9314" stop-color="#00417e"/><stop offset="0.9583" stop-color="#00467e"/><stop offset="0.9706" stop-color="#00447e"/><stop offset="0.9902" stop-color="#00377d"/><stop offset="0.9926" stop-color="#00397f"/><stop offset="0.9951" stop-color="#002474"/><stop offset="0.9975" stop-color="#859cc0"/><stop offset="1" stop-color="#ffffff"/></linearGradient>
<linearGradient id="r135" gradientUnits="userSpaceOnUse" x1="49.5" x2="457.5" y1="0" y2="0"><stop offset="0" stop-color="#fae2e0"/><stop offset="0.0025" stop-color="#f6d6d2"/><stop offset="0.2941" stop-color="#f7d8d4"/><stop offset="0.3529" stop-color="#f1c9c1"/><stop offset="0.3554" stop-color="#e3bdbb"/><stop offset="0.3652" stop-color="#947ea3"/><stop offset="0.3725" stop-color="#5e5291"/><stop offset="0.3824" stop-color="#070c76"/><stop offset="0.3848" stop-color="#000070"/><stop offset="0.4069" stop-color="#00026e"/><stop offset="0.4167" stop-color="#00066f"/><stop offset="0.4412" stop-color="#00006e"/><stop offset="0.4804" stop-color="#00026f"/><stop offset="0.4902" stop-color="#000067"/><stop offset="0.5074" stop-color="#000051"/><stop offset="0.5172" stop-color="#00004b"/><stop offset="0.5564" stop-color="#000059"/><stop offset="0.5809" stop-color="#00016f"/><stop offset="0.6005" stop-color="#00066f"/><stop offset="0.6103" stop-color="#000d6f"/><stop offset="0.6373" stop-color="#00036f"/><stop offset="0.6422" stop-color="#00026f"/><stop offset="0.6446" stop-color="#000671"/><stop offset="0.6471" stop-color="#051676"/><stop offset="0.652" stop-color="#343580"/><stop offset="0.6569" stop-color="#5b5287"/><stop offset="0.6642" stop-color="#90778f"/><stop offset="0.674" stop-color="#dbb1a3"/><stop offset="0.6765" stop-color="#e9bba7"/><stop offset="0.6887" stop-color="#ecc1b0"/><stop offset="0.7059" stop-color="#f3cbc4"/><stop offset="0.7083" stop-color="#eec8c3"/><stop offset="0.7132" stop-color="#c9acb6"/><stop offset="0.7279" stop-color="#56498f"/><stop offset="0.7353" stop-color="#13137a"/><stop offset="0.7377" stop-color="#010374"/><stop offset="0.7402" stop-color="#00006c"/><stop offset="0.7721" stop-color="#00016e"/><stop offset="0.8039" stop-color="#000063"/><stop offset="0.8407" stop-color="#00016f"/><stop offset="0.8529" stop-color="#00076f"/><stop offset="0.8676" stop-color="#00196f"/><stop offset="0.902" stop-color="#002b71"/><stop offset="0.9338" stop-color="#002c71"/><stop offset="0.9583" stop-color="#003271"/><stop offset="0.9706" stop-color="#003071"/><stop offset="0.9902" stop-color="#001f6f"/><stop offset="0.9926" stop-color="#002272"/><stop offset="0.9951" stop-color="#000965"/><stop offset="0.9975" stop-color="#7a91b9"/><stop offset="1" stop-color="#ffffff"/></linearGradient>
<linearGradient id="r136" gradientUnits="userSpaceOnUse" x1="49.5" x2="457.5" y1="0" y2="0"><stop offset="0" stop-color="#fef1f0"/><stop offset="0.0025" stop-color="#fbedeb"/><stop offset="0.2917" stop-color="#fbedec"/><stop offset="0.3505" stop-color="#f9e8e3"/><stop offset="0.3554" stop-color="#f2e1e0"/><stop offset="0.3603" stop-color="#ded0d9"/><stop offset="0.3799" stop-color="#9e9cc5"/><stop offset="0.3848" stop-color="#888bbe"/><stop offset="0.3873" stop-color="#8389bd"/><stop offset="0.4167" stop-color="#848fbe"/><stop offset="0.4485" stop-color="#8488bd"/><stop offset="0.4804" stop-color="#848cbe"/><stop offset="0.5147" stop-color="#8382ab"/><stop offset="0.5515" stop-color="#8283b2"/><stop offset="0.5784" stop-color="#848cbd"/><stop offset="0.6103" stop-color="#8393be"/><stop offset="0.6422" stop-color="#848cbe"/><stop offset="0.6446" stop-color="#8890bf"/><stop offset="0.6495" stop-color="#9d9ec3"/><stop offset="0.6691" stop-color="#d9cacc"/><stop offset="0.6765" stop-color="#f5ddd3"/><stop offset="0.7059" stop-color="#f9e7e4"/><stop offset="0.7083" stop-color="#f7e6e3"/><stop offset="0.7132" stop-color="#e3d5dc"/><stop offset="0.7328" stop-color="#a39dc7"/><stop offset="0.7402" stop-color="#8585bd"/><stop offset="0.7426" stop-color="#8485bd"/><stop offset="0.7696" stop-color="#848bbd"/><stop offset="0.8039" stop-color="#8484bb"/><stop offset="0.8333" stop-color="#8386bc"/><stop offset="0.8848" stop-color="#839bbe"/><stop offset="0.9608" stop-color="#84a2be"/><stop offset="0.9877" stop-color="#839bbe"/><stop offset="0.9926" stop-color="#869bbf"/><stop offset="0.9951" stop-color="#7990b9"/><stop offset="0.9975" stop-color="#c3ccdf"/><stop offset="1" stop-color="#ffffff"/></linearGradient>
<filter id="bl" x="-2%" y="-5%" width="104%" height="110%" color-interpolation-filters="sRGB"><feGaussianBlur stdDeviation="0.85 0.1"/></filter>
<linearGradient id="cb" x1="0" x2="0" y1="0" y2="1"><stop offset="0.0000" stop-color="#fefbfb"/><stop offset="0.0156" stop-color="#fdf3f2"/><stop offset="0.0312" stop-color="#fbe7e7"/><stop offset="0.0469" stop-color="#f9dddb"/><stop offset="0.0625" stop-color="#f6d4cf"/><stop offset="0.0781" stop-color="#f2ccc3"/><stop offset="0.0938" stop-color="#efc5b7"/><stop offset="0.1094" stop-color="#ecbeaa"/><stop offset="0.1250" stop-color="#e7b8a0"/><stop offset="0.1406" stop-color="#e3b396"/><stop offset="0.1562" stop-color="#dfaf8c"/><stop offset="0.1719" stop-color="#daac81"/><stop offset="0.1875" stop-color="#d5a977"/><stop offset="0.2031" stop-color="#d0a66c"/><stop offset="0.2188" stop-color="#cba561"/><stop offset="0.2344" stop-color="#c8a95f"/><stop offset="0.2500" stop-color="#c5ac5e"/><stop offset="0.2656" stop-color="#c1b05c"/><stop offset="0.2812" stop-color="#beb35a"/><stop offset="0.2969" stop-color="#bab758"/><stop offset="0.3125" stop-color="#b4b756"/><stop offset="0.3281" stop-color="#acb655"/><stop offset="0.3438" stop-color="#a3b454"/><stop offset="0.3594" stop-color="#9ab253"/><stop offset="0.3750" stop-color="#91b051"/><stop offset="0.3906" stop-color="#88af50"/><stop offset="0.4062" stop-color="#7ead4f"/><stop offset="0.4219" stop-color="#74ab4d"/><stop offset="0.4375" stop-color="#69a94c"/><stop offset="0.4531" stop-color="#5ea84a"/><stop offset="0.4688" stop-color="#4da648"/><stop offset="0.4844" stop-color="#39a445"/><stop offset="0.5000" stop-color="#1ba243"/><stop offset="0.5156" stop-color="#009f40"/><stop offset="0.5312" stop-color="#009d3e"/><stop offset="0.5469" stop-color="#009b42"/><stop offset="0.5625" stop-color="#009848"/><stop offset="0.5781" stop-color="#00964e"/><stop offset="0.5938" stop-color="#009454"/><stop offset="0.6094" stop-color="#00915a"/><stop offset="0.6250" stop-color="#008f60"/><stop offset="0.6406" stop-color="#008d65"/><stop offset="0.6562" stop-color="#008a6b"/><stop offset="0.6719" stop-color="#008870"/><stop offset="0.6875" stop-color="#008676"/><stop offset="0.7031" stop-color="#00837b"/><stop offset="0.7188" stop-color="#008181"/><stop offset="0.7344" stop-color="#007b80"/><stop offset="0.7500" stop-color="#007480"/><stop offset="0.7656" stop-color="#006d7f"/><stop offset="0.7812" stop-color="#00677f"/><stop offset="0.7969" stop-color="#00607e"/><stop offset="0.8125" stop-color="#00587d"/><stop offset="0.8281" stop-color="#00507d"/><stop offset="0.8438" stop-color="#00487c"/><stop offset="0.8594" stop-color="#003f7c"/><stop offset="0.8750" stop-color="#00367b"/><stop offset="0.8906" stop-color="#002d7a"/><stop offset="0.9062" stop-color="#00227a"/><stop offset="0.9219" stop-color="#001879"/><stop offset="0.9375" stop-color="#000d78"/><stop offset="0.9531" stop-color="#010478"/><stop offset="0.9688" stop-color="#010077"/><stop offset="0.9844" stop-color="#00004e"/><stop offset="1.0000" stop-color="#000000"/></linearGradient></defs>
<rect width="550" height="334" fill="#fff"/>
<g shape-rendering="crispEdges"><rect x="49" y="23" width="409" height="1" fill="url(#r23)"/>
<rect x="49" y="24" width="409" height="1" fill="url(#r24)"/>
<rect x="49" y="25" width="409" height="1" fill="url(#r25)"/>
<rect x="49" y="26" width="409" height="1" fill="url(#r26)"/>
<rect x="49" y="27" width="409" height="1" fill="url(#r27)"/>
<rect x="49" y="28" width="409" height="1" fill="url(#r28)"/>
<rect x="49" y="29" width="409" height="1" fill="url(#r29)"/>
<rect x="49" y="30" width="409" height="1" fill="url(#r30)"/>
<rect x="49" y="31" width="409" height="1" fill="url(#r31)"/>
<rect x="49" y="32" width="409" height="1" fill="url(#r32)"/>
<rect x="49" y="33" width="409" height="1" fill="url(#r33)"/>
<rect x="49" y="34" width="409" height="1" fill="url(#r34)"/>
<rect x="49" y="35" width="409" height="1" fill="url(#r35)"/>
<rect x="49" y="36" width="409" height="1" fill="url(#r36)"/>
<rect x="49" y="37" width="409" height="1" fill="url(#r37)"/>
<rect x="49" y="38" width="409" height="1" fill="url(#r38)"/>
<rect x="49" y="39" width="409" height="1" fill="url(#r39)"/>
<rect x="49" y="40" width="409" height="1" fill="url(#r40)"/>
<rect x="49" y="41" width="409" height="1" fill="url(#r41)"/>
<rect x="49" y="42" width="409" height="1" fill="url(#r42)"/>
<rect x="49" y="43" width="409" height="1" fill="url(#r43)"/>
<rect x="49" y="44" width="409" height="1" fill="url(#r44)"/>
<rect x="49" y="45" width="409" height="1" fill="url(#r45)"/>
<rect x="49" y="46" width="409" height="1" fill="url(#r46)"/>
<rect x="49" y="47" width="409" height="1" fill="url(#r47)"/>
<rect x="49" y="48" width="409" height="1" fill="url(#r48)"/>
<rect x="49" y="49" width="409" height="1" fill="url(#r49)"/>
<rect x="49" y="50" width="409" height="1" fill="url(#r50)"/>
<rect x="49" y="51" width="409" height="1" fill="url(#r51)"/>
<rect x="49" y="52" width="409" height="1" fill="url(#r52)"/>
<rect x="49" y="53" width="409" height="1" fill="url(#r53)"/>
<rect x="49" y="54" width="409" height="1" fill="url(#r54)"/>
<rect x="49" y="55" width="409" height="1" fill="url(#r55)"/>
<rect x="49" y="56" width="409" height="1" fill="url(#r56)"/>
<rect x="49" y="57" width="409" height="1" fill="url(#r57)"/>
<rect x="49" y="58" width="409" height="1" fill="url(#r58)"/>
<rect x="49" y="59" width="409" height="1" fill="url(#r59)"/>
<rect x="49" y="60" width="409" height="1" fill="url(#r60)"/>
<rect x="49" y="61" width="409" height="1" fill="url(#r61)"/>
<rect x="49" y="62" width="409" height="1" fill="url(#r62)"/>
<rect x="49" y="63" width="409" height="1" fill="url(#r63)"/>
<rect x="49" y="64" width="409" height="1" fill="url(#r64)"/>
<rect x="49" y="65" width="409" height="1" fill="url(#r65)"/>
<rect x="49" y="66" width="409" height="1" fill="url(#r66)"/>
<rect x="49" y="67" width="409" height="1" fill="url(#r67)"/>
<rect x="49" y="68" width="409" height="1" fill="url(#r68)"/>
<rect x="49" y="69" width="409" height="1" fill="url(#r69)"/>
<rect x="49" y="70" width="409" height="1" fill="url(#r70)"/>
<rect x="49" y="71" width="409" height="1" fill="url(#r71)"/>
<rect x="49" y="72" width="409" height="1" fill="url(#r72)"/>
<rect x="49" y="73" width="409" height="1" fill="url(#r73)"/>
<rect x="49" y="74" width="409" height="1" fill="url(#r74)"/>
<rect x="49" y="75" width="409" height="1" fill="url(#r75)"/>
<rect x="49" y="76" width="409" height="1" fill="url(#r76)"/>
<rect x="49" y="77" width="409" height="1" fill="url(#r77)"/>
<rect x="49" y="78" width="409" height="1" fill="url(#r78)"/>
<rect x="49" y="79" width="409" height="1" fill="url(#r79)"/>
<rect x="49" y="80" width="409" height="1" fill="url(#r80)"/>
<rect x="49" y="81" width="409" height="1" fill="url(#r81)"/>
<rect x="49" y="82" width="409" height="1" fill="url(#r82)"/>
<rect x="49" y="83" width="409" height="1" fill="url(#r83)"/>
<rect x="49" y="84" width="409" height="1" fill="url(#r84)"/>
<rect x="49" y="85" width="409" height="1" fill="url(#r85)"/>
<rect x="49" y="86" width="409" height="1" fill="url(#r86)"/>
<rect x="49" y="87" width="409" height="1" fill="url(#r87)"/>
<rect x="49" y="88" width="409" height="1" fill="url(#r88)"/>
<rect x="49" y="89" width="409" height="1" fill="url(#r89)"/>
<rect x="49" y="90" width="409" height="1" fill="url(#r90)"/>
<rect x="49" y="91" width="409" height="1" fill="url(#r91)"/>
<rect x="49" y="92" width="409" height="1" fill="url(#r92)"/>
<rect x="49" y="93" width="409" height="1" fill="url(#r93)"/>
<rect x="49" y="94" width="409" height="1" fill="url(#r94)"/>
<rect x="49" y="95" width="409" height="1" fill="url(#r95)"/>
<rect x="49" y="96" width="409" height="1" fill="url(#r96)"/>
<rect x="49" y="97" width="409" height="1" fill="url(#r97)"/>
<rect x="49" y="98" width="409" height="1" fill="url(#r98)"/>
<rect x="49" y="99" width="409" height="1" fill="url(#r99)"/>
<rect x="49" y="100" width="409" height="1" fill="url(#r100)"/>
<rect x="49" y="101" width="409" height="1" fill="url(#r101)"/>
<rect x="49" y="102" width="409" height="1" fill="url(#r102)"/>
<rect x="49" y="103" width="409" height="1" fill="url(#r103)"/>
<rect x="49" y="104" width="409" height="1" fill="url(#r104)"/>
<rect x="49" y="105" width="409" height="1" fill="url(#r105)"/>
<rect x="49" y="106" width="409" height="1" fill="url(#r106)"/>
<rect x="49" y="107" width="409" height="1" fill="url(#r107)"/>
<rect x="49" y="108" width="409" height="1" fill="url(#r108)"/>
<rect x="49" y="109" width="409" height="1" fill="url(#r109)"/>
<rect x="49" y="110" width="409" height="1" fill="url(#r110)"/>
<rect x="49" y="111" width="409" height="1" fill="url(#r111)"/>
<rect x="49" y="112" width="409" height="1" fill="url(#r112)"/>
<rect x="49" y="113" width="409" height="1" fill="url(#r113)"/>
<rect x="49" y="114" width="409" height="1" fill="url(#r114)"/>
<rect x="49" y="115" width="409" height="1" fill="url(#r115)"/>
<rect x="49" y="116" width="409" height="1" fill="url(#r116)"/>
<rect x="49" y="117" width="409" height="1" fill="url(#r117)"/>
<rect x="49" y="118" width="409" height="1" fill="url(#r118)"/>
<rect x="49" y="119" width="409" height="1" fill="url(#r119)"/>
<rect x="49" y="120" width="409" height="1" fill="url(#r120)"/>
<rect x="49" y="121" width="409" height="1" fill="url(#r121)"/>
<rect x="49" y="122" width="409" height="1" fill="url(#r122)"/>
<rect x="49" y="123" width="409" height="1" fill="url(#r123)"/>
<rect x="49" y="124" width="409" height="1" fill="url(#r124)"/>
<rect x="49" y="125" width="409" height="1" fill="url(#r125)"/>
<rect x="49" y="126" width="409" height="1" fill="url(#r126)"/>
<rect x="49" y="127" width="409" height="1" fill="url(#r127)"/>
<rect x="49" y="128" width="409" height="1" fill="url(#r128)"/>
<rect x="49" y="129" width="409" height="1" fill="url(#r129)"/>
<rect x="49" y="130" width="409" height="1" fill="url(#r130)"/>
<rect x="49" y="131" width="409" height="1" fill="url(#r131)"/>
<rect x="49" y="132" width="409" height="1" fill="url(#r132)"/>
<rect x="49" y="133" width="409" height="1" fill="url(#r133)"/>
<rect x="49" y="134" width="409" height="1" fill="url(#r134)"/>
<rect x="49" y="135" width="409" height="1" fill="url(#r135)"/>
<rect x="49" y="136" width="409" height="1" fill="url(#r136)"/></g>
<polyline points="68.10,242.00 68.47,226.15 68.84,211.85 69.21,200.50 69.58,193.21 69.95,190.70 70.32,193.21 70.69,200.50 71.06,211.85 71.43,226.15 71.80,242.00 72.17,257.85 72.54,272.15 72.91,283.50 73.28,290.79 73.65,293.30 74.02,290.79 74.39,283.50 74.76,272.15 75.13,257.85 75.50,242.00 75.87,226.15 76.24,211.85 76.61,200.50 76.98,193.21 77.35,190.70 77.72,193.21 78.09,200.50 78.46,211.85 78.83,226.15 79.20,242.00 79.57,257.85 79.94,272.15 80.31,283.50 80.68,290.79 81.05,293.30 81.42,290.79 81.79,283.50 82.16,272.15 82.53,257.85 82.90,242.00 83.27,226.15 83.64,211.85 84.01,200.50 84.38,193.21 84.75,190.70 85.12,193.21 85.49,200.50 85.86,211.85 86.23,226.15 86.60,242.00 86.98,257.85 87.35,272.15 87.72,283.50 88.09,290.79 88.46,293.30 88.83,290.79 89.20,283.50 89.57,272.15 89.94,257.85 90.31,242.00 90.68,226.15 91.05,211.85 91.42,200.50 91.79,193.21 92.16,190.70 92.53,193.21 92.90,200.50 93.27,211.85 93.64,226.15 94.01,242.00 94.38,257.85 94.75,272.15 95.12,283.50 95.49,290.79 95.86,293.30 96.23,290.79 96.60,283.50 96.97,272.15 97.34,257.85 97.71,242.00 98.08,226.15 98.45,211.85 98.82,200.50 99.19,193.21 99.56,190.70 99.93,193.21 100.30,200.50 100.67,211.85 101.04,226.15 101.41,242.00 101.78,257.85 102.15,272.15 102.52,283.50 102.89,290.79 103.26,293.30 103.63,290.79 104.00,283.50 104.37,272.15 104.74,257.85 105.11,242.00 105.48,226.15 105.85,211.85 106.22,200.50 106.59,193.21 106.96,190.70 107.33,193.21 107.70,200.50 108.07,211.85 108.44,226.15 108.81,242.00 109.18,257.85 109.55,272.15 109.92,283.50 110.29,290.79 110.66,293.30 111.03,290.79 111.40,283.50 111.77,272.15 112.14,257.85 112.51,242.00 112.88,226.15 113.25,211.85 113.62,200.50 113.99,193.21 114.36,190.70 114.73,193.21 115.10,200.50 115.47,211.85 115.84,226.15 116.21,242.00 116.58,257.85 116.95,272.15 117.32,283.50 117.69,290.79 118.06,293.30 118.43,290.79 118.80,283.50 119.17,272.15 119.54,257.85 119.91,242.00 120.28,226.15 120.65,211.85 121.02,200.50 121.39,193.21 121.76,190.70 122.13,193.21 122.50,200.50 122.87,211.85 123.24,226.15 123.61,242.00 123.99,257.85 124.36,272.15 124.73,283.50 125.10,290.79 125.47,293.30 125.84,290.79 126.21,283.50 126.58,272.15 126.95,257.85 127.32,242.00 127.69,226.15 128.06,211.85 128.43,200.50 128.80,193.21 129.17,190.70 129.54,193.21 129.91,200.50 130.28,211.85 130.65,226.15 131.02,242.00 131.39,257.85 131.76,272.15 132.13,283.50 132.50,290.79 132.87,293.30 133.24,290.79 133.61,283.50 133.98,272.15 134.35,257.85 134.72,242.00 135.09,226.15 135.46,211.85 135.83,200.50 136.20,193.21 136.57,190.70 136.94,193.21 137.31,200.50 137.68,211.85 138.05,226.15 138.42,242.00 138.79,257.85 139.16,272.15 139.53,283.50 139.90,290.79 140.27,293.30 140.64,290.79 141.01,283.50 141.38,272.15 141.75,257.85 142.12,242.00 142.49,226.15 142.86,211.85 143.23,200.50 143.60,193.21 143.97,190.70 144.34,193.21 144.71,200.50 145.08,211.85 145.45,226.15 145.82,242.00 146.19,257.85 146.56,272.15 146.93,283.50 147.30,290.79 147.67,293.30 148.04,290.79 148.41,283.50 148.78,272.15 149.15,257.85 149.52,242.00 149.89,226.15 150.26,211.85 150.63,200.50 151.00,193.21 151.37,190.70 151.74,193.21 152.11,200.50 152.48,211.85 152.85,226.15 153.22,242.00 153.59,257.85 153.96,272.15 154.33,283.50 154.70,290.79 155.07,293.30 155.44,290.79 155.81,283.50 156.18,272.15 156.55,257.85 156.92,242.00 157.29,226.15 157.66,211.85 158.03,200.50 158.40,193.21 158.77,190.70 159.14,193.21 159.51,200.50 159.88,211.85 160.25,226.15 160.62,242.00 161.00,257.85 161.37,272.15 161.74,283.50 162.11,290.79 162.48,293.30 162.85,290.79 163.22,283.50 163.59,272.15 163.96,257.85 164.33,242.00 164.70,226.15 165.07,211.85 165.44,200.50 165.81,193.21 166.18,190.70 166.55,193.21 166.92,200.50 167.29,211.85 167.66,226.15 168.03,242.00 168.40,257.85 168.77,272.15 169.14,283.50 169.51,290.79 169.88,293.30 170.25,290.79 170.62,283.50 170.99,272.15 171.36,257.85 171.73,242.00 172.10,226.15 172.47,211.85 172.84,200.50 173.21,193.21 173.58,190.70 173.95,193.21 174.32,200.50 174.69,211.85 175.06,226.15 175.43,242.00 175.80,257.85 176.17,272.15 176.54,283.50 176.91,290.79 177.28,293.30 177.65,290.79 178.02,283.50 178.39,272.15 178.76,257.85 179.13,242.00 179.50,226.15 179.87,211.85 180.24,200.50 180.61,193.21 180.98,190.70 181.35,193.21 181.72,200.50 182.09,211.85 182.46,226.15 182.83,242.00 183.20,257.85 183.57,272.15 183.94,283.50 184.31,290.79 184.68,293.30 185.05,290.79 185.42,283.50 185.79,272.15 186.16,257.85 186.53,242.00 186.90,226.15 187.27,211.85 187.64,200.50 188.01,193.21 188.38,190.70 188.75,193.21 189.12,200.50 189.49,211.85 189.86,226.15 190.23,242.00 190.60,257.85 190.97,272.15 191.34,193.21 191.71,211.85 192.08,242.00 192.45,272.15 192.82,290.79 193.19,290.79 193.56,272.15 193.93,242.00 194.30,211.85 194.67,193.21 195.04,193.21 195.41,211.85 195.78,242.00 196.15,272.15 196.52,290.79 196.89,290.79 197.26,272.15 197.64,242.00 198.01,211.85 198.38,193.21 198.75,193.21 199.12,211.85 199.49,242.00 199.86,272.15 200.23,290.79 200.60,290.79 200.97,272.15 201.34,242.00 201.71,211.85 202.08,193.21 202.45,193.21 202.82,211.85 203.19,242.00 203.56,272.15 203.93,290.79 204.30,290.79 204.67,272.15 205.04,242.00 205.41,211.85 205.78,193.21 206.15,193.21 206.52,211.85 206.89,242.00 207.26,272.15 207.63,290.79 208.00,290.79 208.37,272.15 208.74,242.00 209.11,211.85 209.48,193.21 209.85,193.21 210.22,211.85 210.59,242.00 210.96,272.15 211.33,290.79 211.70,290.79 212.07,272.15 212.44,242.00 212.81,211.85 213.18,193.21 213.55,193.21 213.92,211.85 214.29,242.00 214.66,272.15 215.03,290.79 215.40,290.79 215.77,272.15 216.14,242.00 216.51,211.85 216.88,193.21 217.25,193.21 217.62,211.85 217.99,242.00 218.36,272.15 218.73,290.79 219.10,290.79 219.47,272.15 219.84,242.00 220.21,211.85 220.58,193.21 220.95,193.21 221.32,211.85 221.69,242.00 222.06,272.15 222.43,290.79 222.80,290.79 223.17,272.15 223.54,242.00 223.91,211.85 224.28,193.21 224.65,193.21 225.02,211.85 225.39,242.00 225.76,272.15 226.13,290.79 226.50,290.79 226.87,272.15 227.24,242.00 227.61,211.85 227.98,193.21 228.35,193.21 228.72,211.85 229.09,242.00 229.46,272.15 229.83,290.79 230.20,290.79 230.57,272.15 230.94,242.00 231.31,211.85 231.68,193.21 232.05,193.21 232.42,211.85 232.79,242.00 233.16,272.15 233.53,290.79 233.90,290.79 234.27,272.15 234.65,242.00 235.02,211.85 235.39,193.21 235.76,193.21 236.13,211.85 236.50,242.00 236.87,272.15 237.24,290.79 237.61,290.79 237.98,272.15 238.35,242.00 238.72,211.85 239.09,193.21 239.46,193.21 239.83,211.85 240.20,242.00 240.57,272.15 240.94,290.79 241.31,290.79 241.68,272.15 242.05,242.00 242.42,211.85 242.79,193.21 243.16,193.21 243.53,211.85 243.90,242.00 244.27,272.15 244.64,290.79 245.01,290.79 245.38,272.15 245.75,242.00 246.12,211.85 246.49,193.21 246.86,193.21 247.23,211.85 247.60,242.00 247.97,272.15 248.34,290.79 248.71,290.79 249.08,272.15 249.45,242.00 249.82,211.85 250.19,193.21 250.56,193.21 250.93,211.85 251.30,242.00 251.67,272.15 252.04,290.79 252.41,290.79 252.78,272.15 253.15,242.00 253.52,211.85 253.89,193.21 254.26,193.21 254.63,211.85 255.00,242.00 255.37,272.15 255.74,290.79 256.11,290.79 256.48,272.15 256.85,242.00 257.22,211.85 257.59,193.21 257.96,193.21 258.33,211.85 258.70,242.00 259.07,272.15 259.44,290.79 259.81,290.79 260.18,272.15 260.55,242.00 260.92,211.85 261.29,193.21 261.66,193.21 262.03,211.85 262.40,242.00 262.77,272.15 263.14,290.79 263.51,290.79 263.88,272.15 264.25,242.00 264.62,211.85 264.99,193.21 265.36,193.21 265.73,211.85 266.10,242.00 266.47,272.15 266.84,290.79 267.21,290.79 267.58,272.15 267.95,242.00 268.32,211.85 268.69,193.21 269.06,193.21 269.43,211.85 269.80,242.00 270.17,272.15 270.54,290.79 270.91,290.79 271.28,272.15 271.66,242.00 272.03,211.85 272.40,193.21 272.77,193.21 273.14,211.85 273.51,242.00 273.88,272.15 274.25,290.79 274.62,290.79 274.99,272.15 275.36,242.00 275.73,211.85 276.10,193.21 276.47,193.21 276.84,211.85 277.21,242.00 277.58,272.15 277.95,290.79 278.32,290.79 278.69,272.15 279.06,242.00 279.43,211.85 279.80,193.21 280.17,193.21 280.54,211.85 280.91,242.00 281.28,272.15 281.65,290.79 282.02,290.79 282.39,272.15 282.76,242.00 283.13,211.85 283.50,193.21 283.87,193.21 284.24,211.85 284.61,242.00 284.98,272.15 285.35,290.79 285.72,290.79 286.09,272.15 286.46,242.00 286.83,211.85 287.20,193.21 287.57,193.21 287.94,211.85 288.31,242.00 288.68,272.15 289.05,290.79 289.42,290.79 289.79,272.15 290.16,242.00 290.53,211.85 290.90,193.21 291.27,193.21 291.64,211.85 292.01,242.00 292.38,272.15 292.75,290.79 293.12,290.79 293.49,272.15 293.86,242.00 294.23,211.85 294.60,193.21 294.97,193.21 295.34,211.85 295.71,242.00 296.08,272.15 296.45,290.79 296.82,290.79 297.19,272.15 297.56,242.00 297.93,211.85 298.30,193.21 298.67,193.21 299.04,211.85 299.41,242.00 299.78,272.15 300.15,290.79 300.52,290.79 300.89,272.15 301.26,242.00 301.63,211.85 302.00,193.21 302.37,193.21 302.74,211.85 303.11,242.00 303.48,272.15 303.85,290.79 304.22,290.79 304.59,272.15 304.96,242.00 305.33,211.85 305.70,193.21 306.07,193.21 306.44,211.85 306.81,242.00 307.18,272.15 307.55,290.79 307.92,290.79 308.29,272.15 308.67,242.00 309.04,211.85 309.41,193.21 309.78,193.21 310.15,211.85 310.52,242.00 310.89,272.15 311.26,290.79 311.63,290.79 312.00,272.15 312.37,242.00 312.74,211.85 313.11,193.21 313.48,193.21 313.85,211.85 314.22,242.00 314.59,193.21" fill="none" stroke="#0078b8" stroke-width="1.2" stroke-linejoin="round"/>
<polyline points="314.59,193.21 314.96,211.85 315.33,272.15 315.70,290.79 316.07,242.00 316.44,193.21 316.81,211.85 317.18,272.15 317.55,290.79 317.92,242.00 318.29,193.21 318.66,211.85 319.03,272.15 319.40,290.79 319.77,242.00 320.14,193.21 320.51,211.85 320.88,272.15 321.25,290.79 321.62,242.00 321.99,193.21 322.36,211.85 322.73,272.15 323.10,290.79 323.47,242.00 323.84,193.21 324.21,211.85 324.58,272.15 324.95,290.79 325.32,242.00 325.69,193.21 326.06,211.85 326.43,272.15 326.80,290.79 327.17,242.00 327.54,193.21 327.91,211.85 328.28,272.15 328.65,290.79 329.02,242.00 329.39,193.21 329.76,211.85 330.13,272.15 330.50,290.79 330.87,242.00 331.24,193.21 331.61,211.85 331.98,272.15 332.35,290.79 332.72,242.00 333.09,193.21 333.46,211.85 333.83,272.15 334.20,290.79 334.57,242.00 334.94,193.21 335.31,211.85 335.68,272.15 336.05,290.79 336.42,242.00 336.79,193.21 337.16,211.85 337.53,272.15 337.90,290.79 338.27,242.00 338.64,193.21 339.01,211.85 339.38,272.15 339.75,290.79 340.12,242.00 340.49,193.21 340.86,211.85 341.23,272.15 341.60,290.79 341.97,242.00 342.34,193.21 342.71,211.85 343.08,272.15 343.45,290.79 343.82,242.00 344.19,193.21 344.56,211.85 344.93,272.15 345.30,290.79 345.68,242.00 346.05,193.21 346.42,211.85 346.79,272.15 347.16,290.79 347.53,242.00 347.90,193.21 348.27,211.85 348.64,272.15 349.01,290.79 349.38,242.00 349.75,193.21 350.12,211.85 350.49,272.15 350.86,290.79 351.23,242.00 351.60,193.21 351.97,211.85 352.34,272.15 352.71,290.79 353.08,242.00 353.45,193.21 353.82,211.85 354.19,272.15 354.56,290.79 354.93,242.00 355.30,193.21 355.67,211.85 356.04,272.15 356.41,290.79 356.78,242.00 357.15,193.21 357.52,211.85 357.89,272.15 358.26,290.79 358.63,242.00 359.00,193.21 359.37,211.85 359.74,272.15 360.11,290.79 360.48,242.00 360.85,193.21 361.22,211.85 361.59,272.15 361.96,290.79 362.33,242.00 362.70,193.21 363.07,211.85 363.44,272.15 363.81,290.79 364.18,242.00 364.55,193.21 364.92,211.85 365.29,272.15 365.66,290.79 366.03,242.00 366.40,193.21 366.77,211.85 367.14,272.15 367.51,290.79 367.88,242.00 368.25,193.21 368.62,211.85 368.99,272.15 369.36,290.79 369.73,242.00 370.10,193.21 370.47,211.85 370.84,272.15 371.21,290.79 371.58,242.00 371.95,193.21 372.32,211.85 372.69,272.15 373.06,290.79 373.43,242.00 373.80,193.21 374.17,211.85 374.54,272.15 374.91,290.79 375.28,242.00 375.65,193.21 376.02,211.85 376.39,272.15 376.76,290.79 377.13,242.00 377.50,193.21 377.87,211.85 378.24,272.15 378.61,290.79 378.98,242.00 379.35,193.21 379.72,211.85 380.09,272.15 380.46,290.79 380.83,242.00 381.20,193.21 381.57,211.85 381.94,272.15 382.31,290.79 382.69,242.00 383.06,193.21 383.43,211.85 383.80,272.15 384.17,290.79 384.54,242.00 384.91,193.21 385.28,211.85 385.65,272.15 386.02,290.79 386.39,242.00 386.76,193.21 387.13,211.85 387.50,272.15 387.87,290.79 388.24,242.00 388.61,193.21 388.98,211.85 389.35,272.15 389.72,290.79 390.09,242.00 390.46,193.21 390.83,211.85 391.20,272.15 391.57,290.79 391.94,242.00 392.31,193.21 392.68,211.85 393.05,272.15 393.42,290.79 393.79,242.00 394.16,193.21 394.53,211.85 394.90,272.15 395.27,290.79 395.64,242.00 396.01,193.21 396.38,211.85 396.75,272.15 397.12,290.79 397.49,242.00 397.86,193.21 398.23,211.85 398.60,272.15 398.97,290.79 399.34,242.00 399.71,193.21 400.08,211.85 400.45,272.15 400.82,290.79 401.19,242.00 401.56,193.21 401.93,211.85 402.30,272.15 402.67,290.79 403.04,242.00 403.41,193.21 403.78,211.85 404.15,272.15 404.52,290.79 404.89,242.00 405.26,193.21 405.63,211.85 406.00,272.15 406.37,290.79 406.74,242.00 407.11,193.21 407.48,211.85 407.85,272.15 408.22,290.79 408.59,242.00 408.96,193.21 409.33,211.85 409.70,272.15 410.07,290.79 410.44,242.00 410.81,193.21 411.18,211.85 411.55,272.15 411.92,290.79 412.29,242.00 412.66,193.21 413.03,211.85 413.40,272.15 413.77,290.79 414.14,242.00 414.51,193.21 414.88,211.85 415.25,272.15 415.62,290.79 415.99,242.00 416.36,193.21 416.73,211.85 417.10,272.15 417.47,290.79 417.84,242.00 418.21,193.21 418.58,211.85 418.95,272.15 419.32,290.79 419.70,242.00 420.07,193.21 420.44,211.85 420.81,272.15 421.18,290.79 421.55,242.00 421.92,193.21 422.29,211.85 422.66,272.15 423.03,290.79 423.40,242.00 423.77,193.21 424.14,211.85 424.51,272.15 424.88,290.79 425.25,242.00 425.62,193.21 425.99,211.85 426.36,272.15 426.73,290.79 427.10,242.00 427.47,193.21 427.84,211.85 428.21,272.15 428.58,290.79 428.95,242.00 429.32,193.21 429.69,211.85 430.06,272.15 430.43,290.79 430.80,242.00 431.17,193.21 431.54,211.85 431.91,272.15 432.28,290.79 432.65,242.00 433.02,193.21 433.39,211.85 433.76,272.15 434.13,290.79 434.50,242.00 434.87,193.21 435.24,211.85 435.61,272.15 435.98,290.79 436.35,242.00 436.72,193.21 437.09,211.85 437.46,272.15 437.83,290.79" fill="none" stroke="#0078b8" stroke-width="1.5" stroke-linejoin="round" filter="url(#bl)"/>
<rect x="49.20" y="23.20" width="407.40" height="113.40" fill="none" stroke="#383838" stroke-width="1.0"/>
<rect x="49.20" y="185.30" width="407.40" height="113.00" fill="none" stroke="#383838" stroke-width="1.0"/>
<rect x="481.50" y="23.30" width="13.90" height="275.10" fill="url(#cb)"/>
<rect x="481.50" y="23.30" width="13.90" height="275.10" fill="none" stroke="#484848" stroke-width="0.85"/>
<text class="t" transform="translate(42.30 139.41) rotate(0.1)" text-anchor="end">0</text>
<text class="t" transform="translate(42.30 116.73) rotate(0.1)" text-anchor="end">100</text>
<text class="t" transform="translate(42.30 94.05) rotate(0.1)" text-anchor="end">200</text>
<text class="t" transform="translate(42.30 71.37) rotate(0.1)" text-anchor="end">300</text>
<text class="t" transform="translate(42.30 48.69) rotate(0.1)" text-anchor="end">400</text>
<text class="t" transform="translate(42.30 26.01) rotate(0.1)" text-anchor="end">500</text>
<text class="t" transform="translate(125.70 149.00) rotate(0.1)" text-anchor="middle">0.2</text>
<text class="t" transform="translate(213.30 149.00) rotate(0.1)" text-anchor="middle">0.4</text>
<text class="t" transform="translate(300.90 149.00) rotate(0.1)" text-anchor="middle">0.6</text>
<text class="t" transform="translate(388.50 149.00) rotate(0.1)" text-anchor="middle">0.8</text>
<text class="t" transform="translate(42.30 296.11) rotate(0.1)" text-anchor="end">−1.0</text>
<text class="t" transform="translate(42.30 270.46) rotate(0.1)" text-anchor="end">−0.5</text>
<text class="t" transform="translate(42.30 244.81) rotate(0.1)" text-anchor="end">0.0</text>
<text class="t" transform="translate(42.30 219.16) rotate(0.1)" text-anchor="end">0.5</text>
<text class="t" transform="translate(42.30 193.51) rotate(0.1)" text-anchor="end">1.0</text>
<text class="t" transform="translate(68.10 311.20) rotate(0.1)" text-anchor="middle">0.0</text>
<text class="t" transform="translate(142.12 311.20) rotate(0.1)" text-anchor="middle">0.2</text>
<text class="t" transform="translate(216.14 311.20) rotate(0.1)" text-anchor="middle">0.4</text>
<text class="t" transform="translate(290.16 311.20) rotate(0.1)" text-anchor="middle">0.6</text>
<text class="t" transform="translate(364.18 311.20) rotate(0.1)" text-anchor="middle">0.8</text>
<text class="t" transform="translate(438.20 311.20) rotate(0.1)" text-anchor="middle">1.0</text>
<text class="c" transform="translate(501.30 53.53) rotate(0.1)">−50</text>
<text class="c" transform="translate(501.30 97.16) rotate(0.1)">−100</text>
<text class="c" transform="translate(501.30 140.77) rotate(0.1)">−150</text>
<text class="c" transform="translate(501.30 184.40) rotate(0.1)">−200</text>
<text class="c" transform="translate(501.30 228.01) rotate(0.1)">−250</text>
<text class="c" transform="translate(501.30 271.63) rotate(0.1)">−300</text>
<path d="M46.20 136.60h3.00M46.20 113.92h3.00M46.20 91.24h3.00M46.20 68.56h3.00M46.20 45.88h3.00M46.20 23.20h3.00M125.70 136.60v3.00M213.30 136.60v3.00M300.90 136.60v3.00M388.50 136.60v3.00M46.20 293.30h3.00M46.20 267.65h3.00M46.20 242.00h3.00M46.20 216.35h3.00M46.20 190.70h3.00M68.10 298.30v3.00M142.12 298.30v3.00M216.14 298.30v3.00M290.16 298.30v3.00M364.18 298.30v3.00M438.20 298.30v3.00M495.40 50.40h3.00M495.40 94.02h3.00M495.40 137.64h3.00M495.40 181.26h3.00M495.40 224.88h3.00M495.40 268.50h3.00" stroke="#383838" stroke-width="1.0" fill="none"/>
<text class="s" transform="translate(252.35 14.7) rotate(0.1)" text-anchor="middle">signal spectrum</text>
<text class="s" transform="translate(252.3 162.6) rotate(0.1)" text-anchor="middle">time (s)</text>
<text class="s" transform="translate(254 326) rotate(0.1)" text-anchor="middle">time (s)</text>
<text class="s" transform="translate(15.9 80.35) rotate(-89.9)" text-anchor="middle">frequency (Hz)</text>
<text class="s" transform="translate(15.9 245.6) rotate(-89.9)" text-anchor="middle">amplitude (p.u.)</text>
<text class="s" transform="translate(543.8 162.9) rotate(-89.9)" text-anchor="middle">signal power ratio (dB)</text>
</svg></body></html>
